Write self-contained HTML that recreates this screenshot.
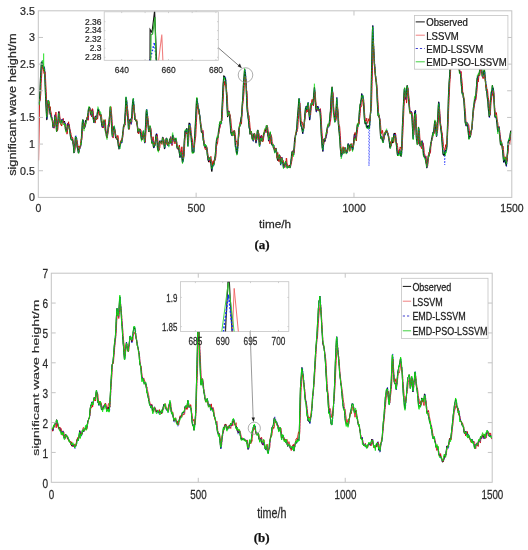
<!DOCTYPE html>
<html><head><meta charset="utf-8"><title>Significant wave height forecasts</title>
<style>html,body{margin:0;padding:0;background:#fff;}body{width:528px;height:550px;overflow:hidden;}svg{display:block;filter:blur(0.3px);}</style>
</head><body>
<svg width="528" height="550" viewBox="0 0 528 550">
<rect width="528" height="550" fill="#fff"/>
<clipPath id="ca"><rect x="38.3" y="10.8" width="473.5" height="186.6"/></clipPath>
<g clip-path="url(#ca)"><path d="M38.60,102.27 38.92,104.21 39.23,103.79 39.55,100.46 39.86,95.15 40.18,88.89 40.49,79.27 40.81,73.46 41.12,68.86 41.44,62.30 41.76,62.13 42.07,62.40 42.39,63.20 42.70,64.37 43.02,66.71 43.33,69.01 43.65,68.67 43.96,69.32 44.28,67.16 44.60,71.25 44.91,77.07 45.23,85.48 45.54,94.05 45.86,102.59 46.17,108.13 46.49,113.72 46.80,119.48 47.12,116.97 47.44,111.35 47.75,105.56 48.07,100.54 48.38,101.14 48.70,103.61 49.01,103.27 49.33,107.10 49.64,108.59 49.96,112.51 50.28,114.21 50.59,113.83 50.91,115.56 51.22,117.01 51.54,117.04 51.85,118.79 52.17,119.18 52.48,121.01 52.80,125.92 53.12,127.40 53.43,126.51 53.75,127.31 54.06,126.47 54.38,122.48 54.69,119.82 55.01,115.28 55.32,115.00 55.64,118.47 55.95,123.78 56.27,126.20 56.59,131.15 56.90,130.83 57.22,128.58 57.53,124.27 57.85,121.52 58.16,119.35 58.48,113.99 58.79,111.78 59.11,114.68 59.43,117.02 59.74,120.30 60.06,122.51 60.37,122.88 60.69,121.95 61.00,122.45 61.32,121.64 61.63,121.03 61.95,119.75 62.27,121.15 62.58,119.86 62.90,121.25 63.21,122.59 63.53,122.23 63.84,121.62 64.16,121.95 64.47,121.60 64.79,124.71 65.11,123.34 65.42,128.64 65.74,130.15 66.05,130.18 66.37,130.48 66.68,131.71 67.00,128.39 67.31,126.70 67.63,124.00 67.95,123.77 68.26,124.03 68.58,124.12 68.89,125.17 69.21,128.35 69.52,129.18 69.84,131.04 70.15,133.10 70.47,136.24 70.79,138.19 71.10,138.92 71.42,139.90 71.73,139.89 72.05,140.02 72.36,139.44 72.68,140.64 72.99,143.15 73.31,144.58 73.63,147.68 73.94,152.61 74.26,152.35 74.57,148.96 74.89,144.37 75.20,140.69 75.52,136.62 75.83,137.74 76.15,137.40 76.47,138.45 76.78,142.48 77.10,146.28 77.41,147.97 77.73,148.62 78.04,150.73 78.36,152.64 78.67,152.67 78.99,149.81 79.31,149.04 79.62,148.49 79.94,146.59 80.25,146.65 80.57,145.77 80.88,144.57 81.20,142.71 81.51,137.79 81.83,131.93 82.15,126.67 82.46,122.36 82.78,119.99 83.09,120.14 83.41,121.00 83.72,124.98 84.04,128.31 84.35,128.19 84.67,127.04 84.98,126.47 85.30,125.14 85.62,120.76 85.93,121.44 86.25,120.16 86.56,120.35 86.88,118.24 87.19,118.40 87.51,118.92 87.82,115.06 88.14,112.89 88.46,109.63 88.77,108.79 89.09,107.74 89.40,107.72 89.72,107.71 90.03,110.50 90.35,110.60 90.66,112.95 90.98,114.92 91.30,114.79 91.61,113.30 91.93,110.81 92.24,109.82 92.56,111.57 92.87,115.83 93.19,117.39 93.50,119.46 93.82,122.23 94.14,121.73 94.45,120.74 94.77,120.85 95.08,118.48 95.40,116.30 95.71,116.38 96.03,118.11 96.34,119.16 96.66,117.69 96.98,116.06 97.29,113.51 97.61,111.71 97.92,109.23 98.24,109.45 98.55,109.99 98.87,111.49 99.18,112.11 99.50,112.99 99.82,114.67 100.13,115.17 100.45,114.49 100.76,114.71 101.08,119.14 101.39,121.97 101.71,123.95 102.02,125.82 102.34,127.17 102.66,126.64 102.97,124.85 103.29,122.11 103.60,121.27 103.92,120.99 104.23,121.77 104.55,121.72 104.86,124.54 105.18,127.46 105.50,131.06 105.81,132.45 106.13,132.82 106.44,135.90 106.76,136.61 107.07,137.53 107.39,133.99 107.70,131.99 108.02,129.48 108.34,125.45 108.65,125.01 108.97,122.36 109.28,119.35 109.60,116.03 109.91,112.12 110.23,107.34 110.54,109.12 110.86,112.31 111.18,114.96 111.49,122.11 111.81,128.75 112.12,134.03 112.44,136.43 112.75,132.40 113.07,130.42 113.38,129.24 113.70,127.58 114.01,126.78 114.33,127.60 114.65,130.41 114.96,131.69 115.28,134.71 115.59,136.75 115.91,137.70 116.22,138.01 116.54,138.13 116.85,139.01 117.17,139.03 117.49,139.29 117.80,140.69 118.12,143.48 118.43,146.12 118.75,146.52 119.06,148.83 119.38,148.01 119.69,146.70 120.01,145.57 120.33,144.68 120.64,142.31 120.96,141.97 121.27,140.92 121.59,142.63 121.90,141.42 122.22,138.66 122.53,135.64 122.85,132.38 123.17,130.78 123.48,126.63 123.80,126.24 124.11,124.60 124.43,125.69 124.74,120.58 125.06,115.62 125.37,111.74 125.69,102.97 126.01,97.57 126.32,100.23 126.64,100.96 126.95,106.37 127.27,109.94 127.58,115.02 127.90,119.78 128.21,122.59 128.53,128.83 128.85,128.33 129.16,124.61 129.48,122.05 129.79,119.99 130.11,119.57 130.42,121.28 130.74,121.34 131.05,123.76 131.37,120.35 131.69,117.21 132.00,113.35 132.32,107.12 132.63,102.82 132.95,100.87 133.26,99.21 133.58,103.46 133.89,106.85 134.21,110.40 134.53,114.76 134.84,119.34 135.16,119.57 135.47,119.83 135.79,120.37 136.10,120.46 136.42,121.44 136.73,121.40 137.05,124.18 137.37,125.58 137.68,130.08 138.00,132.52 138.31,130.95 138.63,131.15 138.94,130.81 139.26,129.86 139.57,129.20 139.89,129.38 140.21,131.84 140.52,133.76 140.84,135.02 141.15,137.19 141.47,138.97 141.78,139.60 142.10,139.26 142.41,137.14 142.73,134.51 143.04,133.42 143.36,131.31 143.68,135.16 143.99,137.03 144.31,139.55 144.62,142.55 144.94,137.36 145.25,133.77 145.57,126.01 145.88,120.19 146.20,113.12 146.52,109.86 146.83,111.56 147.15,112.89 147.46,118.38 147.78,121.67 148.09,124.92 148.41,128.35 148.72,131.47 149.04,130.90 149.36,129.56 149.67,129.58 149.99,126.35 150.30,128.59 150.62,131.01 150.93,134.73 151.25,136.93 151.56,140.00 151.88,142.87 152.20,141.62 152.51,140.74 152.83,141.26 153.14,143.80 153.46,146.56 153.77,147.57 154.09,146.46 154.40,145.99 154.72,145.34 155.04,144.80 155.35,140.91 155.67,139.12 155.98,135.73 156.30,134.28 156.61,135.36 156.93,139.16 157.24,142.92 157.56,147.68 157.88,149.94 158.19,149.91 158.51,150.48 158.82,145.60 159.14,143.04 159.45,141.94 159.77,141.23 160.08,142.43 160.40,141.38 160.72,141.59 161.03,142.55 161.35,142.98 161.66,142.46 161.98,140.79 162.29,139.68 162.61,137.36 162.92,138.61 163.24,138.44 163.56,139.89 163.87,143.19 164.19,145.77 164.50,148.53 164.82,147.67 165.13,144.25 165.45,143.55 165.76,143.17 166.08,139.09 166.40,138.27 166.71,139.31 167.03,139.46 167.34,141.38 167.66,143.25 167.97,145.38 168.29,143.57 168.60,143.96 168.92,143.88 169.24,142.46 169.55,139.70 169.87,139.59 170.18,138.58 170.50,141.40 170.81,142.44 171.13,143.38 171.44,143.20 171.76,142.50 172.07,139.34 172.39,137.06 172.71,135.14 173.02,136.35 173.34,138.09 173.65,139.17 173.97,138.91 174.28,141.48 174.60,141.71 174.91,140.64 175.23,140.18 175.55,138.53 175.86,139.56 176.18,140.16 176.49,143.33 176.81,145.72 177.12,147.72 177.44,148.59 177.75,148.60 178.07,147.52 178.39,147.51 178.70,148.41 179.02,150.40 179.33,152.73 179.65,154.37 179.96,157.25 180.28,156.10 180.59,153.79 180.91,152.49 181.23,152.26 181.54,154.24 181.86,156.79 182.17,159.11 182.49,162.25 182.80,161.08 183.12,160.67 183.43,158.10 183.75,154.42 184.07,146.27 184.38,140.11 184.70,136.89 185.01,131.47 185.33,130.98 185.64,131.27 185.96,131.96 186.27,131.00 186.59,129.01 186.91,128.69 187.22,133.04 187.54,138.41 187.85,145.38 188.17,141.06 188.48,134.67 188.80,128.47 189.11,123.20 189.43,124.64 189.75,123.58 190.06,128.38 190.38,130.57 190.69,134.47 191.01,135.16 191.32,139.07 191.64,142.86 191.95,146.57 192.27,151.95 192.59,152.32 192.90,151.96 193.22,152.68 193.53,152.45 193.85,151.71 194.16,145.45 194.48,140.64 194.79,135.43 195.11,129.86 195.43,124.31 195.74,117.18 196.06,111.69 196.37,104.78 196.69,98.55 197.00,98.62 197.32,101.72 197.63,103.96 197.95,107.51 198.27,108.54 198.58,108.75 198.90,110.12 199.21,111.99 199.53,114.81 199.84,116.07 200.16,119.26 200.47,123.75 200.79,126.05 201.11,128.22 201.42,131.86 201.74,131.84 202.05,132.58 202.37,132.25 202.68,133.48 203.00,137.20 203.31,140.34 203.63,141.09 203.94,143.72 204.26,145.71 204.58,145.92 204.89,144.78 205.21,147.37 205.52,145.34 205.84,147.07 206.15,146.55 206.47,147.00 206.78,148.69 207.10,151.77 207.42,155.21 207.73,156.34 208.05,159.95 208.36,160.26 208.68,161.59 208.99,159.92 209.31,160.13 209.62,159.08 209.94,157.54 210.26,158.10 210.57,162.24 210.89,162.85 211.20,165.95 211.52,169.33 211.83,171.08 212.15,168.33 212.46,167.24 212.78,165.53 213.10,163.87 213.41,165.14 213.73,163.02 214.04,163.47 214.36,160.00 214.67,160.52 214.99,157.09 215.30,155.98 215.62,151.49 215.94,147.54 216.25,144.02 216.57,140.32 216.88,139.06 217.20,137.97 217.51,137.67 217.83,137.41 218.14,136.12 218.46,132.26 218.78,130.01 219.09,128.51 219.41,127.57 219.72,124.71 220.04,122.49 220.35,122.88 220.67,121.86 220.98,121.93 221.30,122.83 221.62,117.56 221.93,111.00 222.25,104.99 222.56,97.98 222.88,90.83 223.19,84.11 223.51,80.50 223.82,75.93 224.14,76.19 224.46,78.14 224.77,76.99 225.09,78.42 225.40,78.46 225.72,81.20 226.03,85.96 226.35,91.27 226.66,95.71 226.98,104.55 227.30,110.68 227.61,116.53 227.93,114.77 228.24,113.57 228.56,111.80 228.87,111.24 229.19,113.19 229.50,114.40 229.82,119.35 230.14,122.38 230.45,126.23 230.77,131.91 231.08,133.10 231.40,132.88 231.71,135.19 232.03,134.31 232.34,132.42 232.66,133.79 232.97,132.92 233.29,132.07 233.61,131.51 233.92,131.06 234.24,130.92 234.55,134.74 234.87,137.53 235.18,141.70 235.50,146.70 235.81,146.46 236.13,149.52 236.45,152.26 236.76,153.62 237.08,153.86 237.39,151.65 237.71,146.38 238.02,142.62 238.34,137.99 238.65,133.34 238.97,128.91 239.29,127.30 239.60,125.97 239.92,125.76 240.23,124.57 240.55,121.34 240.86,120.12 241.18,117.42 241.49,116.62 241.81,112.39 242.13,106.98 242.44,103.03 242.76,99.00 243.07,94.95 243.39,86.89 243.70,81.06 244.02,77.87 244.33,73.72 244.65,69.28 244.97,71.98 245.28,72.76 245.60,76.87 245.91,82.25 246.23,87.19 246.54,94.38 246.86,104.08 247.17,108.89 247.49,112.46 247.81,114.44 248.12,117.56 248.44,119.30 248.75,123.36 249.07,126.56 249.38,128.01 249.70,129.39 250.01,134.04 250.33,133.76 250.65,132.90 250.96,132.28 251.28,131.75 251.59,133.75 251.91,136.51 252.22,138.58 252.54,139.31 252.85,139.24 253.17,140.69 253.49,136.40 253.80,134.61 254.12,133.88 254.43,133.86 254.75,135.78 255.06,137.34 255.38,138.72 255.69,139.83 256.01,142.62 256.33,140.15 256.64,137.35 256.96,135.01 257.27,132.37 257.59,130.41 257.90,130.47 258.22,132.43 258.53,133.46 258.85,138.44 259.17,142.21 259.48,145.71 259.80,144.38 260.11,141.58 260.43,138.76 260.74,136.61 261.06,139.25 261.37,138.67 261.69,140.20 262.00,140.91 262.32,140.46 262.64,138.83 262.95,138.35 263.27,136.53 263.58,134.02 263.90,133.17 264.21,133.78 264.53,132.40 264.84,131.91 265.16,130.75 265.48,130.80 265.79,128.97 266.11,128.58 266.42,125.80 266.74,126.71 267.05,126.04 267.37,129.50 267.68,132.58 268.00,135.85 268.32,136.88 268.63,140.59 268.95,139.11 269.26,137.73 269.58,138.01 269.89,134.71 270.21,132.71 270.52,135.28 270.84,136.87 271.16,138.61 271.47,142.68 271.79,144.28 272.10,144.81 272.42,144.68 272.73,145.31 273.05,145.21 273.36,147.47 273.68,145.74 274.00,149.00 274.31,149.49 274.63,152.02 274.94,151.84 275.26,151.12 275.57,149.53 275.89,148.34 276.20,149.31 276.52,152.42 276.84,154.73 277.15,157.70 277.47,159.36 277.78,160.23 278.10,160.35 278.41,160.10 278.73,158.89 279.04,155.37 279.36,155.23 279.68,155.41 279.99,157.71 280.31,161.11 280.62,164.26 280.94,163.12 281.25,160.80 281.57,158.80 281.88,157.84 282.20,160.57 282.52,160.54 282.83,162.79 283.15,164.12 283.46,167.23 283.78,166.21 284.09,167.04 284.41,164.66 284.72,164.11 285.04,163.37 285.36,163.49 285.67,161.75 285.99,162.13 286.30,165.10 286.62,164.88 286.93,166.29 287.25,167.68 287.56,167.53 287.88,167.14 288.20,167.18 288.51,167.03 288.83,167.08 289.14,165.70 289.46,166.48 289.77,166.41 290.09,167.51 290.40,165.10 290.72,163.43 291.03,160.51 291.35,158.29 291.67,154.63 291.98,152.30 292.30,151.46 292.61,151.87 292.93,153.37 293.24,153.86 293.56,154.70 293.87,150.17 294.19,147.22 294.51,141.92 294.82,138.95 295.14,137.27 295.45,135.18 295.77,134.60 296.08,134.08 296.40,131.65 296.71,128.50 297.03,124.76 297.35,119.90 297.66,114.98 297.98,112.08 298.29,108.66 298.61,103.57 298.92,98.96 299.24,99.15 299.55,104.98 299.87,109.25 300.19,117.29 300.50,122.04 300.82,124.78 301.13,126.21 301.45,125.86 301.76,128.30 302.08,129.14 302.39,131.23 302.71,133.25 303.03,130.85 303.34,130.47 303.66,126.17 303.97,125.07 304.29,122.42 304.60,118.80 304.92,114.48 305.23,110.97 305.55,108.35 305.87,107.45 306.18,106.34 306.50,108.43 306.81,109.98 307.13,109.03 307.44,106.73 307.76,104.36 308.07,102.79 308.39,107.64 308.71,110.07 309.02,113.17 309.34,116.51 309.65,119.64 309.97,117.18 310.28,113.51 310.60,109.26 310.91,106.30 311.23,103.30 311.55,103.21 311.86,104.81 312.18,103.43 312.49,102.78 312.81,103.79 313.12,101.12 313.44,98.99 313.75,94.51 314.07,91.61 314.39,87.77 314.70,90.98 315.02,96.42 315.33,101.65 315.65,105.57 315.96,108.88 316.28,111.48 316.59,110.22 316.91,109.34 317.23,106.53 317.54,107.44 317.86,106.91 318.17,107.66 318.49,108.54 318.80,109.97 319.12,110.55 319.43,110.56 319.75,109.66 320.06,111.43 320.38,115.98 320.70,121.47 321.01,127.75 321.33,133.89 321.64,138.90 321.96,143.60 322.27,147.50 322.59,149.45 322.90,151.01 323.22,146.56 323.54,142.92 323.85,139.69 324.17,139.06 324.48,139.78 324.80,141.25 325.11,141.03 325.43,138.52 325.74,137.87 326.06,135.62 326.38,135.48 326.69,131.65 327.01,129.59 327.32,127.91 327.64,126.06 327.95,126.80 328.27,125.00 328.58,126.14 328.90,125.53 329.22,124.29 329.53,121.11 329.85,117.63 330.16,113.76 330.48,111.58 330.79,104.82 331.11,98.24 331.42,94.60 331.74,89.26 332.06,87.13 332.37,90.42 332.69,95.39 333.00,102.40 333.32,108.73 333.63,113.59 333.95,114.62 334.26,115.54 334.58,120.23 334.90,121.50 335.21,120.75 335.53,118.47 335.84,113.25 336.16,108.82 336.47,104.34 336.79,97.96 337.10,102.82 337.42,108.47 337.74,112.52 338.05,117.43 338.37,123.33 338.68,126.99 339.00,130.06 339.31,133.02 339.63,136.81 339.94,140.19 340.26,146.23 340.58,150.28 340.89,153.76 341.21,156.48 341.52,155.27 341.84,154.88 342.15,152.91 342.47,148.65 342.78,150.10 343.10,150.97 343.42,152.08 343.73,152.51 344.05,150.88 344.36,152.04 344.68,149.89 344.99,147.72 345.31,149.66 345.62,151.11 345.94,151.50 346.26,152.90 346.57,152.09 346.89,152.78 347.20,150.61 347.52,148.06 347.83,144.54 348.15,143.90 348.46,145.44 348.78,146.95 349.09,147.23 349.41,149.19 349.73,147.38 350.04,145.11 350.36,144.58 350.67,145.61 350.99,144.17 351.30,144.77 351.62,147.26 351.93,147.44 352.25,148.67 352.57,149.99 352.88,148.92 353.20,146.36 353.51,144.27 353.83,140.59 354.14,136.87 354.46,134.20 354.77,135.87 355.09,136.63 355.41,136.19 355.72,138.67 356.04,134.83 356.35,132.92 356.67,130.48 356.98,128.02 357.30,125.48 357.61,124.48 357.93,124.16 358.25,125.38 358.56,124.15 358.88,119.46 359.19,115.48 359.51,111.16 359.82,107.62 360.14,104.84 360.45,104.09 360.77,102.02 361.09,100.50 361.40,98.55 361.72,93.87 362.03,95.73 362.35,95.43 362.66,95.73 362.98,96.87 363.29,100.69 363.61,105.08 363.93,109.82 364.24,115.47 364.56,120.01 364.87,122.16 365.19,123.63 365.50,123.05 365.82,123.11 366.13,122.77 366.45,126.43 366.77,127.39 367.08,127.48 367.40,126.78 367.71,127.65 368.03,125.75 368.34,127.50 368.66,126.46 368.97,127.36 369.29,128.07 369.61,125.04 369.92,120.08 370.24,115.62 370.55,112.35 370.87,110.32 371.18,94.88 371.50,77.34 371.81,61.69 372.13,46.35 372.45,31.82 372.76,25.84 373.08,34.93 373.39,43.88 373.71,51.57 374.02,55.51 374.34,62.79 374.65,66.34 374.97,69.59 375.29,74.40 375.60,77.69 375.92,79.71 376.23,82.10 376.55,86.13 376.86,90.18 377.18,98.25 377.49,104.27 377.81,110.78 378.13,115.53 378.44,114.09 378.76,116.05 379.07,117.14 379.39,117.35 379.70,121.30 380.02,126.91 380.33,132.17 380.65,136.67 380.96,138.14 381.28,138.40 381.60,137.03 381.91,137.16 382.23,139.54 382.54,139.66 382.86,141.38 383.17,142.21 383.49,140.23 383.80,137.75 384.12,135.86 384.44,133.69 384.75,134.94 385.07,134.78 385.38,132.59 385.70,131.83 386.01,131.69 386.33,131.12 386.64,130.80 386.96,132.02 387.28,133.16 387.59,133.24 387.91,134.69 388.22,135.40 388.54,136.47 388.85,138.67 389.17,141.02 389.48,142.98 389.80,146.55 390.12,147.97 390.43,147.77 390.75,145.40 391.06,143.69 391.38,143.78 391.69,140.95 392.01,139.92 392.32,141.07 392.64,142.56 392.96,141.60 393.27,141.30 393.59,137.53 393.90,134.33 394.22,133.52 394.53,133.78 394.85,133.95 395.16,133.53 395.48,136.98 395.80,139.44 396.11,142.21 396.43,143.92 396.74,148.36 397.06,150.87 397.37,153.93 397.69,155.23 398.00,154.73 398.32,152.30 398.64,154.03 398.95,152.68 399.27,153.47 399.58,150.00 399.90,150.86 400.21,152.88 400.53,154.90 400.84,155.96 401.16,156.04 401.48,154.27 401.79,146.64 402.11,137.02 402.42,127.77 402.74,120.29 403.05,115.50 403.37,106.96 403.68,100.85 404.00,94.18 404.32,89.62 404.63,88.42 404.95,92.07 405.26,94.29 405.58,96.90 405.89,99.07 406.21,95.22 406.52,91.48 406.84,88.13 407.16,85.66 407.47,86.86 407.79,89.83 408.10,93.82 408.42,97.72 408.73,100.97 409.05,104.49 409.36,107.64 409.68,111.64 409.99,111.61 410.31,112.50 410.63,112.45 410.94,112.36 411.26,111.86 411.57,113.72 411.89,116.08 412.20,120.62 412.52,127.25 412.83,133.62 413.15,138.51 413.47,131.65 413.78,128.20 414.10,123.02 414.41,118.29 414.73,112.44 415.04,111.80 415.36,110.62 415.67,119.83 415.99,127.48 416.31,136.15 416.62,139.73 416.94,140.90 417.25,143.99 417.57,143.80 417.88,137.04 418.20,132.89 418.51,127.30 418.83,129.25 419.15,135.26 419.46,139.74 419.78,143.21 420.09,145.66 420.41,145.34 420.72,145.68 421.04,145.00 421.35,143.45 421.67,142.18 421.99,141.00 422.30,142.81 422.62,143.10 422.93,147.09 423.25,150.60 423.56,155.50 423.88,154.90 424.19,156.83 424.51,156.99 424.83,156.62 425.14,158.15 425.46,157.76 425.77,161.43 426.09,162.74 426.40,164.06 426.72,167.69 427.03,166.01 427.35,164.37 427.67,161.49 427.98,159.21 428.30,155.82 428.61,156.09 428.93,155.81 429.24,153.87 429.56,152.40 429.87,150.01 430.19,148.27 430.51,145.96 430.82,143.50 431.14,142.48 431.45,140.53 431.77,138.23 432.08,137.90 432.40,135.23 432.71,134.68 433.03,132.49 433.35,133.37 433.66,132.76 433.98,128.97 434.29,126.49 434.61,122.60 434.92,121.14 435.24,122.23 435.55,126.17 435.87,130.00 436.19,132.82 436.50,136.08 436.82,133.42 437.13,129.55 437.45,122.99 437.76,118.13 438.08,111.72 438.39,105.86 438.71,102.19 439.02,104.38 439.34,111.59 439.66,116.56 439.97,121.10 440.29,124.24 440.60,126.40 440.92,129.37 441.23,131.42 441.55,133.86 441.86,139.82 442.18,142.54 442.50,147.19 442.81,151.28 443.13,154.22 443.44,154.57 443.76,154.87 444.07,155.40 444.39,154.73 444.70,152.97 445.02,150.75 445.34,153.06 445.65,151.49 445.97,150.42 446.28,150.33 446.60,147.89 446.91,145.26 447.23,135.68 447.54,126.87 447.86,117.59 448.18,107.78 448.49,96.86 448.81,90.07 449.12,83.55 449.44,78.95 449.75,75.11 450.07,65.93 450.38,56.95 450.70,50.98 451.02,43.55 451.33,38.62 451.65,37.72 451.96,37.56 452.28,36.75 452.59,33.32 452.91,30.72 453.22,31.77 453.54,32.32 453.86,33.39 454.17,34.11 454.49,37.69 454.80,38.86 455.12,41.20 455.43,46.64 455.75,48.34 456.06,52.42 456.38,53.35 456.70,54.51 457.01,55.03 457.33,56.93 457.64,57.61 457.96,58.45 458.27,61.71 458.59,63.11 458.90,67.05 459.22,69.58 459.54,71.06 459.85,72.79 460.17,72.72 460.48,73.27 460.80,77.50 461.11,81.34 461.43,84.85 461.74,88.31 462.06,92.94 462.38,92.09 462.69,93.24 463.01,94.80 463.32,97.57 463.64,98.33 463.95,100.96 464.27,106.07 464.58,111.31 464.90,115.80 465.22,122.13 465.53,123.26 465.85,124.70 466.16,125.69 466.48,124.34 466.79,122.66 467.11,123.59 467.42,125.28 467.74,127.06 468.05,129.49 468.37,132.54 468.69,136.25 469.00,138.60 469.32,137.72 469.63,136.68 469.95,136.16 470.26,136.47 470.58,133.97 470.89,131.75 471.21,130.93 471.53,130.06 471.84,128.91 472.16,124.32 472.47,120.68 472.79,115.60 473.10,111.90 473.42,108.25 473.73,106.94 474.05,104.02 474.37,102.11 474.68,99.85 475.00,99.93 475.31,98.34 475.63,96.43 475.94,94.86 476.26,90.36 476.57,86.45 476.89,81.31 477.21,78.23 477.52,79.02 477.84,76.28 478.15,75.67 478.47,74.35 478.78,74.49 479.10,75.07 479.41,73.17 479.73,69.29 480.05,67.01 480.36,66.57 480.68,65.38 480.99,67.87 481.31,68.68 481.62,69.22 481.94,72.83 482.25,76.04 482.57,76.71 482.89,75.06 483.20,74.79 483.52,73.02 483.83,70.96 484.15,71.72 484.46,70.66 484.78,74.14 485.09,77.06 485.41,80.33 485.73,83.65 486.04,86.24 486.36,90.71 486.67,91.17 486.99,93.68 487.30,96.97 487.62,99.65 487.93,101.45 488.25,107.04 488.57,110.41 488.88,112.45 489.20,116.74 489.51,116.15 489.83,113.13 490.14,106.67 490.46,100.44 490.77,99.07 491.09,95.29 491.41,91.69 491.72,91.48 492.04,89.85 492.35,85.72 492.67,87.45 492.98,88.09 493.30,88.88 493.61,94.54 493.93,98.41 494.25,104.93 494.56,110.70 494.88,115.79 495.19,117.05 495.51,117.20 495.82,116.77 496.14,117.13 496.45,118.67 496.77,122.00 497.08,124.01 497.40,127.77 497.72,131.28 498.03,129.72 498.35,128.37 498.66,127.46 498.98,126.90 499.29,129.94 499.61,135.22 499.92,137.13 500.24,141.16 500.56,144.47 500.87,144.89 501.19,144.42 501.50,143.33 501.82,144.55 502.13,146.11 502.45,148.76 502.76,151.35 503.08,155.56 503.40,158.83 503.71,161.92 504.03,161.28 504.34,160.46 504.66,160.10 504.97,158.88 505.29,160.32 505.60,163.32 505.92,163.12 506.24,165.62 506.55,163.18 506.87,160.21 507.18,155.65 507.50,153.09 507.81,146.65 508.13,142.76 508.44,141.20 508.76,140.30 509.08,140.31 509.39,139.70 509.71,140.22 510.02,136.38 510.34,133.52 510.65,132.21 510.97,131.04 511.28,130.88 511.60,130.56" fill="none" stroke="#000" stroke-width="1.3" stroke-linejoin="round"/><path d="M38.60,160.40 38.92,140.00 39.23,120.00 39.55,99.03 39.86,100.41 40.18,100.42 40.49,96.97 40.81,93.33 41.12,83.50 41.44,78.71 41.76,74.19 42.07,67.07 42.39,66.45 42.70,67.40 43.02,67.50 43.33,69.19 43.65,71.62 43.96,73.11 44.28,74.10 44.60,74.39 44.91,71.83 45.23,74.88 45.54,78.31 45.86,85.79 46.17,91.33 46.49,99.36 46.80,104.18 47.12,110.47 47.44,116.14 47.75,113.86 48.07,108.45 48.38,104.94 48.70,100.74 49.01,101.41 49.33,105.29 49.64,106.57 49.96,107.88 50.28,106.76 50.59,110.34 50.91,111.96 51.22,113.10 51.54,114.43 51.85,118.48 52.17,119.45 52.48,121.59 52.80,120.42 53.12,123.11 53.43,126.33 53.75,127.55 54.06,128.29 54.38,127.21 54.69,126.92 55.01,121.27 55.32,117.19 55.64,113.68 55.95,112.15 56.27,116.93 56.59,122.77 56.90,125.15 57.22,130.52 57.53,130.71 57.85,129.17 58.16,124.21 58.48,122.35 58.79,121.03 59.11,115.44 59.43,111.74 59.74,115.83 60.06,120.27 60.37,121.82 60.69,123.60 61.00,125.17 61.32,124.61 61.63,126.06 61.95,124.89 62.27,123.43 62.58,120.68 62.90,120.16 63.21,118.37 63.53,120.73 63.84,123.11 64.16,123.50 64.47,122.57 64.79,123.71 65.11,123.93 65.42,127.02 65.74,124.11 66.05,129.30 66.37,132.03 66.68,132.49 67.00,134.17 67.31,133.52 67.63,128.75 67.95,125.65 68.26,123.37 68.58,121.78 68.89,124.45 69.21,124.61 69.52,126.49 69.84,129.22 70.15,130.11 70.47,133.89 70.79,132.73 71.10,134.69 71.42,135.98 71.73,137.02 72.05,138.12 72.36,137.55 72.68,137.71 72.99,139.81 73.31,142.59 73.63,144.97 73.94,145.24 74.26,147.78 74.57,152.16 74.89,149.55 75.20,146.66 75.52,144.25 75.83,141.85 76.15,138.71 76.47,139.32 76.78,141.46 77.10,140.65 77.41,142.95 77.73,144.36 78.04,147.12 78.36,146.11 78.67,146.72 78.99,149.35 79.31,151.66 79.62,148.51 79.94,145.93 80.25,147.33 80.57,143.18 80.88,141.45 81.20,139.07 81.51,138.74 81.83,139.51 82.15,134.77 82.46,130.33 82.78,128.76 83.09,125.09 83.41,123.21 83.72,122.92 84.04,123.04 84.35,125.90 84.67,127.74 84.98,126.33 85.30,124.75 85.62,124.00 85.93,123.04 86.25,121.50 86.56,120.40 86.88,118.51 87.19,116.81 87.51,116.33 87.82,117.95 88.14,120.32 88.46,117.11 88.77,113.75 89.09,110.48 89.40,109.90 89.72,108.17 90.03,109.13 90.35,110.14 90.66,111.79 90.98,111.52 91.30,113.92 91.61,116.94 91.93,113.17 92.24,108.79 92.56,108.68 92.87,109.66 93.19,112.16 93.50,115.49 93.82,116.98 94.14,117.08 94.45,120.41 94.77,121.94 95.08,123.12 95.40,122.13 95.71,119.10 96.03,119.20 96.34,115.74 96.66,116.67 96.98,119.29 97.29,118.14 97.61,118.99 97.92,115.57 98.24,113.94 98.55,111.10 98.87,112.27 99.18,111.20 99.50,113.94 99.82,114.55 100.13,114.44 100.45,116.93 100.76,114.82 101.08,114.55 101.39,115.08 101.71,118.01 102.02,120.41 102.34,123.13 102.66,124.79 102.97,127.12 103.29,128.06 103.60,124.63 103.92,121.47 104.23,120.82 104.55,120.08 104.86,120.77 105.18,119.58 105.50,122.66 105.81,128.55 106.13,131.96 106.44,134.18 106.76,133.60 107.07,137.59 107.39,137.19 107.70,134.95 108.02,132.61 108.34,129.97 108.65,128.24 108.97,125.79 109.28,126.37 109.60,124.45 109.91,117.82 110.23,111.96 110.54,110.12 110.86,106.73 111.18,110.13 111.49,112.67 111.81,116.07 112.12,121.90 112.44,129.63 112.75,134.29 113.07,138.05 113.38,133.38 113.70,133.52 114.01,132.63 114.33,129.86 114.65,129.00 114.96,129.60 115.28,131.16 115.59,133.95 115.91,134.95 116.22,137.27 116.54,137.35 116.85,139.31 117.17,138.13 117.49,137.49 117.80,135.40 118.12,136.31 118.43,139.39 118.75,142.80 119.06,145.33 119.38,144.76 119.69,145.22 120.01,144.63 120.33,142.75 120.64,141.74 120.96,141.55 121.27,139.79 121.59,139.81 121.90,138.73 122.22,139.52 122.53,138.69 122.85,136.08 123.17,132.53 123.48,130.35 123.80,127.92 124.11,124.82 124.43,125.60 124.74,123.93 125.06,125.14 125.37,119.96 125.69,115.98 126.01,115.67 126.32,110.09 126.64,104.96 126.95,105.45 127.27,106.01 127.58,108.97 127.90,110.93 128.21,115.47 128.53,120.60 128.85,124.23 129.16,129.30 129.48,129.11 129.79,123.98 130.11,122.05 130.42,119.89 130.74,120.41 131.05,119.61 131.37,118.81 131.69,122.38 132.00,119.42 132.32,118.19 132.63,114.09 132.95,111.64 133.26,107.25 133.58,106.13 133.89,104.93 134.21,109.67 134.53,111.83 134.84,113.47 135.16,117.39 135.47,119.40 135.79,119.68 136.10,119.87 136.42,120.80 136.73,119.69 137.05,123.66 137.37,126.70 137.68,128.76 138.00,128.07 138.31,133.14 138.63,133.99 138.94,131.94 139.26,132.07 139.57,130.22 139.89,129.68 140.21,129.16 140.52,129.44 140.84,129.97 141.15,131.23 141.47,132.57 141.78,135.75 142.10,137.16 142.41,138.92 142.73,138.84 143.04,137.43 143.36,135.16 143.68,134.35 143.99,133.60 144.31,137.76 144.62,137.29 144.94,139.07 145.25,142.30 145.57,137.63 145.88,133.67 146.20,128.46 146.52,124.32 146.83,119.85 147.15,115.63 147.46,115.93 147.78,116.39 148.09,119.49 148.41,122.59 148.72,125.84 149.04,127.76 149.36,132.07 149.67,130.20 149.99,129.17 150.30,129.57 150.62,127.62 150.93,128.42 151.25,131.65 151.56,136.30 151.88,140.56 152.20,140.21 152.51,141.98 152.83,138.04 153.14,136.75 153.46,140.58 153.77,142.70 154.09,145.37 154.40,142.86 154.72,142.87 155.04,143.42 155.35,141.71 155.67,141.66 155.98,138.94 156.30,138.93 156.61,135.87 156.93,136.10 157.24,134.47 157.56,137.36 157.88,140.93 158.19,145.14 158.51,147.77 158.82,148.51 159.14,150.32 159.45,148.31 159.77,147.95 160.08,144.37 160.40,141.03 160.72,142.35 161.03,141.74 161.35,142.73 161.66,143.62 161.98,144.41 162.29,142.10 162.61,140.30 162.92,138.39 163.24,137.67 163.56,139.02 163.87,139.31 164.19,141.73 164.50,144.22 164.82,143.80 165.13,145.12 165.45,143.79 165.76,142.88 166.08,144.60 166.40,142.79 166.71,139.49 167.03,139.94 167.34,142.23 167.66,144.10 167.97,142.98 168.29,143.15 168.60,145.03 168.92,142.46 169.24,142.47 169.55,143.50 169.87,141.31 170.18,139.99 170.50,136.63 170.81,136.82 171.13,139.87 171.44,142.31 171.76,145.19 172.07,145.68 172.39,144.85 172.71,143.49 173.02,139.27 173.34,137.41 173.65,136.97 173.97,138.04 174.28,141.07 174.60,140.51 174.91,143.83 175.23,142.63 175.55,141.69 175.86,140.93 176.18,139.70 176.49,140.69 176.81,142.28 177.12,145.04 177.44,146.68 177.75,148.63 178.07,149.30 178.39,148.20 178.70,147.09 179.02,146.59 179.33,144.97 179.65,147.18 179.96,148.94 180.28,150.40 180.59,155.27 180.91,154.38 181.23,154.27 181.54,149.39 181.86,146.78 182.17,149.95 182.49,152.85 182.80,155.40 183.12,158.88 183.43,157.51 183.75,157.34 184.07,155.40 184.38,151.33 184.70,143.98 185.01,138.06 185.33,136.28 185.64,132.51 185.96,133.65 186.27,132.57 186.59,133.83 186.91,133.18 187.22,132.84 187.54,131.77 187.85,134.65 188.17,138.86 188.48,143.63 188.80,136.75 189.11,130.99 189.43,128.68 189.75,125.80 190.06,130.05 190.38,126.99 190.69,127.51 191.01,130.74 191.32,135.57 191.64,135.56 191.95,137.97 192.27,138.83 192.59,142.66 192.90,146.37 193.22,146.22 193.53,146.02 193.85,147.70 194.16,148.01 194.48,146.37 194.79,143.10 195.11,140.02 195.43,138.22 195.74,136.11 196.06,129.64 196.37,122.65 196.69,117.06 197.00,110.73 197.32,105.14 197.63,104.32 197.95,105.75 198.27,109.17 198.58,110.84 198.90,113.86 199.21,114.14 199.53,115.64 199.84,118.13 200.16,119.37 200.47,120.55 200.79,122.55 201.11,126.50 201.42,126.94 201.74,128.48 202.05,131.38 202.37,132.81 202.68,131.02 203.00,130.40 203.31,133.70 203.63,137.93 203.94,141.11 204.26,143.57 204.58,145.44 204.89,148.14 205.21,149.21 205.52,149.82 205.84,149.38 206.15,147.44 206.47,145.94 206.78,147.02 207.10,148.99 207.42,150.48 207.73,153.04 208.05,155.52 208.36,156.29 208.68,159.21 208.99,158.93 209.31,161.30 209.62,162.21 209.94,160.64 210.26,159.68 210.57,158.39 210.89,156.32 211.20,159.63 211.52,159.54 211.83,162.86 212.15,163.51 212.46,165.20 212.78,161.63 213.10,162.25 213.41,161.29 213.73,160.84 214.04,163.53 214.36,160.58 214.67,160.94 214.99,158.81 215.30,159.84 215.62,158.17 215.94,155.81 216.25,149.27 216.57,144.87 216.88,145.26 217.20,142.96 217.51,143.43 217.83,140.78 218.14,136.87 218.46,134.95 218.78,133.97 219.09,132.64 219.41,129.50 219.72,128.42 220.04,127.37 220.35,125.42 220.67,122.23 220.98,122.87 221.30,121.56 221.62,120.38 221.93,120.79 222.25,115.95 222.56,110.69 222.88,104.24 223.19,99.41 223.51,92.51 223.82,87.43 224.14,83.76 224.46,81.28 224.77,84.99 225.09,84.71 225.40,83.92 225.72,84.33 226.03,85.09 226.35,87.01 226.66,90.88 226.98,94.12 227.30,97.05 227.61,103.67 227.93,109.40 228.24,115.99 228.56,113.75 228.87,113.59 229.19,111.55 229.50,112.46 229.82,115.52 230.14,114.82 230.45,117.84 230.77,118.88 231.08,122.95 231.40,127.05 231.71,128.74 232.03,130.42 232.34,132.89 232.66,135.93 232.97,136.02 233.29,134.98 233.61,132.75 233.92,130.93 234.24,131.09 234.55,130.72 234.87,131.70 235.18,134.43 235.50,136.99 235.81,139.57 236.13,141.67 236.45,141.08 236.76,142.26 237.08,144.85 237.39,145.88 237.71,146.26 238.02,145.90 238.34,140.96 238.65,138.00 238.97,135.07 239.29,130.63 239.60,126.24 239.92,124.45 240.23,122.51 240.55,124.47 240.86,124.64 241.18,122.29 241.49,123.61 241.81,118.02 242.13,112.86 242.44,108.40 242.76,104.30 243.07,101.50 243.39,99.20 243.70,95.81 244.02,91.96 244.33,85.31 244.65,82.60 244.97,78.03 245.28,76.24 245.60,78.26 245.91,80.83 246.23,84.77 246.54,90.00 246.86,91.39 247.17,95.90 247.49,105.82 247.81,109.27 248.12,112.89 248.44,115.82 248.75,116.15 249.07,115.67 249.38,120.38 249.70,122.65 250.01,127.06 250.33,129.51 250.65,133.79 250.96,131.47 251.28,132.23 251.59,132.60 251.91,134.23 252.22,134.90 252.54,137.59 252.85,138.20 253.17,137.85 253.49,137.91 253.80,139.98 254.12,137.71 254.43,134.89 254.75,133.69 255.06,134.84 255.38,137.86 255.69,140.57 256.01,139.67 256.33,139.08 256.64,140.33 256.96,139.87 257.27,138.29 257.59,135.99 257.90,132.49 258.22,131.19 258.53,132.34 258.85,134.03 259.17,135.43 259.48,139.16 259.80,141.75 260.11,144.26 260.43,141.67 260.74,140.40 261.06,136.89 261.37,135.00 261.69,137.58 262.00,136.23 262.32,139.46 262.64,141.85 262.95,141.54 263.27,141.17 263.58,138.34 263.90,136.04 264.21,131.80 264.53,129.63 264.84,131.72 265.16,130.72 265.48,131.10 265.79,131.92 266.11,132.68 266.42,130.68 266.74,127.28 267.05,125.43 267.37,126.74 267.68,127.09 268.00,130.32 268.32,131.80 268.63,134.68 268.95,136.45 269.26,141.71 269.58,141.50 269.89,143.81 270.21,142.49 270.52,136.74 270.84,134.41 271.16,135.26 271.47,136.03 271.79,137.60 272.10,141.78 272.42,142.83 272.73,143.56 273.05,143.95 273.36,146.01 273.68,145.80 274.00,148.29 274.31,147.08 274.63,150.25 274.94,150.36 275.26,150.35 275.57,148.23 275.89,150.28 276.20,151.00 276.52,150.96 276.84,153.17 277.15,158.08 277.47,155.34 277.78,152.48 278.10,158.19 278.41,160.68 278.73,160.32 279.04,161.76 279.36,160.16 279.68,157.67 279.99,156.25 280.31,157.05 280.62,157.80 280.94,160.98 281.25,161.30 281.57,157.10 281.88,159.80 282.20,161.92 282.52,159.88 282.83,160.07 283.15,160.34 283.46,161.89 283.78,163.97 284.09,165.19 284.41,165.69 284.72,166.82 285.04,167.32 285.36,165.70 285.67,164.47 285.99,161.84 286.30,158.37 286.62,158.05 286.93,162.38 287.25,164.70 287.56,164.50 287.88,166.11 288.20,167.31 288.51,166.38 288.83,167.66 289.14,167.69 289.46,166.59 289.77,165.50 290.09,165.90 290.40,165.41 290.72,166.19 291.03,163.86 291.35,163.64 291.67,161.56 291.98,160.36 292.30,156.10 292.61,152.57 292.93,150.74 293.24,151.65 293.56,153.99 293.87,152.43 294.19,152.79 294.51,149.50 294.82,145.87 295.14,140.26 295.45,137.70 295.77,132.82 296.08,132.44 296.40,131.61 296.71,132.09 297.03,131.90 297.35,129.47 297.66,129.23 297.98,125.48 298.29,119.67 298.61,115.23 298.92,111.28 299.24,107.12 299.55,104.30 299.87,102.93 300.19,107.61 300.50,110.35 300.82,115.08 301.13,120.30 301.45,122.42 301.76,123.42 302.08,121.89 302.39,124.56 302.71,124.14 303.03,126.21 303.34,128.68 303.66,127.33 303.97,128.38 304.29,123.84 304.60,121.88 304.92,119.01 305.23,116.65 305.55,113.21 305.87,112.90 306.18,112.82 306.50,111.35 306.81,109.86 307.13,111.89 307.44,110.95 307.76,111.55 308.07,108.89 308.39,105.59 308.71,105.40 309.02,108.44 309.34,111.25 309.65,112.71 309.97,115.39 310.28,115.34 310.60,114.93 310.91,110.66 311.23,106.83 311.55,102.72 311.86,100.18 312.18,99.35 312.49,102.32 312.81,103.82 313.12,104.24 313.44,105.98 313.75,102.74 314.07,100.65 314.39,96.66 314.70,93.65 315.02,91.72 315.33,94.09 315.65,99.03 315.96,102.99 316.28,105.54 316.59,108.09 316.91,110.35 317.23,110.71 317.54,109.96 317.86,109.16 318.17,109.92 318.49,110.19 318.80,110.39 319.12,110.23 319.43,111.27 319.75,110.88 320.06,109.16 320.38,108.66 320.70,111.50 321.01,114.60 321.33,120.86 321.64,126.63 321.96,132.17 322.27,135.92 322.59,138.48 322.90,142.02 323.22,142.97 323.54,145.05 323.85,143.14 324.17,139.89 324.48,139.60 324.80,138.49 325.11,139.77 325.43,140.02 325.74,138.02 326.06,135.26 326.38,134.04 326.69,132.28 327.01,133.45 327.32,130.40 327.64,127.96 327.95,126.92 328.27,124.37 328.58,125.05 328.90,124.28 329.22,125.95 329.53,126.05 329.85,124.88 330.16,122.48 330.48,121.51 330.79,118.48 331.11,116.29 331.42,110.02 331.74,102.89 332.06,98.00 332.37,93.11 332.69,92.39 333.00,92.43 333.32,98.56 333.63,106.29 333.95,109.43 334.26,114.71 334.58,113.98 334.90,116.07 335.21,121.17 335.53,120.19 335.84,120.68 336.16,119.50 336.47,115.46 336.79,113.30 337.10,109.67 337.42,105.39 337.74,108.33 338.05,112.54 338.37,115.36 338.68,120.92 339.00,126.33 339.31,126.10 339.63,126.29 339.94,130.46 340.26,135.35 340.58,140.40 340.89,146.56 341.21,149.15 341.52,151.11 341.84,153.15 342.15,151.91 342.47,152.28 342.78,150.20 343.10,146.70 343.42,147.18 343.73,150.25 344.05,153.30 344.36,152.56 344.68,148.06 344.99,151.50 345.31,150.41 345.62,149.15 345.94,151.57 346.26,151.79 346.57,150.15 346.89,150.21 347.20,150.58 347.52,151.23 347.83,150.22 348.15,148.08 348.46,146.14 348.78,145.79 349.09,147.93 349.41,150.79 349.73,150.87 350.04,150.99 350.36,148.57 350.67,144.66 350.99,143.94 351.30,145.58 351.62,143.96 351.93,143.65 352.25,146.77 352.57,146.46 352.88,146.83 353.20,147.13 353.51,146.16 353.83,143.55 354.14,142.40 354.46,137.63 354.77,135.22 355.09,132.46 355.41,134.05 355.72,136.67 356.04,136.73 356.35,141.03 356.67,137.17 356.98,134.54 357.30,132.04 357.61,129.55 357.93,125.88 358.25,124.10 358.56,121.21 358.88,123.93 359.19,123.11 359.51,119.20 359.82,116.90 360.14,113.41 360.45,108.42 360.77,106.10 361.09,106.38 361.40,106.61 361.72,106.04 362.03,102.44 362.35,100.01 362.66,100.52 362.98,99.61 363.29,99.25 363.61,99.22 363.93,103.97 364.24,108.22 364.56,112.60 364.87,116.62 365.19,119.51 365.50,121.55 365.82,120.64 366.13,121.10 366.45,119.37 366.77,118.23 367.08,122.68 367.40,122.81 367.71,123.40 368.03,120.85 368.34,121.00 368.66,118.87 368.97,118.97 369.29,118.78 369.61,119.30 369.92,121.05 370.24,117.07 370.55,113.31 370.87,108.16 371.18,107.42 371.50,106.13 371.81,94.49 372.13,81.42 372.45,70.86 372.76,58.61 373.08,46.67 373.39,40.00 373.71,48.71 374.02,54.74 374.34,60.97 374.65,65.17 374.97,71.39 375.29,73.94 375.60,76.23 375.92,79.22 376.23,81.33 376.55,82.12 376.86,85.39 377.18,91.83 377.49,93.47 377.81,99.84 378.13,104.22 378.44,111.49 378.76,115.90 379.07,115.01 379.39,118.14 379.70,118.48 380.02,119.22 380.33,122.43 380.65,125.69 380.96,129.96 381.28,133.65 381.60,132.76 381.91,132.15 382.23,130.26 382.54,130.46 382.86,133.71 383.17,136.34 383.49,140.29 383.80,138.95 384.12,138.26 384.44,134.70 384.75,132.97 385.07,132.15 385.38,132.56 385.70,131.42 386.01,130.97 386.33,130.46 386.64,131.47 386.96,131.06 387.28,131.35 387.59,133.55 387.91,132.99 388.22,134.36 388.54,135.32 388.85,138.26 389.17,139.54 389.48,140.50 389.80,141.08 390.12,142.27 390.43,141.79 390.75,144.28 391.06,145.97 391.38,143.86 391.69,141.42 392.01,141.40 392.32,137.58 392.64,139.02 392.96,138.98 393.27,140.70 393.59,142.63 393.90,141.58 394.22,138.60 394.53,136.63 394.85,136.53 395.16,134.56 395.48,133.22 395.80,135.76 396.11,140.87 396.43,142.29 396.74,143.12 397.06,143.04 397.37,145.40 397.69,147.36 398.00,150.23 398.32,152.98 398.64,153.37 398.95,150.48 399.27,151.21 399.58,149.62 399.90,148.47 400.21,146.91 400.53,148.02 400.84,148.47 401.16,150.97 401.48,150.57 401.79,150.25 402.11,148.20 402.42,141.49 402.74,135.57 403.05,127.78 403.37,120.19 403.68,114.73 404.00,106.42 404.32,101.27 404.63,96.22 404.95,92.95 405.26,92.30 405.58,93.65 405.89,97.81 406.21,99.14 406.52,103.09 406.84,100.58 407.16,96.32 407.47,92.83 407.79,87.97 408.10,90.37 408.42,91.86 408.73,95.49 409.05,98.53 409.36,102.23 409.68,107.76 409.99,112.53 410.31,114.05 410.63,112.00 410.94,113.23 411.26,112.40 411.57,113.19 411.89,112.43 412.20,115.29 412.52,115.41 412.83,118.12 413.15,123.84 413.47,129.60 413.78,135.02 414.10,130.51 414.41,128.72 414.73,124.33 415.04,120.17 415.36,115.57 415.67,114.63 415.99,114.38 416.31,122.84 416.62,129.66 416.94,136.62 417.25,138.81 417.57,140.47 417.88,144.02 418.20,144.13 418.51,140.74 418.83,135.65 419.15,130.80 419.46,131.25 419.78,136.92 420.09,140.67 420.41,142.51 420.72,146.47 421.04,146.35 421.35,148.08 421.67,148.67 421.99,146.33 422.30,144.06 422.62,142.59 422.93,142.80 423.25,143.94 423.56,145.85 423.88,147.96 424.19,152.33 424.51,153.51 424.83,154.74 425.14,157.17 425.46,156.31 425.77,156.23 426.09,155.95 426.40,161.22 426.72,164.47 427.03,166.11 427.35,167.25 427.67,165.77 427.98,162.48 428.30,159.12 428.61,156.88 428.93,152.25 429.24,152.77 429.56,152.63 429.87,153.66 430.19,152.32 430.51,152.50 430.82,146.74 431.14,142.99 431.45,141.78 431.77,140.68 432.08,139.53 432.40,137.48 432.71,137.74 433.03,134.75 433.35,134.54 433.66,133.43 433.98,133.85 434.29,133.03 434.61,128.52 434.92,126.65 435.24,124.61 435.55,122.57 435.87,122.11 436.19,124.91 436.50,127.55 436.82,130.92 437.13,132.76 437.45,131.33 437.76,129.27 438.08,123.35 438.39,120.10 438.71,114.99 439.02,110.85 439.34,107.06 439.66,109.72 439.97,115.66 440.29,120.00 440.60,123.84 440.92,125.55 441.23,127.02 441.55,129.66 441.86,132.22 442.18,132.48 442.50,136.64 442.81,138.54 443.13,141.90 443.44,146.48 443.76,148.02 444.07,148.47 444.39,149.84 444.70,150.19 445.02,149.66 445.34,147.31 445.65,144.69 445.97,147.47 446.28,146.70 446.60,143.08 446.91,141.55 447.23,136.29 447.54,135.64 447.86,127.28 448.18,119.76 448.49,113.79 448.81,105.63 449.12,97.63 449.44,91.92 449.75,83.75 450.07,79.47 450.38,76.33 450.70,69.06 451.02,61.62 451.33,56.56 451.65,49.04 451.96,44.75 452.28,44.77 452.59,43.12 452.91,41.48 453.22,36.60 453.54,33.65 453.86,37.11 454.17,38.35 454.49,38.65 454.80,37.56 455.12,40.15 455.43,40.32 455.75,44.84 456.06,48.71 456.38,51.04 456.70,55.31 457.01,55.82 457.33,57.09 457.64,58.08 457.96,58.31 458.27,58.98 458.59,61.48 458.90,63.12 459.22,65.82 459.54,69.04 459.85,70.67 460.17,71.48 460.48,72.31 460.80,73.13 461.11,71.48 461.43,76.65 461.74,78.68 462.06,82.08 462.38,85.35 462.69,92.32 463.01,92.40 463.32,93.34 463.64,96.39 463.95,98.31 464.27,99.32 464.58,102.30 464.90,107.17 465.22,111.19 465.53,113.72 465.85,120.20 466.16,121.49 466.48,122.73 466.79,124.36 467.11,125.02 467.42,124.16 467.74,123.25 468.05,124.50 468.37,124.66 468.69,124.73 469.00,127.97 469.32,130.48 469.63,133.97 469.95,135.28 470.26,134.82 470.58,135.65 470.89,135.59 471.21,131.45 471.53,129.23 471.84,127.67 472.16,126.08 472.47,123.50 472.79,117.35 473.10,115.16 473.42,112.22 473.73,110.22 474.05,107.13 474.37,105.46 474.68,103.86 475.00,101.87 475.31,98.83 475.63,100.27 475.94,99.61 476.26,96.57 476.57,94.08 476.89,91.60 477.21,87.19 477.52,83.03 477.84,79.81 478.15,82.03 478.47,80.17 478.78,77.10 479.10,73.43 479.41,75.12 479.73,75.51 480.05,73.98 480.36,68.97 480.68,68.59 480.99,69.76 481.31,69.22 481.62,71.49 481.94,71.82 482.25,72.15 482.57,74.51 482.89,78.39 483.20,78.47 483.52,77.50 483.83,78.22 484.15,75.39 484.46,74.65 484.78,76.49 485.09,77.22 485.41,82.13 485.73,87.29 486.04,85.76 486.36,84.96 486.67,87.12 486.99,89.95 487.30,89.54 487.62,90.78 487.93,95.23 488.25,97.86 488.57,99.05 488.88,103.32 489.20,106.54 489.51,108.86 489.83,113.33 490.14,115.11 490.46,111.93 490.77,106.42 491.09,101.97 491.41,100.62 491.72,96.74 492.04,95.44 492.35,95.69 492.67,92.85 492.98,90.41 493.30,90.54 493.61,90.82 493.93,93.31 494.25,101.34 494.56,105.08 494.88,110.16 495.19,114.18 495.51,115.24 495.82,114.58 496.14,112.48 496.45,112.84 496.77,115.98 497.08,119.28 497.40,121.27 497.72,122.25 498.03,125.18 498.35,129.22 498.66,128.74 498.98,128.27 499.29,129.99 499.61,130.09 499.92,133.87 500.24,137.02 500.56,138.34 500.87,139.81 501.19,140.59 501.50,142.75 501.82,142.91 502.13,144.96 502.45,149.85 502.76,147.00 503.08,146.23 503.40,149.42 503.71,152.97 504.03,155.50 504.34,158.05 504.66,158.29 504.97,159.82 505.29,159.09 505.60,156.90 505.92,157.09 506.24,158.52 506.55,159.33 506.87,161.43 507.18,160.17 507.50,156.03 507.81,153.73 508.13,151.45 508.44,147.47 508.76,144.18 509.08,143.15 509.39,143.80 509.71,144.15 510.02,140.75 510.34,138.04 510.65,135.46 510.97,133.04 511.28,133.10 511.60,132.75" fill="none" stroke="#cc1010" stroke-width="1.0" stroke-linejoin="round"/><path d="M38.60,102.33 38.92,102.03 39.23,103.67 39.55,102.95 39.86,100.47 40.18,96.02 40.49,89.33 40.81,79.28 41.12,73.03 41.44,67.94 41.76,60.89 42.07,61.05 42.39,61.64 42.70,62.77 43.02,64.26 43.33,66.37 43.65,68.44 43.96,67.87 44.28,68.28 44.60,66.84 44.91,71.64 45.23,77.80 45.54,86.55 45.86,94.79 46.17,102.99 46.49,108.22 46.80,113.51 47.12,118.98 47.44,116.18 47.75,110.63 48.07,104.92 48.38,99.98 48.70,100.64 49.01,103.68 49.33,103.91 49.64,108.31 49.96,110.36 50.28,113.98 50.59,115.37 50.91,114.68 51.22,115.96 51.54,116.97 51.85,116.54 52.17,117.85 52.48,118.27 52.80,120.13 53.12,125.62 53.43,127.66 53.75,126.66 54.06,127.34 54.38,126.50 54.69,122.53 55.01,119.98 55.32,115.55 55.64,115.38 55.95,118.96 56.27,123.78 56.59,125.71 56.90,130.17 57.22,129.93 57.53,127.76 57.85,123.53 58.16,121.17 58.48,119.40 58.79,114.43 59.11,112.61 59.43,115.36 59.74,117.56 60.06,120.69 60.37,122.75 60.69,123.00 61.00,121.94 61.32,122.33 61.63,121.39 61.95,120.82 62.27,119.57 62.58,121.00 62.90,119.75 63.21,121.35 63.53,122.91 63.84,122.75 64.16,122.08 64.47,122.33 64.79,121.91 65.11,124.94 65.42,123.36 65.74,128.46 66.05,129.75 66.37,129.58 66.68,129.77 67.00,130.89 67.31,127.47 67.63,125.67 67.95,123.40 68.26,123.58 68.58,124.27 68.89,124.78 69.21,124.96 69.52,127.28 69.84,129.51 70.15,132.79 70.47,133.92 70.79,136.15 71.10,137.17 71.42,138.14 71.73,139.35 72.05,139.70 72.36,140.20 72.68,139.99 72.99,141.56 73.31,144.22 73.63,145.81 73.94,148.31 74.26,152.65 74.57,151.80 74.89,147.82 75.20,142.64 75.52,138.36 75.83,135.02 76.15,136.88 76.47,137.28 76.78,137.90 77.10,141.50 77.41,144.88 77.73,146.14 78.04,147.24 78.36,149.82 78.67,152.18 78.99,152.51 79.31,149.94 79.62,149.47 79.94,149.20 80.25,147.28 80.57,147.31 80.88,146.15 81.20,144.66 81.51,142.82 81.83,137.94 82.15,132.10 82.46,126.86 82.78,122.72 83.09,120.51 83.41,120.37 83.72,120.93 84.04,124.62 84.35,127.97 84.67,127.85 84.98,127.04 85.30,126.81 85.62,125.82 85.93,121.79 86.25,122.31 86.56,120.88 86.88,120.91 87.19,118.65 87.51,119.01 87.82,119.75 88.14,116.09 88.46,113.69 88.77,110.20 89.09,109.13 89.40,108.07 89.72,108.04 90.03,108.13 90.35,111.01 90.66,111.21 90.98,113.66 91.30,115.59 91.61,115.45 91.93,113.92 92.24,111.42 92.56,110.71 92.87,112.75 93.19,117.29 93.50,118.61 93.82,120.45 94.14,122.98 94.45,122.23 94.77,120.93 95.08,120.73 95.40,118.06 95.71,115.90 96.03,116.00 96.34,117.74 96.66,118.81 96.98,117.18 97.29,115.39 97.61,112.68 97.92,111.14 98.24,108.90 98.55,109.39 98.87,110.18 99.18,111.27 99.50,111.49 99.82,112.20 100.13,113.70 100.45,114.02 100.76,114.19 101.08,115.25 101.39,119.87 101.71,122.87 102.02,125.04 102.34,127.09 102.66,127.77 102.97,126.58 103.29,124.12 103.60,120.72 103.92,120.98 104.23,121.81 104.55,122.38 104.86,122.11 105.18,124.71 105.50,127.36 105.81,130.70 106.13,131.81 106.44,131.93 106.76,135.09 107.07,135.90 107.39,136.92 107.70,133.49 108.02,131.60 108.34,129.19 108.65,125.27 108.97,125.91 109.28,124.33 109.60,120.73 109.91,116.81 110.23,112.32 110.54,108.11 110.86,110.47 111.18,112.73 111.49,114.43 111.81,122.06 112.12,129.18 112.44,134.94 112.75,137.26 113.07,133.16 113.38,131.11 113.70,129.29 114.01,126.99 114.33,126.21 114.65,127.06 114.96,129.90 115.28,131.64 115.59,135.12 115.91,136.57 116.22,136.92 116.54,136.63 116.85,137.42 117.17,138.98 117.49,138.72 117.80,138.71 118.12,139.84 118.43,142.35 118.75,145.55 119.06,146.51 119.38,149.00 119.69,148.36 120.01,147.11 120.33,146.04 120.64,145.20 120.96,142.90 121.27,142.49 121.59,141.38 121.90,143.03 122.22,141.76 122.53,138.74 122.85,135.46 123.17,132.13 123.48,130.46 123.80,126.23 124.11,125.76 124.43,124.05 124.74,125.08 125.06,119.90 125.37,114.87 125.69,111.10 126.01,102.43 126.32,97.12 126.64,99.85 126.95,100.56 127.27,105.96 127.58,109.50 127.90,114.56 128.21,119.62 128.53,122.73 128.85,128.73 129.16,127.98 129.48,124.01 129.79,121.25 130.11,119.00 130.42,118.39 130.74,119.90 131.05,120.93 131.37,124.33 131.69,120.50 132.00,116.96 132.32,112.68 132.63,106.06 132.95,101.37 133.26,99.73 133.58,98.40 133.89,102.90 134.21,106.54 134.53,110.11 134.84,114.50 135.16,119.11 135.47,119.36 135.79,119.72 136.10,120.35 136.42,120.54 136.73,121.60 137.05,122.31 137.37,125.82 137.68,126.29 138.00,129.86 138.31,131.36 138.63,130.43 138.94,131.26 139.26,131.55 139.57,131.23 139.89,130.16 140.21,129.92 140.52,131.96 140.84,133.79 141.15,134.94 141.47,137.00 141.78,138.68 142.10,138.89 142.41,138.14 142.73,135.60 143.04,132.55 143.36,131.89 143.68,130.20 143.99,134.47 144.31,136.76 144.62,139.69 144.94,143.10 145.25,137.54 145.57,133.58 145.88,125.45 146.20,119.26 146.52,111.98 146.83,108.52 147.15,110.32 147.46,111.74 147.78,117.55 148.09,121.16 148.41,124.73 148.72,128.48 149.04,131.53 149.36,130.91 149.67,130.24 149.99,130.94 150.30,127.11 150.62,128.75 150.93,130.58 151.25,134.84 151.56,137.61 151.88,140.09 152.20,142.38 152.51,140.54 152.83,139.87 153.14,140.61 153.46,143.37 153.77,146.34 154.09,147.93 154.40,147.38 154.72,146.31 155.04,145.07 155.35,144.76 155.67,141.10 155.98,139.55 156.30,135.38 156.61,133.15 156.93,134.33 157.24,138.23 157.56,142.08 157.88,146.95 158.19,149.33 158.51,149.42 158.82,149.86 159.14,144.84 159.45,142.16 159.77,140.93 160.08,140.51 160.40,142.00 160.72,141.79 161.03,142.83 161.35,143.06 161.66,142.75 161.98,142.34 162.29,140.78 162.61,139.77 162.92,137.56 163.24,139.37 163.56,139.78 163.87,140.89 164.19,143.86 164.50,146.11 164.82,148.52 165.13,147.62 165.45,144.15 165.76,143.40 166.08,142.92 166.40,138.75 166.71,137.83 167.03,139.56 167.34,140.41 167.66,142.27 167.97,144.08 168.29,146.15 168.60,144.84 168.92,145.72 169.24,145.65 169.55,144.24 169.87,140.45 170.18,139.31 170.50,137.28 170.81,141.08 171.13,143.10 171.44,144.62 171.76,145.02 172.07,143.81 172.39,140.13 172.71,137.33 173.02,135.35 173.34,136.50 173.65,137.86 173.97,138.56 174.28,137.92 174.60,141.16 174.91,142.04 175.23,141.64 175.55,140.71 175.86,138.60 176.18,139.16 176.49,139.30 176.81,142.81 177.12,145.54 177.44,147.88 177.75,148.64 178.07,148.54 178.39,147.35 178.70,147.23 179.02,148.36 179.33,150.58 179.65,153.14 179.96,154.40 180.28,156.89 180.59,155.74 180.91,153.43 181.23,152.14 181.54,151.90 181.86,154.52 182.17,157.70 182.49,159.71 182.80,162.53 183.12,161.06 183.43,160.93 183.75,158.63 184.07,155.22 184.38,146.74 184.70,140.22 185.01,136.67 185.33,130.90 185.64,130.88 185.96,131.64 186.27,132.79 186.59,132.30 186.91,129.89 187.22,129.16 187.54,133.66 187.85,139.18 188.17,146.30 188.48,142.13 188.80,135.65 189.11,129.35 189.43,123.99 189.75,125.33 190.06,123.25 190.38,127.03 190.69,128.79 191.01,132.26 191.32,134.51 191.64,140.00 191.95,143.12 192.27,146.16 192.59,151.57 192.90,151.96 193.22,151.62 193.53,152.22 193.85,151.86 194.16,151.00 194.48,144.85 194.79,140.17 195.11,135.14 195.43,129.75 195.74,124.39 196.06,117.44 196.37,112.13 196.69,105.39 197.00,99.33 197.32,98.89 197.63,101.47 197.95,102.90 198.27,105.62 198.58,107.45 198.90,108.47 199.21,110.64 199.53,112.44 199.84,115.20 200.16,116.39 200.47,119.52 200.79,123.81 201.11,125.91 201.42,127.89 201.74,131.32 202.05,131.16 202.37,131.75 202.68,131.28 203.00,132.36 203.31,136.06 203.63,139.18 203.94,140.68 204.26,144.05 204.58,146.80 204.89,146.46 205.21,144.79 205.52,146.84 205.84,145.59 206.15,148.11 206.47,147.17 206.78,147.20 207.10,148.48 207.42,152.04 207.73,155.97 208.05,156.70 208.36,159.93 208.68,159.84 208.99,160.79 209.31,158.97 209.62,159.04 209.94,158.29 210.26,157.06 210.57,157.92 210.89,161.62 211.20,161.79 211.52,164.45 211.83,168.00 212.15,169.91 212.46,167.56 212.78,166.86 213.10,165.54 213.41,164.27 213.73,165.78 214.04,163.90 214.36,164.58 214.67,161.35 214.99,161.47 215.30,157.65 215.62,156.14 215.94,151.24 216.25,146.90 216.57,142.99 216.88,138.88 217.20,137.80 217.51,136.90 217.83,136.78 218.14,136.78 218.46,135.75 218.78,132.15 219.09,130.16 219.41,128.57 219.72,127.54 220.04,124.59 220.35,122.91 220.67,123.86 220.98,123.38 221.30,124.01 221.62,124.76 221.93,119.35 222.25,112.64 222.56,106.00 222.88,98.36 223.19,90.58 223.51,84.55 223.82,81.63 224.14,77.75 224.46,77.13 224.77,78.20 225.09,76.17 225.40,77.60 225.72,77.64 226.03,80.89 226.35,86.17 226.66,92.00 226.98,96.95 227.30,104.72 227.61,109.77 227.93,115.73 228.24,114.08 228.56,112.98 228.87,111.32 229.19,111.23 229.50,113.64 229.82,115.33 230.14,120.75 230.45,122.90 230.77,125.87 231.08,132.33 231.40,134.29 231.71,133.88 232.03,136.00 232.34,134.93 232.66,132.55 232.97,133.43 233.29,132.79 233.61,132.17 233.92,131.84 234.24,131.63 234.55,131.60 234.87,135.51 235.18,138.42 235.50,142.69 235.81,147.56 236.13,147.19 236.45,149.77 236.76,152.02 237.08,152.90 237.39,153.65 237.71,151.96 238.02,147.21 238.34,142.50 238.65,136.92 238.97,131.31 239.29,127.77 239.60,127.04 239.92,125.86 240.23,125.80 240.55,125.00 240.86,122.16 241.18,121.13 241.49,118.62 241.81,117.03 242.13,112.00 242.44,105.81 242.76,102.20 243.07,98.51 243.39,94.58 243.70,86.65 244.02,80.95 244.33,77.60 244.65,73.30 244.97,69.10 245.28,72.04 245.60,73.08 245.91,77.30 246.23,82.80 246.54,87.76 246.86,94.96 247.17,104.67 247.49,109.03 247.81,112.15 248.12,114.90 248.44,118.79 248.75,121.31 249.07,126.13 249.38,128.38 249.70,128.89 250.01,129.32 250.33,133.02 250.65,133.02 250.96,132.44 251.28,132.10 251.59,132.08 251.91,134.59 252.22,137.86 252.54,139.77 252.85,140.34 253.17,140.11 253.49,141.40 253.80,137.11 254.12,135.32 254.43,134.58 254.75,134.56 255.06,136.61 255.38,138.31 255.69,139.83 256.01,140.31 256.33,142.47 256.64,140.06 256.96,137.33 257.27,135.05 257.59,132.48 257.90,130.82 258.22,131.18 258.53,133.43 258.85,134.57 259.17,139.66 259.48,143.54 259.80,147.14 260.11,144.56 260.43,140.49 260.74,137.84 261.06,135.86 261.37,138.66 261.69,138.25 262.00,139.93 262.32,140.80 262.64,140.51 262.95,139.07 263.27,138.79 263.58,137.16 263.90,134.84 264.21,133.38 264.53,133.37 264.84,131.37 265.16,131.51 265.48,130.98 265.79,131.66 266.11,129.49 266.42,128.73 266.74,125.61 267.05,126.16 267.37,125.81 267.68,129.57 268.00,132.96 268.32,136.55 268.63,137.44 268.95,141.00 269.26,139.38 269.58,138.27 269.89,138.81 270.21,135.78 270.52,134.05 270.84,135.89 271.16,136.75 271.47,137.76 271.79,142.53 272.10,144.83 272.42,145.17 272.73,144.85 273.05,145.30 273.36,145.01 273.68,147.15 274.00,145.30 274.31,148.44 274.63,149.65 274.94,152.89 275.26,151.88 275.57,150.33 275.89,149.47 276.20,149.03 276.52,149.61 276.84,152.34 277.15,154.26 277.47,156.84 277.78,158.46 278.10,159.29 278.41,159.37 278.73,159.66 279.04,158.99 279.36,156.01 279.68,156.19 279.99,156.68 280.31,159.30 280.62,163.02 280.94,165.44 281.25,163.57 281.57,160.93 281.88,158.63 282.20,157.36 282.52,159.78 282.83,160.03 283.15,162.55 283.46,164.16 283.78,167.55 284.09,166.25 284.41,166.81 284.72,164.26 285.04,163.56 285.36,163.20 285.67,163.70 285.99,162.10 286.30,162.62 286.62,165.65 286.93,165.49 287.25,166.96 287.56,168.41 287.88,167.85 288.20,167.07 288.51,166.71 288.83,166.16 289.14,167.37 289.46,167.14 289.77,167.36 290.09,166.72 290.40,167.27 290.72,164.29 291.03,162.05 291.35,159.46 291.67,157.57 291.98,154.33 292.30,152.42 292.61,151.30 292.93,151.42 293.24,152.63 293.56,153.35 293.87,154.42 294.19,150.12 294.51,147.41 294.82,141.62 295.14,138.16 295.45,137.05 295.77,135.52 296.08,135.49 296.40,134.60 296.71,131.80 297.03,128.52 297.35,124.66 297.66,119.67 297.98,115.11 298.29,112.57 298.61,109.51 298.92,103.86 299.24,98.69 299.55,98.33 299.87,104.33 300.19,108.76 300.50,116.97 300.82,121.89 301.13,124.79 301.45,126.38 301.76,126.20 302.08,128.79 302.39,129.59 302.71,131.64 303.03,133.61 303.34,131.16 303.66,130.72 303.97,126.35 304.29,125.17 304.60,122.45 304.92,119.07 305.23,114.99 305.55,111.72 305.87,108.69 306.18,107.38 306.50,105.87 306.81,108.07 307.13,109.73 307.44,108.89 307.76,106.70 308.07,104.08 308.39,102.26 308.71,106.86 309.02,109.52 309.34,112.86 309.65,116.44 309.97,119.33 310.28,116.63 310.60,112.72 310.91,108.23 311.23,105.26 311.55,102.27 311.86,102.18 312.18,103.78 312.49,102.73 312.81,102.41 313.12,103.76 313.44,100.79 313.75,98.37 314.07,93.59 314.39,91.47 314.70,88.41 315.02,91.71 315.33,97.24 315.65,102.29 315.96,106.04 316.28,109.43 316.59,112.11 316.91,110.79 317.23,109.86 317.54,107.01 317.86,107.86 318.17,106.45 318.49,106.32 318.80,107.38 319.12,108.99 319.43,110.18 319.75,110.82 320.06,109.51 320.38,110.88 320.70,115.02 321.01,120.59 321.33,126.96 321.64,133.19 321.96,138.28 322.27,143.26 322.59,147.44 322.90,149.47 323.22,151.10 323.54,146.72 323.85,143.17 324.17,139.39 324.48,138.22 324.80,138.39 325.11,140.20 325.43,140.33 325.74,138.16 326.06,137.87 326.38,135.85 326.69,135.95 327.01,132.36 327.32,130.17 327.64,128.35 327.95,126.36 328.27,127.35 328.58,125.79 328.90,127.17 329.22,126.80 329.53,124.72 329.85,120.68 330.16,117.71 330.48,114.33 330.79,112.66 331.11,106.09 331.42,99.71 331.74,96.25 332.06,91.11 332.37,88.57 332.69,91.43 333.00,95.99 333.32,103.06 333.63,109.45 333.95,114.38 334.26,115.46 334.58,116.39 334.90,121.09 335.21,122.35 335.53,120.92 335.84,117.95 336.16,112.04 336.47,106.92 336.79,103.08 337.10,97.34 337.42,102.97 337.74,109.40 338.05,112.76 338.37,116.99 338.68,122.21 339.00,126.33 339.31,129.84 339.63,133.26 339.94,137.12 340.26,140.57 340.58,146.69 340.89,151.05 341.21,154.84 341.52,157.25 341.84,155.74 342.15,155.04 342.47,152.77 342.78,148.74 343.10,150.40 343.42,151.48 343.73,152.81 344.05,153.05 344.36,151.23 344.68,152.20 344.99,149.86 345.31,148.03 345.62,150.31 345.94,152.11 346.26,152.85 346.57,153.76 346.89,152.47 347.20,152.68 347.52,150.04 347.83,147.53 348.15,144.05 348.46,143.62 348.78,145.36 349.09,147.07 349.41,147.55 349.73,149.88 350.04,148.43 350.36,146.53 350.67,145.39 350.99,145.81 351.30,144.31 351.62,144.84 351.93,147.27 352.25,147.39 352.57,148.49 352.88,149.68 353.20,148.49 353.51,145.80 353.83,144.19 354.14,140.99 354.46,137.76 354.77,134.58 355.09,135.75 355.41,136.01 355.72,135.67 356.04,138.24 356.35,134.50 356.67,132.68 356.98,130.23 357.30,127.75 357.61,125.52 357.93,124.82 358.25,124.79 358.56,126.32 358.88,124.66 359.19,119.55 359.51,115.15 359.82,110.40 360.14,106.86 360.45,104.08 360.77,103.34 361.09,101.72 361.40,100.64 361.72,98.65 362.03,93.93 362.35,95.74 362.66,95.11 362.98,95.08 363.29,95.89 363.61,99.39 363.93,104.03 364.24,109.03 364.56,114.78 364.87,119.42 365.19,121.78 365.50,123.44 365.82,123.06 366.13,122.86 366.45,122.27 366.77,125.67 367.08,127.85 367.40,129.16 367.71,127.97 368.03,128.34 368.34,125.96 368.66,127.91 368.97,166.00 369.29,158.00 369.61,129.09 369.92,125.68 370.24,120.34 370.55,115.85 370.87,112.56 371.18,110.51 371.50,95.20 371.81,77.81 372.13,62.29 372.45,46.72 372.76,31.96 373.08,25.75 373.39,34.61 373.71,42.92 374.02,49.98 374.34,54.56 374.65,62.49 374.97,66.70 375.29,69.61 375.60,74.07 375.92,77.02 376.23,79.49 376.55,82.32 376.86,86.80 377.18,91.29 377.49,98.72 377.81,104.10 378.13,109.98 378.44,114.95 378.76,113.73 379.07,115.92 379.39,117.25 379.70,117.43 380.02,121.35 380.33,126.93 380.65,132.17 380.96,136.41 381.28,137.63 381.60,137.92 381.91,136.60 382.23,136.77 382.54,139.18 382.86,139.40 383.17,141.21 383.49,142.18 383.80,140.36 384.12,137.91 384.44,136.04 384.75,133.89 385.07,135.05 385.38,134.80 385.70,132.60 386.01,131.82 386.33,131.67 386.64,131.09 386.96,130.13 387.28,130.71 387.59,131.22 387.91,132.08 388.22,134.30 388.54,135.79 388.85,137.64 389.17,139.69 389.48,141.89 389.80,143.70 390.12,147.12 390.43,147.70 390.75,146.66 391.06,144.47 391.38,142.94 391.69,142.76 392.01,139.64 392.32,138.34 392.64,139.20 392.96,140.34 393.27,139.03 393.59,139.44 393.90,136.39 394.22,133.90 394.53,134.02 394.85,135.20 395.16,134.71 395.48,133.65 395.80,137.11 396.11,139.58 396.43,142.37 396.74,144.09 397.06,148.50 397.37,150.99 397.69,154.01 398.00,155.28 398.32,155.00 398.64,152.79 398.95,154.39 399.27,152.90 399.58,153.56 399.90,149.95 400.21,150.64 400.53,152.49 400.84,154.34 401.16,155.23 401.48,155.42 401.79,153.75 402.11,146.67 402.42,137.60 402.74,127.89 403.05,119.93 403.37,114.82 403.68,105.95 404.00,99.52 404.32,92.52 404.63,89.03 404.95,88.89 405.26,92.47 405.58,94.62 405.89,97.16 406.21,99.26 406.52,95.65 406.84,92.15 407.16,89.04 407.47,86.82 407.79,87.74 408.10,90.45 408.42,94.17 408.73,97.81 409.05,101.03 409.36,104.54 409.68,107.66 409.99,111.65 410.31,111.57 410.63,112.40 410.94,112.20 411.26,111.97 411.57,111.32 411.89,113.03 412.20,115.62 412.52,120.39 412.83,127.25 413.15,133.85 413.47,138.57 413.78,131.54 414.10,127.92 414.41,122.56 414.73,117.62 415.04,111.54 415.36,111.31 415.67,110.53 415.99,119.80 416.31,127.50 416.62,136.23 416.94,139.86 417.25,141.10 417.57,144.24 417.88,144.10 418.20,137.48 418.51,133.47 418.83,128.31 419.15,130.70 419.46,137.15 419.78,141.10 420.09,144.03 420.41,145.95 420.72,145.10 421.04,146.14 421.35,146.16 421.67,144.22 421.99,142.56 422.30,141.00 422.62,142.83 422.93,143.15 423.25,147.16 423.56,150.70 423.88,155.80 424.19,155.40 424.51,157.52 424.83,157.21 425.14,156.35 425.46,157.41 425.77,157.24 426.09,161.13 426.40,162.67 426.72,164.16 427.03,167.95 427.35,166.44 427.67,164.96 427.98,161.47 428.30,158.57 428.61,154.56 428.93,154.95 429.24,154.77 429.56,152.94 429.87,151.58 430.19,149.33 430.51,147.73 430.82,145.57 431.14,143.19 431.45,142.27 431.77,140.41 432.08,138.20 432.40,138.21 432.71,135.89 433.03,134.75 433.35,131.96 433.66,132.26 433.98,132.22 434.29,129.01 434.61,127.11 434.92,123.79 435.24,122.04 435.55,122.83 435.87,126.75 436.19,130.56 436.50,133.35 436.82,136.59 437.13,133.20 437.45,128.58 437.76,121.28 438.08,116.92 438.39,111.00 438.71,105.64 439.02,102.46 439.34,104.34 439.66,111.22 439.97,115.88 440.29,120.75 440.60,124.21 440.92,126.70 441.23,129.99 441.55,131.80 441.86,134.01 442.18,139.73 442.50,142.38 442.81,146.95 443.13,150.97 443.44,153.83 443.76,153.97 444.07,154.06 444.39,154.74 444.70,165.00 445.02,157.00 445.34,150.53 445.65,153.05 445.97,151.67 446.28,150.79 446.60,150.90 446.91,147.96 447.23,144.83 447.54,134.75 447.86,125.44 448.18,116.35 448.49,106.74 448.81,96.01 449.12,89.41 449.44,82.99 449.75,78.50 450.07,74.77 450.38,65.69 450.70,56.74 451.02,50.77 451.33,43.35 451.65,38.44 451.96,37.48 452.28,37.26 452.59,36.39 452.91,32.90 453.22,30.50 453.54,31.73 453.86,32.47 454.17,33.51 454.49,34.21 454.80,37.77 455.12,38.91 455.43,40.32 455.75,44.81 456.06,47.86 456.38,53.29 456.70,53.69 457.01,54.33 457.33,54.32 457.64,55.69 457.96,57.49 458.27,59.44 458.59,62.53 458.90,63.76 459.22,66.98 459.54,68.77 459.85,69.52 460.17,72.07 460.48,72.80 460.80,73.62 461.11,78.12 461.43,82.23 461.74,86.01 462.06,89.48 462.38,94.12 462.69,93.28 463.01,94.43 463.32,95.73 463.64,98.23 463.95,98.74 464.27,101.11 464.58,105.94 464.90,110.91 465.22,115.12 465.53,122.02 465.85,123.72 466.16,125.74 466.48,126.14 466.79,124.20 467.11,121.94 467.42,122.28 467.74,123.97 468.05,125.76 468.37,128.19 468.69,131.24 469.00,135.44 469.32,138.28 469.63,137.89 469.95,137.34 470.26,135.96 470.58,135.41 470.89,133.42 471.21,131.71 471.53,131.40 471.84,130.17 472.16,128.67 472.47,123.74 472.79,119.74 473.10,114.79 473.42,111.22 473.73,107.69 474.05,106.77 474.37,104.25 474.68,102.72 475.00,100.85 475.31,100.57 475.63,98.62 475.94,96.36 476.26,94.95 476.57,90.60 476.89,86.85 477.21,81.86 477.52,78.54 477.84,79.09 478.15,76.12 478.47,75.45 478.78,74.07 479.10,74.15 479.41,74.67 479.73,72.71 480.05,68.76 480.36,66.41 480.68,65.92 480.99,64.67 481.31,67.12 481.62,67.88 481.94,68.99 482.25,73.17 482.57,76.40 482.89,77.07 483.20,75.43 483.52,75.18 483.83,73.76 484.15,72.05 484.46,73.16 484.78,71.50 485.09,74.39 485.41,77.07 485.73,80.10 486.04,83.64 486.36,86.45 486.67,91.14 486.99,92.00 487.30,94.93 487.62,97.59 487.93,99.65 488.25,100.83 488.57,105.79 488.88,109.83 489.20,112.55 489.51,117.51 489.83,117.59 490.14,113.50 490.46,105.97 490.77,99.74 491.09,98.37 491.41,94.59 491.72,91.96 492.04,92.73 492.35,92.08 492.67,87.30 492.98,88.39 493.30,88.56 493.61,88.88 493.93,94.07 494.25,98.25 494.56,105.07 494.88,111.13 495.19,116.54 495.51,117.89 495.82,118.15 496.14,117.84 496.45,118.30 496.77,119.65 497.08,122.79 497.40,124.60 497.72,128.54 498.03,132.22 498.35,130.36 498.66,128.68 498.98,127.84 499.29,127.35 499.61,130.03 499.92,134.95 500.24,136.50 500.56,140.17 500.87,143.51 501.19,143.95 501.50,143.51 501.82,142.44 502.13,144.19 502.45,146.27 502.76,148.49 503.08,150.63 503.40,154.40 503.71,158.54 504.03,162.50 504.34,161.70 504.66,160.71 504.97,160.19 505.29,158.81 505.60,160.79 505.92,164.34 506.24,164.06 506.55,166.47 506.87,163.95 507.18,160.42 507.50,155.29 507.81,152.25 508.13,145.31 508.44,140.92 508.76,138.87 509.08,138.51 509.39,139.06 509.71,138.76 510.02,139.59 510.34,136.06 510.65,133.52 510.97,132.80 511.28,132.22 511.60,132.65" fill="none" stroke="#2030ff" stroke-width="0.7" stroke-dasharray="1.5,1.5"/><path d="M38.60,100.41 38.92,103.10 39.23,105.11 39.55,102.32 39.86,96.78 40.18,91.04 40.49,80.85 40.81,74.88 41.12,69.19 41.44,62.67 41.76,62.56 42.07,62.65 42.39,61.89 42.70,60.08 43.02,65.60 43.33,67.81 43.65,53.50 43.96,70.28 44.28,68.50 44.60,72.32 44.91,79.22 45.23,85.38 45.54,93.40 45.86,101.41 46.17,106.51 46.49,114.07 46.80,117.32 47.12,115.00 47.44,110.60 47.75,105.68 48.07,101.49 48.38,100.19 48.70,103.72 49.01,101.70 49.33,104.66 49.64,105.96 49.96,110.39 50.28,114.23 50.59,116.00 50.91,117.33 51.22,119.33 51.54,118.06 51.85,118.80 52.17,119.20 52.48,122.19 52.80,126.01 53.12,126.69 53.43,126.01 53.75,126.27 54.06,125.95 54.38,123.35 54.69,120.98 55.01,116.72 55.32,116.86 55.64,119.80 55.95,124.55 56.27,126.40 56.59,131.53 56.90,129.83 57.22,127.33 57.53,123.98 57.85,120.43 58.16,119.29 58.48,115.67 58.79,112.93 59.11,115.27 59.43,117.40 59.74,121.28 60.06,121.99 60.37,120.69 60.69,121.25 61.00,124.30 61.32,123.72 61.63,122.43 61.95,120.09 62.27,121.38 62.58,120.87 62.90,121.96 63.21,124.08 63.53,124.93 63.84,123.90 64.16,124.89 64.47,123.38 64.79,126.31 65.11,124.35 65.42,129.29 65.74,132.22 66.05,131.98 66.37,131.14 66.68,131.71 67.00,128.61 67.31,127.72 67.63,125.73 67.95,125.51 68.26,125.51 68.58,125.57 68.89,126.81 69.21,129.62 69.52,129.69 69.84,133.21 70.15,133.36 70.47,136.17 70.79,139.29 71.10,139.21 71.42,140.17 71.73,139.48 72.05,139.87 72.36,139.73 72.68,142.09 72.99,143.21 73.31,144.37 73.63,147.98 73.94,152.75 74.26,152.20 74.57,148.41 74.89,144.90 75.20,139.76 75.52,136.99 75.83,136.78 76.15,137.03 76.47,138.17 76.78,142.82 77.10,146.46 77.41,148.32 77.73,148.09 78.04,150.01 78.36,152.25 78.67,153.49 78.99,151.12 79.31,150.97 79.62,148.83 79.94,146.38 80.25,145.52 80.57,145.26 80.88,142.89 81.20,144.37 81.51,137.77 81.83,131.10 82.15,125.74 82.46,120.57 82.78,119.74 83.09,121.94 83.41,124.52 83.72,129.44 84.04,131.15 84.35,126.39 84.67,126.97 84.98,126.47 85.30,125.18 85.62,122.74 85.93,124.50 86.25,120.47 86.56,120.93 86.88,117.38 87.19,117.54 87.51,116.74 87.82,114.06 88.14,112.20 88.46,108.39 88.77,106.95 89.09,106.08 89.40,107.55 89.72,108.33 90.03,111.52 90.35,110.85 90.66,112.13 90.98,114.12 91.30,114.20 91.61,113.49 91.93,111.18 92.24,111.30 92.56,114.84 92.87,118.11 93.19,119.18 93.50,120.47 93.82,122.45 94.14,122.25 94.45,121.66 94.77,121.54 95.08,120.91 95.40,117.62 95.71,117.16 96.03,118.32 96.34,118.95 96.66,117.88 96.98,115.50 97.29,112.77 97.61,111.09 97.92,106.61 98.24,107.31 98.55,109.15 98.87,109.18 99.18,109.29 99.50,111.62 99.82,114.42 100.13,113.74 100.45,111.53 100.76,112.03 101.08,116.96 101.39,119.48 101.71,122.06 102.02,124.13 102.34,125.12 102.66,125.97 102.97,124.37 103.29,119.95 103.60,119.76 103.92,119.41 104.23,121.11 104.55,123.63 104.86,129.88 105.18,129.75 105.50,133.02 105.81,133.00 106.13,133.19 106.44,137.18 106.76,139.30 107.07,139.69 107.39,134.89 107.70,132.21 108.02,129.33 108.34,124.32 108.65,123.09 108.97,120.28 109.28,118.26 109.60,114.97 109.91,111.11 110.23,105.95 110.54,107.74 110.86,111.21 111.18,116.07 111.49,123.10 111.81,130.76 112.12,134.00 112.44,136.27 112.75,133.17 113.07,130.71 113.38,129.17 113.70,127.19 114.01,126.37 114.33,125.58 114.65,131.18 114.96,130.64 115.28,133.58 115.59,136.16 115.91,136.29 116.22,137.19 116.54,137.83 116.85,138.57 117.17,138.26 117.49,138.68 117.80,139.90 118.12,142.15 118.43,145.08 118.75,144.88 119.06,148.02 119.38,147.66 119.69,148.00 120.01,148.96 120.33,147.58 120.64,143.32 120.96,142.12 121.27,141.00 121.59,141.94 121.90,141.47 122.22,138.49 122.53,135.62 122.85,132.70 123.17,130.40 123.48,127.23 123.80,126.53 124.11,125.44 124.43,126.08 124.74,119.94 125.06,115.02 125.37,111.31 125.69,101.98 126.01,96.66 126.32,100.73 126.64,100.36 126.95,107.12 127.27,109.71 127.58,114.30 127.90,119.92 128.21,123.79 128.53,128.59 128.85,129.17 129.16,125.80 129.48,123.21 129.79,121.43 130.11,119.87 130.42,120.46 130.74,121.65 131.05,121.96 131.37,120.72 131.69,117.69 132.00,111.99 132.32,106.92 132.63,102.56 132.95,99.58 133.26,98.12 133.58,101.66 133.89,104.79 134.21,108.88 134.53,113.29 134.84,118.96 135.16,118.54 135.47,119.88 135.79,120.84 136.10,121.41 136.42,121.09 136.73,120.73 137.05,122.57 137.37,123.68 137.68,129.59 138.00,131.56 138.31,128.87 138.63,129.28 138.94,130.60 139.26,129.26 139.57,129.59 139.89,130.42 140.21,132.56 140.52,135.79 140.84,136.47 141.15,139.21 141.47,141.40 141.78,140.13 142.10,136.73 142.41,135.58 142.73,132.79 143.04,133.42 143.36,130.44 143.68,135.33 143.99,137.79 144.31,139.45 144.62,142.26 144.94,136.84 145.25,133.62 145.57,125.81 145.88,119.95 146.20,113.03 146.52,109.48 146.83,110.07 147.15,111.46 147.46,116.72 147.78,121.16 148.09,124.72 148.41,128.86 148.72,130.80 149.04,131.72 149.36,128.91 149.67,128.34 149.99,125.33 150.30,127.33 150.62,130.56 150.93,136.35 151.25,137.62 151.56,141.00 151.88,143.63 152.20,143.74 152.51,141.64 152.83,141.93 153.14,143.41 153.46,146.11 153.77,146.67 154.09,145.46 154.40,144.67 154.72,145.25 155.04,144.70 155.35,141.59 155.67,140.78 155.98,137.07 156.30,135.94 156.61,137.56 156.93,141.18 157.24,144.72 157.56,150.98 157.88,150.91 158.19,151.70 158.51,152.33 158.82,146.68 159.14,143.63 159.45,141.85 159.77,141.59 160.08,141.43 160.40,141.13 160.72,141.54 161.03,143.02 161.35,143.62 161.66,143.75 161.98,142.15 162.29,139.65 162.61,137.54 162.92,140.12 163.24,139.29 163.56,139.44 163.87,143.61 164.19,145.27 164.50,147.47 164.82,146.27 165.13,143.65 165.45,143.15 165.76,143.71 166.08,139.77 166.40,138.88 166.71,139.33 167.03,138.24 167.34,139.94 167.66,143.98 167.97,144.62 168.29,143.65 168.60,146.26 168.92,147.20 169.24,144.23 169.55,141.58 169.87,139.61 170.18,138.76 170.50,141.06 170.81,143.41 171.13,142.46 171.44,142.31 171.76,139.89 172.07,137.65 172.39,133.66 172.71,132.56 173.02,134.73 173.34,137.07 173.65,138.71 173.97,137.92 174.28,140.19 174.60,141.46 174.91,139.94 175.23,140.22 175.55,138.48 175.86,139.04 176.18,137.75 176.49,141.33 176.81,144.97 177.12,146.86 177.44,147.97 177.75,148.26 178.07,147.07 178.39,146.51 178.70,147.49 179.02,148.24 179.33,151.35 179.65,153.79 179.96,156.03 180.28,154.90 180.59,154.53 180.91,152.10 181.23,153.48 181.54,154.80 181.86,158.12 182.17,161.10 182.49,163.75 182.80,162.16 183.12,161.93 183.43,158.92 183.75,155.39 184.07,147.43 184.38,142.07 184.70,138.26 185.01,131.12 185.33,129.40 185.64,129.28 185.96,130.95 186.27,130.82 186.59,131.52 186.91,129.41 187.22,131.40 187.54,138.27 187.85,146.89 188.17,142.58 188.48,136.57 188.80,131.67 189.11,125.07 189.43,125.89 189.75,125.07 190.06,128.86 190.38,132.50 190.69,133.55 191.01,135.32 191.32,141.15 191.64,145.07 191.95,150.16 192.27,153.73 192.59,153.31 192.90,151.60 193.22,153.00 193.53,152.99 193.85,152.90 194.16,146.81 194.48,141.65 194.79,135.48 195.11,131.02 195.43,124.65 195.74,117.18 196.06,112.33 196.37,104.83 196.69,97.42 197.00,97.10 197.32,101.36 197.63,105.05 197.95,106.54 198.27,107.63 198.58,108.87 198.90,110.41 199.21,113.03 199.53,114.10 199.84,116.20 200.16,119.70 200.47,124.80 200.79,124.85 201.11,125.58 201.42,130.46 201.74,131.17 202.05,132.84 202.37,133.42 202.68,134.76 203.00,137.28 203.31,139.84 203.63,141.32 203.94,143.69 204.26,146.24 204.58,144.97 204.89,144.32 205.21,146.43 205.52,144.21 205.84,146.22 206.15,145.29 206.47,146.71 206.78,149.11 207.10,153.33 207.42,155.18 207.73,154.49 208.05,158.87 208.36,159.19 208.68,160.17 208.99,158.77 209.31,159.80 209.62,158.13 209.94,157.73 210.26,157.09 210.57,160.43 210.89,161.10 211.20,163.07 211.52,167.96 211.83,169.13 212.15,168.25 212.46,168.08 212.78,165.43 213.10,165.14 213.41,165.41 213.73,163.66 214.04,165.26 214.36,161.58 214.67,161.00 214.99,157.89 215.30,155.64 215.62,150.26 215.94,145.78 216.25,142.82 216.57,137.75 216.88,137.63 217.20,135.86 217.51,136.68 217.83,138.12 218.14,137.17 218.46,133.63 218.78,130.14 219.09,124.15 219.41,125.08 219.72,123.67 220.04,121.01 220.35,123.38 220.67,122.13 220.98,123.53 221.30,124.18 221.62,118.93 221.93,111.41 222.25,106.38 222.56,100.77 222.88,93.21 223.19,85.70 223.51,82.48 223.82,76.87 224.14,78.14 224.46,79.32 224.77,77.79 225.09,80.14 225.40,81.87 225.72,81.79 226.03,84.34 226.35,91.14 226.66,92.59 226.98,102.02 227.30,108.32 227.61,116.14 227.93,114.69 228.24,113.78 228.56,112.09 228.87,112.03 229.19,113.94 229.50,112.77 229.82,116.40 230.14,120.14 230.45,124.69 230.77,131.91 231.08,132.75 231.40,134.77 231.71,135.16 232.03,132.36 232.34,132.57 232.66,135.65 232.97,135.20 233.29,133.78 233.61,132.21 233.92,131.20 234.24,131.91 234.55,135.73 234.87,139.29 235.18,144.56 235.50,148.89 235.81,148.23 236.13,151.17 236.45,152.63 236.76,155.22 237.08,155.03 237.39,152.16 237.71,147.17 238.02,143.45 238.34,139.41 238.65,133.50 238.97,129.43 239.29,126.57 239.60,124.31 239.92,126.55 240.23,125.77 240.55,123.96 240.86,121.37 241.18,119.26 241.49,116.99 241.81,112.36 242.13,106.01 242.44,101.94 242.76,97.48 243.07,94.41 243.39,86.36 243.70,81.60 244.02,77.59 244.33,71.25 244.65,68.42 244.97,72.64 245.28,75.66 245.60,80.61 245.91,84.77 246.23,91.72 246.54,96.18 246.86,105.08 247.17,109.25 247.49,111.96 247.81,113.08 248.12,116.49 248.44,119.30 248.75,124.19 249.07,127.97 249.38,128.52 249.70,129.20 250.01,133.42 250.33,133.05 250.65,132.52 250.96,131.15 251.28,131.22 251.59,134.06 251.91,138.00 252.22,139.32 252.54,138.73 252.85,138.90 253.17,140.20 253.49,135.71 253.80,135.07 254.12,133.72 254.43,134.25 254.75,136.19 255.06,136.68 255.38,137.52 255.69,138.21 256.01,140.05 256.33,138.75 256.64,136.01 256.96,134.56 257.27,131.24 257.59,130.83 257.90,130.21 258.22,133.74 258.53,134.64 258.85,140.85 259.17,144.36 259.48,147.00 259.80,144.88 260.11,142.59 260.43,139.81 260.74,137.96 261.06,139.51 261.37,139.75 261.69,138.46 262.00,141.33 262.32,140.41 262.64,138.71 262.95,138.59 263.27,136.64 263.58,134.34 263.90,132.58 264.21,133.36 264.53,131.00 264.84,128.43 265.16,128.16 265.48,129.60 265.79,128.43 266.11,128.42 266.42,125.16 266.74,126.51 267.05,125.63 267.37,129.13 267.68,132.28 268.00,135.20 268.32,136.05 268.63,139.85 268.95,137.97 269.26,135.97 269.58,136.80 269.89,135.10 270.21,131.45 270.52,134.47 270.84,137.04 271.16,138.29 271.47,142.36 271.79,143.77 272.10,144.33 272.42,144.54 272.73,145.21 273.05,144.15 273.36,147.27 273.68,145.33 274.00,149.47 274.31,149.57 274.63,153.12 274.94,153.35 275.26,151.22 275.57,149.82 275.89,148.88 276.20,149.05 276.52,151.76 276.84,155.28 277.15,157.78 277.47,157.78 277.78,159.34 278.10,159.36 278.41,159.18 278.73,158.51 279.04,154.26 279.36,154.59 279.68,156.77 279.99,159.15 280.31,161.50 280.62,164.13 280.94,163.71 281.25,161.83 281.57,160.92 281.88,157.96 282.20,161.11 282.52,160.43 282.83,164.09 283.15,166.46 283.46,168.88 283.78,166.66 284.09,166.22 284.41,164.67 284.72,162.28 285.04,162.56 285.36,163.45 285.67,161.24 285.99,162.71 286.30,166.73 286.62,165.51 286.93,167.55 287.25,168.49 287.56,166.74 287.88,166.42 288.20,166.61 288.51,167.84 288.83,166.87 289.14,166.16 289.46,167.19 289.77,166.81 290.09,167.80 290.40,165.25 290.72,163.08 291.03,160.76 291.35,159.71 291.67,155.80 291.98,151.91 292.30,152.19 292.61,151.95 292.93,153.14 293.24,152.97 293.56,156.72 293.87,151.59 294.19,147.32 294.51,143.25 294.82,141.92 295.14,141.46 295.45,138.13 295.77,134.86 296.08,131.14 296.40,129.58 296.71,127.75 297.03,125.41 297.35,119.99 297.66,116.06 297.98,112.32 298.29,108.26 298.61,104.40 298.92,98.49 299.24,99.11 299.55,103.82 299.87,107.57 300.19,114.72 300.50,119.07 300.82,122.46 301.13,126.54 301.45,126.47 301.76,127.82 302.08,128.80 302.39,131.82 302.71,131.74 303.03,131.11 303.34,130.98 303.66,127.07 303.97,126.20 304.29,122.65 304.60,116.60 304.92,115.07 305.23,114.50 305.55,110.06 305.87,108.43 306.18,106.85 306.50,107.25 306.81,108.36 307.13,109.32 307.44,106.20 307.76,104.35 308.07,102.64 308.39,108.21 308.71,110.38 309.02,112.26 309.34,114.64 309.65,116.87 309.97,114.20 310.28,110.14 310.60,107.26 310.91,104.42 311.23,104.01 311.55,102.92 311.86,105.06 312.18,105.01 312.49,102.33 312.81,103.11 313.12,101.43 313.44,99.52 313.75,95.25 314.07,90.32 314.39,83.69 314.70,87.43 315.02,93.32 315.33,99.54 315.65,103.28 315.96,107.21 316.28,109.14 316.59,107.75 316.91,107.97 317.23,109.20 317.54,108.69 317.86,108.59 318.17,108.00 318.49,108.70 318.80,110.85 319.12,111.44 319.43,112.11 319.75,111.66 320.06,112.99 320.38,115.66 320.70,120.05 321.01,128.84 321.33,134.62 321.64,139.85 321.96,142.71 322.27,147.87 322.59,148.79 322.90,149.94 323.22,145.04 323.54,140.72 323.85,139.36 324.17,139.36 324.48,139.99 324.80,139.71 325.11,139.90 325.43,136.33 325.74,133.71 326.06,132.42 326.38,133.76 326.69,132.29 327.01,128.75 327.32,128.14 327.64,125.61 327.95,124.23 328.27,123.39 328.58,126.78 328.90,124.27 329.22,123.57 329.53,120.38 329.85,116.73 330.16,112.78 330.48,111.12 330.79,104.37 331.11,98.06 331.42,94.74 331.74,88.40 332.06,87.27 332.37,92.47 332.69,97.10 333.00,102.88 333.32,109.80 333.63,117.00 333.95,116.72 334.26,118.02 334.58,122.15 334.90,122.55 335.21,119.73 335.53,116.93 335.84,113.49 336.16,107.98 336.47,104.05 336.79,98.43 337.10,102.28 337.42,107.88 337.74,111.37 338.05,116.31 338.37,123.30 338.68,126.58 339.00,129.86 339.31,132.78 339.63,138.28 339.94,142.15 340.26,147.28 340.58,150.78 340.89,154.16 341.21,158.96 341.52,157.50 341.84,154.72 342.15,152.83 342.47,147.34 342.78,149.61 343.10,152.23 343.42,152.75 343.73,154.07 344.05,152.60 344.36,152.62 344.68,150.19 344.99,148.17 345.31,150.15 345.62,152.25 345.94,153.13 346.26,154.17 346.57,153.32 346.89,152.82 347.20,150.00 347.52,148.63 347.83,144.26 348.15,145.57 348.46,146.88 348.78,147.98 349.09,149.27 349.41,151.46 349.73,149.95 350.04,146.52 350.36,144.75 350.67,145.83 350.99,144.12 351.30,145.24 351.62,147.80 351.93,148.28 352.25,150.94 352.57,151.65 352.88,149.17 353.20,147.77 353.51,146.47 353.83,144.43 354.14,140.45 354.46,138.99 354.77,139.41 355.09,139.33 355.41,138.02 355.72,140.34 356.04,136.26 356.35,132.33 356.67,130.88 356.98,127.23 357.30,123.51 357.61,123.45 357.93,123.51 358.25,126.96 358.56,124.62 358.88,118.51 359.19,114.80 359.51,109.48 359.82,105.77 360.14,103.80 360.45,103.34 360.77,101.23 361.09,101.28 361.40,98.12 361.72,95.47 362.03,97.08 362.35,95.68 362.66,95.95 362.98,95.44 363.29,98.97 363.61,102.14 363.93,108.67 364.24,114.17 364.56,120.25 364.87,122.83 365.19,122.33 365.50,121.61 365.82,121.57 366.13,122.56 366.45,128.18 366.77,127.99 367.08,127.74 367.40,127.76 367.71,128.95 368.03,128.22 368.34,128.40 368.66,126.94 368.97,128.18 369.29,128.47 369.61,124.94 369.92,120.81 370.24,115.81 370.55,113.89 370.87,110.97 371.18,95.69 371.50,78.02 371.81,61.76 372.13,46.71 372.45,32.39 372.76,26.78 373.08,37.71 373.39,43.36 373.71,47.87 374.02,54.99 374.34,64.12 374.65,66.77 374.97,67.48 375.29,73.01 375.60,75.63 375.92,78.44 376.23,81.72 376.55,85.93 376.86,90.66 377.18,99.65 377.49,103.88 377.81,110.35 378.13,115.83 378.44,112.94 378.76,113.56 379.07,116.41 379.39,118.05 379.70,119.24 380.02,124.10 380.33,130.24 380.65,137.20 380.96,136.32 381.28,138.83 381.60,137.31 381.91,139.23 382.23,141.57 382.54,141.64 382.86,143.03 383.17,142.54 383.49,139.56 383.80,136.66 384.12,134.54 384.44,133.04 384.75,133.26 385.07,134.11 385.38,131.54 385.70,130.54 386.01,130.04 386.33,129.54 386.64,128.71 386.96,131.96 387.28,132.88 387.59,134.15 387.91,134.56 388.22,136.35 388.54,138.96 388.85,139.45 389.17,139.83 389.48,139.75 389.80,144.76 390.12,147.04 390.43,148.36 390.75,146.75 391.06,143.21 391.38,143.60 391.69,138.91 392.01,137.32 392.32,139.05 392.64,140.70 392.96,141.16 393.27,141.77 393.59,137.19 393.90,135.57 394.22,135.26 394.53,135.87 394.85,135.45 395.16,136.18 395.48,139.13 395.80,141.38 396.11,144.93 396.43,144.84 396.74,148.56 397.06,150.42 397.37,154.26 397.69,155.59 398.00,156.04 398.32,154.69 398.64,155.65 398.95,154.47 399.27,155.68 399.58,150.90 399.90,151.33 400.21,151.08 400.53,154.61 400.84,154.29 401.16,155.90 401.48,154.70 401.79,147.31 402.11,136.64 402.42,126.34 402.74,120.77 403.05,116.15 403.37,107.65 403.68,100.77 404.00,93.80 404.32,89.48 404.63,87.57 404.95,91.04 405.26,93.82 405.58,96.42 405.89,97.42 406.21,93.74 406.52,91.10 406.84,89.40 407.16,85.84 407.47,87.15 407.79,89.59 408.10,93.42 408.42,96.85 408.73,100.81 409.05,105.29 409.36,108.15 409.68,111.82 409.99,113.03 410.31,114.15 410.63,112.84 410.94,113.76 411.26,113.37 411.57,115.27 411.89,117.28 412.20,121.57 412.52,128.01 412.83,135.69 413.15,139.91 413.47,133.31 413.78,128.34 414.10,124.75 414.41,120.34 414.73,114.40 415.04,115.15 415.36,113.18 415.67,120.14 415.99,124.90 416.31,134.56 416.62,139.61 416.94,141.50 417.25,145.09 417.57,143.84 417.88,137.74 418.20,132.74 418.51,127.25 418.83,128.60 419.15,133.74 419.46,140.11 419.78,142.64 420.09,145.20 420.41,145.80 420.72,145.64 421.04,144.53 421.35,141.45 421.67,143.57 421.99,144.64 422.30,145.78 422.62,146.98 422.93,151.17 423.25,153.24 423.56,156.59 423.88,155.65 424.19,156.62 424.51,157.22 424.83,158.22 425.14,160.13 425.46,158.66 425.77,162.79 426.09,164.21 426.40,164.27 426.72,167.30 427.03,166.31 427.35,164.70 427.67,160.69 427.98,159.69 428.30,155.78 428.61,156.26 428.93,157.12 429.24,154.59 429.56,151.79 429.87,149.38 430.19,148.30 430.51,145.06 430.82,142.25 431.14,142.01 431.45,141.84 431.77,140.81 432.08,137.83 432.40,136.87 432.71,134.51 433.03,132.86 433.35,135.72 433.66,133.50 433.98,128.75 434.29,126.17 434.61,121.86 434.92,119.84 435.24,120.46 435.55,122.57 435.87,125.16 436.19,130.74 436.50,135.75 436.82,132.72 437.13,129.07 437.45,120.22 437.76,116.94 438.08,110.93 438.39,105.93 438.71,103.39 439.02,105.38 439.34,112.34 439.66,116.98 439.97,122.45 440.29,124.19 440.60,126.55 440.92,128.86 441.23,132.23 441.55,135.30 441.86,141.05 442.18,143.62 442.50,146.96 442.81,150.57 443.13,153.29 443.44,153.33 443.76,153.70 444.07,153.82 444.39,153.45 444.70,153.45 445.02,151.99 445.34,155.85 445.65,153.77 445.97,151.70 446.28,152.61 446.60,150.03 446.91,146.12 447.23,137.00 447.54,127.26 447.86,119.00 448.18,109.48 448.49,97.34 448.81,89.62 449.12,83.75 449.44,79.52 449.75,76.20 450.07,68.09 450.38,58.28 450.70,52.88 451.02,43.32 451.33,41.54 451.65,41.40 451.96,39.90 452.28,36.33 452.59,30.32 452.91,26.95 453.22,27.63 453.54,28.27 453.86,31.41 454.17,34.68 454.49,40.15 454.80,41.13 455.12,41.37 455.43,47.87 455.75,48.97 456.06,53.60 456.38,53.10 456.70,55.62 457.01,55.72 457.33,57.87 457.64,58.12 457.96,58.03 458.27,60.02 458.59,62.48 458.90,67.48 459.22,72.23 459.54,74.00 459.85,73.47 460.17,73.76 460.48,73.26 460.80,78.26 461.11,82.28 461.43,85.75 461.74,89.93 462.06,94.49 462.38,94.45 462.69,93.79 463.01,93.42 463.32,95.94 463.64,96.15 463.95,99.08 464.27,104.43 464.58,109.28 464.90,114.30 465.22,121.89 465.53,124.50 465.85,124.20 466.16,123.93 466.48,123.74 466.79,122.43 467.11,123.40 467.42,126.88 467.74,128.64 468.05,131.37 468.37,133.14 468.69,138.06 469.00,139.54 469.32,139.07 469.63,137.14 469.95,137.60 470.26,136.80 470.58,133.13 470.89,131.57 471.21,130.78 471.53,129.91 471.84,128.55 472.16,122.72 472.47,119.94 472.79,115.86 473.10,112.71 473.42,107.22 473.73,106.33 474.05,102.06 474.37,97.81 474.68,96.32 475.00,98.27 475.31,95.07 475.63,95.72 475.94,94.09 476.26,88.04 476.57,84.98 476.89,80.08 477.21,75.38 477.52,75.70 477.84,75.58 478.15,74.45 478.47,72.79 478.78,75.16 479.10,75.28 479.41,72.53 479.73,67.88 480.05,64.60 480.36,64.44 480.68,65.43 480.99,68.47 481.31,68.80 481.62,69.36 481.94,72.72 482.25,75.85 482.57,76.44 482.89,75.12 483.20,73.41 483.52,71.66 483.83,68.38 484.15,69.05 484.46,66.66 484.78,74.18 485.09,79.47 485.41,81.33 485.73,85.52 486.04,85.88 486.36,90.52 486.67,92.68 486.99,93.72 487.30,96.89 487.62,99.33 487.93,100.92 488.25,106.61 488.57,109.02 488.88,110.46 489.20,115.73 489.51,115.68 489.83,113.63 490.14,109.08 490.46,100.92 490.77,97.27 491.09,92.39 491.41,91.62 491.72,90.42 492.04,88.26 492.35,85.48 492.67,87.84 492.98,88.56 493.30,89.04 493.61,94.30 493.93,96.33 494.25,101.81 494.56,110.17 494.88,114.82 495.19,116.24 495.51,115.31 495.82,116.86 496.14,115.81 496.45,118.25 496.77,120.24 497.08,121.82 497.40,128.63 497.72,133.92 498.03,130.77 498.35,131.02 498.66,127.71 498.98,127.74 499.29,131.11 499.61,135.32 499.92,138.89 500.24,141.38 500.56,144.61 500.87,144.10 501.19,143.57 501.50,141.60 501.82,143.78 502.13,145.63 502.45,148.47 502.76,149.84 503.08,154.93 503.40,157.73 503.71,160.52 504.03,157.30 504.34,157.98 504.66,158.83 504.97,157.36 505.29,157.21 505.60,160.82 505.92,160.83 506.24,164.22 506.55,161.79 506.87,158.89 507.18,155.45 507.50,152.08 507.81,146.49 508.13,142.99 508.44,140.39 508.76,140.14 509.08,137.79 509.39,138.73 509.71,139.97 510.02,137.03 510.34,134.28 510.65,132.12 510.97,131.80 511.28,132.95 511.60,132.81" fill="none" stroke="#10dd10" stroke-width="0.6" stroke-linejoin="round"/></g>
<rect x="38.3" y="10.8" width="473.50" height="186.60" fill="none" stroke="#c4c4c4" stroke-width="1"/>
<path d="M196.13,197.4v-4.7M196.13,10.8v4.7M353.97,197.4v-4.7M353.97,10.8v4.7M38.3,170.74h4.7M511.8,170.74h-4.7M38.3,144.09h4.7M511.8,144.09h-4.7M38.3,117.43h4.7M511.8,117.43h-4.7M38.3,90.77h4.7M511.8,90.77h-4.7M38.3,64.11h4.7M511.8,64.11h-4.7M38.3,37.46h4.7M511.8,37.46h-4.7" stroke="#c4c4c4" stroke-width="1" fill="none"/>
<text transform="translate(34.90,201.40) scale(0.97,1)" font-size="11" text-anchor="end" font-family='"Liberation Sans", Arial, sans-serif' font-weight="normal" fill="#2b2b2b" stroke="#2b2b2b" stroke-width="0.25" >0</text>
<text transform="translate(34.90,174.74) scale(0.97,1)" font-size="11" text-anchor="end" font-family='"Liberation Sans", Arial, sans-serif' font-weight="normal" fill="#2b2b2b" stroke="#2b2b2b" stroke-width="0.25" >0.5</text>
<text transform="translate(34.90,148.09) scale(0.97,1)" font-size="11" text-anchor="end" font-family='"Liberation Sans", Arial, sans-serif' font-weight="normal" fill="#2b2b2b" stroke="#2b2b2b" stroke-width="0.25" >1</text>
<text transform="translate(34.90,121.43) scale(0.97,1)" font-size="11" text-anchor="end" font-family='"Liberation Sans", Arial, sans-serif' font-weight="normal" fill="#2b2b2b" stroke="#2b2b2b" stroke-width="0.25" >1.5</text>
<text transform="translate(34.90,94.77) scale(0.97,1)" font-size="11" text-anchor="end" font-family='"Liberation Sans", Arial, sans-serif' font-weight="normal" fill="#2b2b2b" stroke="#2b2b2b" stroke-width="0.25" >2</text>
<text transform="translate(34.90,68.11) scale(0.97,1)" font-size="11" text-anchor="end" font-family='"Liberation Sans", Arial, sans-serif' font-weight="normal" fill="#2b2b2b" stroke="#2b2b2b" stroke-width="0.25" >2.5</text>
<text transform="translate(34.90,41.46) scale(0.97,1)" font-size="11" text-anchor="end" font-family='"Liberation Sans", Arial, sans-serif' font-weight="normal" fill="#2b2b2b" stroke="#2b2b2b" stroke-width="0.25" >3</text>
<text transform="translate(34.90,14.80) scale(0.97,1)" font-size="11" text-anchor="end" font-family='"Liberation Sans", Arial, sans-serif' font-weight="normal" fill="#2b2b2b" stroke="#2b2b2b" stroke-width="0.25" >3.5</text>
<text transform="translate(38.50,212.40) scale(0.92,1)" font-size="11.4" text-anchor="middle" font-family='"Liberation Sans", Arial, sans-serif' font-weight="normal" fill="#2b2b2b" stroke="#2b2b2b" stroke-width="0.25" >0</text>
<text transform="translate(196.33,212.40) scale(0.92,1)" font-size="11.4" text-anchor="middle" font-family='"Liberation Sans", Arial, sans-serif' font-weight="normal" fill="#2b2b2b" stroke="#2b2b2b" stroke-width="0.25" >500</text>
<text transform="translate(354.17,212.40) scale(0.92,1)" font-size="11.4" text-anchor="middle" font-family='"Liberation Sans", Arial, sans-serif' font-weight="normal" fill="#2b2b2b" stroke="#2b2b2b" stroke-width="0.25" >1000</text>
<text transform="translate(512.00,212.40) scale(0.92,1)" font-size="11.4" text-anchor="middle" font-family='"Liberation Sans", Arial, sans-serif' font-weight="normal" fill="#2b2b2b" stroke="#2b2b2b" stroke-width="0.25" >1500</text>
<text transform="translate(275.00,228.40) scale(1.05,1)" font-size="11.2" text-anchor="middle" font-family='"Liberation Sans", Arial, sans-serif' font-weight="normal" fill="#2b2b2b" stroke="#2b2b2b" stroke-width="0.25" >time/h</text>
<text transform="translate(15.9,104.6) rotate(-90) scale(1.16,0.95)" font-size="11" text-anchor="middle" font-family='"Liberation Sans", Arial, sans-serif' fill="#2b2b2b" stroke="#2b2b2b" stroke-width="0.25">significant wave height/m</text>
<text transform="translate(262.00,249.30) scale(1,1)" font-size="13" text-anchor="middle" font-family='"Liberation Serif", "Times New Roman", serif' font-weight="bold" fill="#111" stroke="#111" stroke-width="0.25" >(a)</text>
<rect x="104.2" y="11.8" width="114.10" height="48.50" fill="#fff" stroke="#c4c4c4" stroke-width="0.8"/>
<clipPath id="cia"><rect x="104.2" y="11.8" width="114.10" height="48.50"/></clipPath>
<g clip-path="url(#cia)"><polyline points="158.5,61 161.8,34.5 162.9,61" fill="none" stroke="#f08080" stroke-width="1.1"/><polyline points="149.6,61 154.5,42.5 156.4,61" fill="none" stroke="#1030ff" stroke-width="1.5" stroke-dasharray="1.6,1.8"/><polyline points="150.0,61 150.1,29.5 152.0,32.5 154.6,11.0 156.6,61" fill="none" stroke="#1a1a1a" stroke-width="1.2"/><polyline points="150.7,61 151.0,35 152.6,34.0 155.0,17 156.0,61" fill="none" stroke="#30b030" stroke-width="1.2"/></g>
<text transform="translate(101.40,24.50) scale(0.9,1)" font-size="9.4" text-anchor="end" font-family='"Liberation Sans", Arial, sans-serif' font-weight="normal" fill="#2b2b2b" stroke="#2b2b2b" stroke-width="0.25" >2.36</text>
<text transform="translate(101.40,33.40) scale(0.9,1)" font-size="9.4" text-anchor="end" font-family='"Liberation Sans", Arial, sans-serif' font-weight="normal" fill="#2b2b2b" stroke="#2b2b2b" stroke-width="0.25" >2.34</text>
<text transform="translate(101.40,42.30) scale(0.9,1)" font-size="9.4" text-anchor="end" font-family='"Liberation Sans", Arial, sans-serif' font-weight="normal" fill="#2b2b2b" stroke="#2b2b2b" stroke-width="0.25" >2.32</text>
<text transform="translate(101.40,51.20) scale(0.9,1)" font-size="9.4" text-anchor="end" font-family='"Liberation Sans", Arial, sans-serif' font-weight="normal" fill="#2b2b2b" stroke="#2b2b2b" stroke-width="0.25" >2.3</text>
<text transform="translate(101.40,60.10) scale(0.9,1)" font-size="9.4" text-anchor="end" font-family='"Liberation Sans", Arial, sans-serif' font-weight="normal" fill="#2b2b2b" stroke="#2b2b2b" stroke-width="0.25" >2.28</text>
<text transform="translate(121.80,72.50) scale(0.86,1)" font-size="9.8" text-anchor="middle" font-family='"Liberation Sans", Arial, sans-serif' font-weight="normal" fill="#2b2b2b" stroke="#2b2b2b" stroke-width="0.25" >640</text>
<text transform="translate(168.60,72.50) scale(0.86,1)" font-size="9.8" text-anchor="middle" font-family='"Liberation Sans", Arial, sans-serif' font-weight="normal" fill="#2b2b2b" stroke="#2b2b2b" stroke-width="0.25" >660</text>
<text transform="translate(216.00,72.50) scale(0.86,1)" font-size="9.8" text-anchor="middle" font-family='"Liberation Sans", Arial, sans-serif' font-weight="normal" fill="#2b2b2b" stroke="#2b2b2b" stroke-width="0.25" >680</text>
<path d="M121.7,60.3v-1.3M121.7,11.8v1.3M145.1,60.3v-1.3M145.1,11.8v1.3M168.5,60.3v-1.3M168.5,11.8v1.3M192.2,60.3v-1.3M192.2,11.8v1.3M215.9,60.3v-1.3M215.9,11.8v1.3M104.2,21.7h1.3M218.3,21.7h-1.3M104.2,30.6h1.3M218.3,30.6h-1.3M104.2,39.5h1.3M218.3,39.5h-1.3M104.2,48.4h1.3M218.3,48.4h-1.3M104.2,57.3h1.3M218.3,57.3h-1.3" stroke="#c4c4c4" stroke-width="0.8" fill="none"/>
<line x1="218.5" y1="48" x2="239.5" y2="66.2" stroke="#444" stroke-width="0.7"/>
<polygon points="241.8,68.2 237.6,66.3 239.9,63.6" fill="#222"/>
<circle cx="245.5" cy="75" r="7.3" fill="none" stroke="#999" stroke-width="0.8"/>
<rect x="414.5" y="15.5" width="93.40" height="53.70" fill="#fff" stroke="#c4c4c4" stroke-width="0.8"/>
<line x1="415.7" y1="21.90" x2="424.8" y2="21.90" stroke="#111" stroke-width="1.0"/>
<text transform="translate(426.30,26.40) scale(0.93,1)" font-size="10.3" text-anchor="start" font-family='"Liberation Sans", Arial, sans-serif' font-weight="normal" fill="#1a1a1a" stroke="#1a1a1a" stroke-width="0.25" >Observed</text>
<line x1="415.7" y1="35.20" x2="424.8" y2="35.20" stroke="#f08080" stroke-width="1.0"/>
<text transform="translate(426.30,39.70) scale(0.93,1)" font-size="10.3" text-anchor="start" font-family='"Liberation Sans", Arial, sans-serif' font-weight="normal" fill="#1a1a1a" stroke="#1a1a1a" stroke-width="0.25" >LSSVM</text>
<line x1="415.7" y1="48.50" x2="424.8" y2="48.50" stroke="#4040d0" stroke-width="1.2" stroke-dasharray="2.2,2"/>
<text transform="translate(426.30,53.00) scale(0.93,1)" font-size="10.3" text-anchor="start" font-family='"Liberation Sans", Arial, sans-serif' font-weight="normal" fill="#1a1a1a" stroke="#1a1a1a" stroke-width="0.25" >EMD-LSSVM</text>
<line x1="415.7" y1="61.80" x2="424.8" y2="61.80" stroke="#40d040" stroke-width="1.0"/>
<text transform="translate(426.30,66.30) scale(0.93,1)" font-size="10.3" text-anchor="start" font-family='"Liberation Sans", Arial, sans-serif' font-weight="normal" fill="#1a1a1a" stroke="#1a1a1a" stroke-width="0.25" >EMD-PSO-LSSVM</text>
<clipPath id="cb"><rect x="51.3" y="273.2" width="440.90" height="209.10"/></clipPath>
<g clip-path="url(#cb)"><path d="M51.50,428.40 51.79,428.37 52.09,429.30 52.38,429.39 52.68,430.50 52.97,430.67 53.26,428.72 53.56,427.92 53.85,425.67 54.14,425.16 54.44,425.43 54.73,424.17 55.03,423.58 55.32,423.55 55.61,423.96 55.91,422.41 56.20,421.38 56.50,419.71 56.79,419.87 57.08,421.40 57.38,422.11 57.67,423.60 57.96,425.28 58.26,426.35 58.55,428.18 58.85,427.92 59.14,427.13 59.43,427.63 59.73,428.33 60.02,430.38 60.32,429.91 60.61,429.95 60.90,431.12 61.20,433.51 61.49,433.67 61.79,433.32 62.08,434.18 62.37,431.85 62.67,431.58 62.96,432.53 63.25,431.79 63.55,434.47 63.84,437.38 64.14,438.23 64.43,438.05 64.72,437.66 65.02,437.49 65.31,435.67 65.61,434.02 65.90,434.68 66.19,434.92 66.49,436.21 66.78,436.19 67.07,436.26 67.37,437.38 67.66,437.32 67.96,439.19 68.25,439.12 68.54,438.99 68.84,439.71 69.13,440.95 69.43,441.22 69.72,441.14 70.01,442.34 70.31,442.80 70.60,442.03 70.89,442.99 71.19,443.42 71.48,445.20 71.78,446.13 72.07,444.52 72.36,445.90 72.66,445.36 72.95,444.57 73.25,446.23 73.54,445.88 73.83,445.21 74.13,445.57 74.42,446.95 74.72,447.53 75.01,446.73 75.30,446.62 75.60,445.88 75.89,445.47 76.18,444.48 76.48,443.37 76.77,441.28 77.07,440.10 77.36,438.61 77.65,438.69 77.95,439.47 78.24,440.55 78.54,438.49 78.83,437.34 79.12,434.86 79.42,432.99 79.71,430.61 80.00,432.32 80.30,433.17 80.59,434.00 80.89,435.19 81.18,436.03 81.47,433.78 81.77,434.11 82.06,432.04 82.36,430.37 82.65,431.08 82.94,430.79 83.24,430.21 83.53,431.91 83.82,429.57 84.12,429.82 84.41,429.52 84.71,429.66 85.00,429.11 85.29,428.13 85.59,427.73 85.88,427.96 86.18,428.78 86.47,429.08 86.76,426.85 87.06,424.78 87.35,424.13 87.65,421.95 87.94,420.45 88.23,420.19 88.53,419.70 88.82,418.61 89.11,418.05 89.41,417.27 89.70,413.99 90.00,409.68 90.29,407.69 90.58,406.84 90.88,404.94 91.17,405.25 91.47,403.17 91.76,402.14 92.05,403.57 92.35,404.63 92.64,403.41 92.93,403.19 93.23,401.82 93.52,400.54 93.82,400.26 94.11,397.57 94.40,399.26 94.70,399.05 94.99,399.01 95.29,399.00 95.58,396.78 95.87,393.38 96.17,391.90 96.46,390.05 96.75,392.26 97.05,393.11 97.34,396.25 97.64,399.36 97.93,402.85 98.22,402.68 98.52,403.49 98.81,405.25 99.11,403.45 99.40,404.22 99.69,403.36 99.99,402.34 100.28,402.44 100.58,403.13 100.87,405.56 101.16,407.50 101.46,409.90 101.75,409.47 102.04,409.84 102.34,408.83 102.63,408.44 102.93,407.91 103.22,406.45 103.51,407.77 103.81,406.79 104.10,406.71 104.40,405.19 104.69,404.98 104.98,404.49 105.28,403.99 105.57,405.51 105.86,406.51 106.16,407.73 106.45,409.27 106.75,410.93 107.04,410.57 107.33,410.59 107.63,408.64 107.92,407.69 108.22,406.89 108.51,409.53 108.80,410.05 109.10,411.25 109.39,410.76 109.68,404.57 109.98,399.90 110.27,394.70 110.57,389.48 110.86,383.92 111.15,378.64 111.45,373.73 111.74,367.88 112.04,364.87 112.33,363.82 112.62,363.47 112.92,362.18 113.21,358.89 113.51,356.16 113.80,352.77 114.09,347.90 114.39,345.14 114.68,342.57 114.97,339.24 115.27,337.84 115.56,333.68 115.86,328.30 116.15,321.58 116.44,316.13 116.74,311.34 117.03,308.41 117.33,310.95 117.62,311.78 117.91,314.27 118.21,315.78 118.50,316.16 118.79,310.90 119.09,306.91 119.38,302.67 119.68,297.96 119.97,296.94 120.26,301.32 120.56,305.18 120.85,308.56 121.15,312.75 121.44,317.95 121.73,322.55 122.03,326.35 122.32,330.74 122.61,336.66 122.91,340.31 123.20,344.62 123.50,347.03 123.79,352.55 124.08,355.77 124.38,358.66 124.67,359.22 124.97,355.52 125.26,353.04 125.55,349.27 125.85,346.76 126.14,344.11 126.43,342.27 126.73,345.41 127.02,347.31 127.32,348.18 127.61,348.78 127.90,349.72 128.20,351.48 128.49,348.48 128.79,345.71 129.08,344.24 129.37,341.67 129.67,339.20 129.96,336.23 130.26,336.62 130.55,337.98 130.84,338.76 131.14,339.77 131.43,340.16 131.72,342.23 132.02,340.06 132.31,338.51 132.61,335.88 132.90,333.87 133.19,331.60 133.49,330.06 133.78,327.60 134.08,327.16 134.37,328.81 134.66,328.05 134.96,328.73 135.25,330.86 135.54,332.91 135.84,336.49 136.13,338.58 136.43,339.39 136.72,341.68 137.01,343.38 137.31,345.84 137.60,346.04 137.90,347.34 138.19,348.90 138.48,350.51 138.78,352.37 139.07,354.25 139.36,358.76 139.66,362.32 139.95,364.72 140.25,365.43 140.54,364.97 140.83,367.66 141.13,371.19 141.42,374.63 141.72,377.15 142.01,378.63 142.30,377.30 142.60,378.79 142.89,378.64 143.19,378.95 143.48,380.95 143.77,381.25 144.07,383.22 144.36,382.72 144.65,383.14 144.95,382.99 145.24,383.62 145.54,382.83 145.83,384.21 146.12,387.27 146.42,388.47 146.71,391.57 147.01,392.42 147.30,393.46 147.59,395.64 147.89,396.05 148.18,397.50 148.47,398.23 148.77,401.15 149.06,401.42 149.36,403.51 149.65,403.98 149.94,405.09 150.24,406.09 150.53,406.66 150.83,407.72 151.12,407.40 151.41,406.28 151.71,404.94 152.00,408.44 152.29,408.75 152.59,410.55 152.88,410.63 153.18,411.60 153.47,409.79 153.76,409.19 154.06,407.77 154.35,407.52 154.65,407.87 154.94,408.40 155.23,409.62 155.53,410.02 155.82,410.79 156.12,411.81 156.41,411.34 156.70,411.89 157.00,411.11 157.29,411.24 157.58,410.73 157.88,410.70 158.17,411.29 158.47,412.94 158.76,412.10 159.05,413.29 159.35,412.91 159.64,411.45 159.94,412.01 160.23,412.14 160.52,411.14 160.82,411.48 161.11,412.54 161.40,412.55 161.70,413.41 161.99,412.12 162.29,411.01 162.58,409.81 162.87,408.30 163.17,407.00 163.46,405.81 163.76,404.42 164.05,404.02 164.34,404.60 164.64,404.63 164.93,405.53 165.22,406.51 165.52,407.77 165.81,408.61 166.11,408.34 166.40,409.68 166.69,410.24 166.99,410.14 167.28,410.37 167.58,410.71 167.87,411.31 168.16,410.50 168.46,408.15 168.75,405.45 169.05,404.67 169.34,403.89 169.63,402.61 169.93,401.87 170.22,403.01 170.51,406.92 170.81,407.94 171.10,411.29 171.40,412.31 171.69,412.98 171.98,413.79 172.28,412.91 172.57,414.56 172.87,415.86 173.16,417.25 173.45,418.44 173.75,420.79 174.04,421.31 174.33,420.38 174.63,419.78 174.92,419.31 175.22,419.91 175.51,419.63 175.80,420.26 176.10,421.70 176.39,421.84 176.69,421.72 176.98,423.00 177.27,424.25 177.57,425.07 177.86,424.31 178.15,423.83 178.45,422.68 178.74,421.21 179.04,420.98 179.33,419.03 179.62,418.23 179.92,418.07 180.21,416.78 180.51,417.21 180.80,416.87 181.09,417.11 181.39,416.21 181.68,414.80 181.97,414.15 182.27,412.37 182.56,412.59 182.86,413.00 183.15,412.49 183.44,412.92 183.74,412.41 184.03,411.80 184.33,410.74 184.62,408.80 184.91,406.86 185.21,406.26 185.50,405.85 185.80,407.68 186.09,406.26 186.38,406.96 186.68,407.47 186.97,405.55 187.26,404.42 187.56,402.36 187.85,400.44 188.15,401.30 188.44,402.49 188.73,405.41 189.03,407.37 189.32,406.86 189.62,406.79 189.91,405.76 190.20,405.91 190.50,407.45 190.79,408.20 191.08,410.02 191.38,412.89 191.67,416.96 191.97,420.91 192.26,423.26 192.55,425.24 192.85,425.69 193.14,426.12 193.44,424.78 193.73,426.97 194.02,430.27 194.32,428.15 194.61,425.78 194.90,423.02 195.20,418.60 195.49,415.14 195.79,409.37 196.08,398.04 196.37,386.05 196.67,376.92 196.96,364.46 197.26,351.93 197.55,338.52 197.84,324.81 198.14,310.43 198.43,314.13 198.73,323.37 199.02,332.16 199.31,342.83 199.61,353.45 199.90,360.98 200.19,368.73 200.49,376.24 200.78,382.56 201.08,384.67 201.37,381.82 201.66,381.12 201.96,379.13 202.25,379.33 202.55,380.91 202.84,382.79 203.13,386.10 203.43,388.61 203.72,391.14 204.01,393.30 204.31,394.63 204.60,396.62 204.90,398.75 205.19,399.50 205.48,400.79 205.78,401.78 206.07,401.24 206.37,400.45 206.66,399.39 206.95,399.22 207.25,398.63 207.54,400.70 207.83,402.42 208.13,404.71 208.42,406.27 208.72,406.78 209.01,405.83 209.30,405.44 209.60,404.67 209.89,405.42 210.19,405.80 210.48,409.18 210.77,410.05 211.07,409.87 211.36,409.05 211.66,407.73 211.95,407.68 212.24,408.17 212.54,409.16 212.83,409.63 213.12,411.25 213.42,412.50 213.71,414.60 214.01,416.25 214.30,416.28 214.59,417.59 214.89,418.67 215.18,418.85 215.48,421.34 215.77,421.74 216.06,423.64 216.36,423.84 216.65,426.64 216.94,428.71 217.24,430.84 217.53,432.66 217.83,432.57 218.12,433.91 218.41,434.91 218.71,433.69 219.00,434.77 219.30,436.62 219.59,438.22 219.88,440.71 220.18,443.80 220.47,446.96 220.76,448.54 221.06,446.96 221.35,443.19 221.65,441.36 221.94,438.59 222.23,435.79 222.53,434.69 222.82,432.72 223.12,430.60 223.41,428.76 223.70,427.42 224.00,428.61 224.29,426.48 224.59,426.16 224.88,425.16 225.17,424.58 225.47,424.27 225.76,424.32 226.05,426.59 226.35,427.31 226.64,428.88 226.94,429.51 227.23,428.84 227.52,429.29 227.82,427.89 228.11,426.63 228.41,427.54 228.70,427.68 228.99,427.71 229.29,427.71 229.58,426.81 229.87,425.04 230.17,425.37 230.46,423.81 230.76,423.29 231.05,423.76 231.34,425.59 231.64,425.51 231.93,424.68 232.23,423.68 232.52,422.30 232.81,421.00 233.11,420.42 233.40,419.03 233.69,419.69 233.99,422.19 234.28,421.70 234.58,423.79 234.87,424.63 235.16,424.82 235.46,426.31 235.75,426.68 236.05,427.98 236.34,426.18 236.63,428.99 236.93,429.88 237.22,429.84 237.52,431.78 237.81,432.41 238.10,432.77 238.40,433.10 238.69,432.12 238.98,431.45 239.28,431.83 239.57,431.62 239.87,433.33 240.16,434.81 240.45,436.31 240.75,438.48 241.04,438.94 241.34,438.69 241.63,439.38 241.92,438.35 242.22,439.24 242.51,439.88 242.80,439.88 243.10,438.99 243.39,438.99 243.69,439.61 243.98,439.51 244.27,440.03 244.57,439.89 244.86,440.37 245.16,440.63 245.45,440.87 245.74,440.38 246.04,440.62 246.33,440.63 246.62,440.63 246.92,443.06 247.21,444.57 247.51,447.75 247.80,447.86 248.09,449.47 248.39,448.47 248.68,448.61 248.98,445.54 249.27,444.26 249.56,441.86 249.86,441.63 250.15,441.95 250.44,442.10 250.74,442.17 251.03,440.20 251.33,439.98 251.62,436.38 251.91,434.14 252.21,431.19 252.50,431.23 252.80,430.22 253.09,428.58 253.38,427.09 253.68,425.42 253.97,425.87 254.27,425.51 254.56,425.01 254.85,426.58 255.15,426.22 255.44,430.24 255.73,432.35 256.03,433.61 256.32,433.53 256.62,434.08 256.91,433.47 257.20,434.24 257.50,433.40 257.79,433.38 258.09,434.52 258.38,435.89 258.67,437.68 258.97,439.26 259.26,439.67 259.55,440.79 259.85,441.40 260.14,439.96 260.44,438.65 260.73,438.24 261.02,438.37 261.32,440.43 261.61,441.85 261.91,443.12 262.20,444.39 262.49,444.48 262.79,443.60 263.08,444.97 263.37,443.29 263.67,442.23 263.96,444.18 264.26,444.36 264.55,446.20 264.84,447.21 265.14,448.84 265.43,449.44 265.73,449.37 266.02,449.34 266.31,447.50 266.61,446.27 266.90,449.27 267.20,449.87 267.49,451.43 267.78,452.04 268.08,453.09 268.37,452.90 268.66,449.66 268.96,448.85 269.25,446.47 269.55,442.69 269.84,441.25 270.13,439.58 270.43,438.02 270.72,437.29 271.02,436.27 271.31,433.38 271.60,431.27 271.90,427.78 272.19,427.09 272.48,426.54 272.78,425.76 273.07,425.34 273.37,424.30 273.66,421.81 273.95,419.18 274.25,417.74 274.54,417.69 274.84,418.99 275.13,419.33 275.42,420.81 275.72,422.33 276.01,421.91 276.30,421.78 276.60,422.35 276.89,423.34 277.19,423.45 277.48,424.56 277.77,426.22 278.07,426.68 278.36,429.14 278.66,430.29 278.95,431.21 279.24,429.59 279.54,430.80 279.83,427.66 280.13,427.99 280.42,429.02 280.71,432.31 281.01,433.67 281.30,437.02 281.59,439.31 281.89,437.11 282.18,435.56 282.48,436.06 282.77,435.75 283.06,435.63 283.36,436.11 283.65,439.51 283.95,439.73 284.24,439.92 284.53,440.27 284.83,440.26 285.12,439.58 285.41,439.17 285.71,442.38 286.00,441.28 286.30,440.88 286.59,442.56 286.88,442.33 287.18,444.89 287.47,445.33 287.77,446.46 288.06,444.93 288.35,444.83 288.65,444.31 288.94,444.50 289.23,445.44 289.53,446.30 289.82,446.54 290.12,448.13 290.41,447.84 290.70,448.10 291.00,448.65 291.29,448.47 291.59,448.07 291.88,447.73 292.17,447.98 292.47,447.30 292.76,447.99 293.06,446.54 293.35,445.41 293.64,448.60 293.94,451.17 294.23,448.68 294.52,447.04 294.82,445.19 295.11,444.21 295.41,441.81 295.70,441.96 295.99,442.00 296.29,441.80 296.58,443.32 296.88,441.74 297.17,439.95 297.46,440.02 297.76,439.10 298.05,439.04 298.34,439.37 298.64,440.23 298.93,439.55 299.23,433.96 299.52,422.23 299.81,410.31 300.11,397.99 300.40,387.85 300.70,383.96 300.99,379.18 301.28,375.62 301.58,370.02 301.87,367.48 302.16,367.83 302.46,370.27 302.75,372.77 303.05,374.31 303.34,377.39 303.63,380.44 303.93,384.42 304.22,387.38 304.52,391.64 304.81,396.05 305.10,398.49 305.40,400.25 305.69,400.85 305.98,402.28 306.28,405.55 306.57,409.37 306.87,411.88 307.16,415.91 307.45,417.11 307.75,418.69 308.04,420.88 308.34,420.13 308.63,421.45 308.92,421.10 309.22,421.73 309.51,421.70 309.81,423.23 310.10,420.80 310.39,419.36 310.69,417.95 310.98,416.69 311.27,415.28 311.57,411.71 311.86,408.34 312.16,403.68 312.45,397.84 312.74,395.56 313.04,392.75 313.33,388.64 313.63,385.66 313.92,380.88 314.21,375.12 314.51,370.08 314.80,365.93 315.09,360.70 315.39,355.41 315.68,350.56 315.98,346.12 316.27,343.21 316.56,339.18 316.86,335.78 317.15,331.02 317.45,325.06 317.74,320.47 318.03,315.08 318.33,308.66 318.62,306.36 318.91,300.83 319.21,300.17 319.50,299.36 319.80,296.05 320.09,298.34 320.38,303.16 320.68,307.29 320.97,312.97 321.27,317.70 321.56,323.01 321.85,329.19 322.15,333.99 322.44,339.27 322.74,342.65 323.03,344.46 323.32,345.86 323.62,345.83 323.91,346.83 324.20,349.71 324.50,351.89 324.79,354.68 325.09,358.69 325.38,362.16 325.67,367.68 325.97,373.74 326.26,377.80 326.56,383.76 326.85,390.15 327.14,391.63 327.44,392.40 327.73,395.95 328.02,400.79 328.32,405.59 328.61,408.88 328.91,413.02 329.20,411.46 329.49,411.49 329.79,414.40 330.08,415.49 330.38,418.56 330.67,419.78 330.96,423.61 331.26,424.26 331.55,425.10 331.84,424.54 332.14,422.59 332.43,419.31 332.73,414.07 333.02,409.82 333.31,407.06 333.61,403.79 333.90,398.20 334.20,391.81 334.49,385.45 334.78,377.14 335.08,369.03 335.37,360.60 335.67,354.01 335.96,347.60 336.25,342.05 336.55,336.89 336.84,336.79 337.13,342.25 337.43,345.68 337.72,349.02 338.02,352.53 338.31,355.57 338.60,359.57 338.90,363.41 339.19,366.40 339.49,371.36 339.78,373.75 340.07,377.42 340.37,379.36 340.66,382.59 340.95,385.16 341.25,386.05 341.54,390.48 341.84,393.49 342.13,396.29 342.42,399.94 342.72,402.71 343.01,405.90 343.31,406.41 343.60,408.39 343.89,409.34 344.19,410.48 344.48,410.82 344.77,415.35 345.07,418.69 345.36,420.92 345.66,423.07 345.95,423.05 346.24,423.59 346.54,423.74 346.83,423.49 347.13,423.48 347.42,424.34 347.71,424.78 348.01,425.53 348.30,424.50 348.60,422.25 348.89,420.09 349.18,418.80 349.48,418.03 349.77,415.89 350.06,414.09 350.36,412.31 350.65,411.88 350.95,410.11 351.24,408.51 351.53,406.56 351.83,404.54 352.12,403.66 352.42,404.01 352.71,403.77 353.00,404.55 353.30,405.69 353.59,407.47 353.88,409.75 354.18,411.14 354.47,413.14 354.77,412.09 355.06,410.80 355.35,410.77 355.65,411.77 355.94,412.06 356.24,412.91 356.53,415.60 356.82,417.08 357.12,417.50 357.41,420.37 357.70,421.49 358.00,423.55 358.29,424.50 358.59,425.37 358.88,426.02 359.17,425.93 359.47,427.99 359.76,429.77 360.06,431.72 360.35,433.69 360.64,437.82 360.94,438.39 361.23,438.52 361.53,438.92 361.82,438.67 362.11,437.42 362.41,440.26 362.70,442.18 362.99,443.04 363.29,444.66 363.58,445.61 363.88,445.01 364.17,444.98 364.46,445.45 364.76,444.88 365.05,445.53 365.35,446.52 365.64,447.01 365.93,446.62 366.23,447.11 366.52,446.89 366.81,447.35 367.11,447.26 367.40,445.96 367.70,445.82 367.99,444.90 368.28,444.51 368.58,443.72 368.87,442.92 369.17,444.47 369.46,445.01 369.75,444.77 370.05,445.00 370.34,444.91 370.63,443.68 370.93,442.41 371.22,441.99 371.52,439.87 371.81,439.22 372.10,439.99 372.40,439.48 372.69,439.80 372.99,443.14 373.28,443.95 373.57,445.92 373.87,446.42 374.16,445.88 374.45,446.66 374.75,446.97 375.04,447.09 375.34,447.21 375.63,446.92 375.92,446.83 376.22,445.84 376.51,443.94 376.81,443.63 377.10,443.65 377.39,442.57 377.69,442.24 377.98,444.99 378.28,447.21 378.57,447.94 378.86,450.26 379.16,449.47 379.45,450.63 379.74,450.20 380.04,451.50 380.33,446.52 380.63,445.59 380.92,442.98 381.21,442.56 381.51,441.59 381.80,441.53 382.10,438.06 382.39,434.37 382.68,430.69 382.98,426.46 383.27,422.62 383.56,420.65 383.86,417.81 384.15,413.73 384.45,409.58 384.74,405.88 385.03,401.97 385.33,397.09 385.62,395.76 385.92,394.14 386.21,391.70 386.50,389.62 386.80,389.00 387.09,388.87 387.38,387.76 387.68,390.67 387.97,394.86 388.27,397.01 388.56,400.75 388.85,402.47 389.15,404.20 389.44,403.25 389.74,397.94 390.03,394.90 390.32,391.66 390.62,389.05 390.91,386.25 391.21,381.79 391.50,374.24 391.79,367.95 392.09,360.40 392.38,354.96 392.67,356.34 392.97,362.36 393.26,369.50 393.56,373.67 393.85,377.90 394.14,382.22 394.44,382.62 394.73,383.48 395.03,382.96 395.32,384.37 395.61,384.83 395.91,387.98 396.20,389.60 396.49,386.76 396.79,384.17 397.08,381.34 397.38,376.48 397.67,373.28 397.96,370.77 398.26,369.59 398.55,368.35 398.85,366.29 399.14,366.80 399.43,364.58 399.73,362.74 400.02,361.05 400.31,359.42 400.61,358.35 400.90,361.33 401.20,363.54 401.49,366.38 401.78,368.85 402.08,372.34 402.37,378.71 402.67,382.68 402.96,388.58 403.25,393.59 403.55,397.54 403.84,399.07 404.14,402.32 404.43,405.20 404.72,407.85 405.02,408.40 405.31,406.31 405.60,402.86 405.90,400.15 406.19,396.29 406.49,395.03 406.78,389.83 407.07,386.85 407.37,382.45 407.66,378.38 407.96,377.44 408.25,376.99 408.54,376.44 408.84,376.28 409.13,374.67 409.42,375.44 409.72,379.34 410.01,384.63 410.31,388.33 410.60,385.77 410.89,384.44 411.19,380.89 411.48,377.89 411.78,377.31 412.07,381.89 412.36,386.12 412.66,388.26 412.95,391.93 413.24,388.49 413.54,385.32 413.83,382.49 414.13,380.24 414.42,377.95 414.71,374.82 415.01,371.97 415.30,374.19 415.60,378.37 415.89,381.67 416.18,384.99 416.48,386.77 416.77,389.36 417.07,390.66 417.36,392.90 417.65,396.05 417.95,398.76 418.24,402.13 418.53,404.93 418.83,406.78 419.12,406.02 419.42,405.24 419.71,405.59 420.00,407.09 420.30,406.85 420.59,405.96 420.89,403.61 421.18,400.96 421.47,399.50 421.77,397.91 422.06,398.73 422.35,399.27 422.65,399.86 422.94,401.32 423.24,402.07 423.53,401.95 423.82,399.10 424.12,397.32 424.41,394.06 424.71,393.84 425.00,395.02 425.29,397.74 425.59,399.78 425.88,403.10 426.17,405.26 426.47,409.09 426.76,412.44 427.06,411.55 427.35,411.56 427.64,412.74 427.94,413.09 428.23,415.05 428.53,416.68 428.82,417.94 429.11,419.09 429.41,420.81 429.70,422.52 429.99,423.29 430.29,424.10 430.58,425.24 430.88,425.46 431.17,426.74 431.46,429.65 431.76,430.92 432.05,433.27 432.35,435.55 432.64,436.65 432.93,437.88 433.23,438.97 433.52,438.59 433.82,437.24 434.11,437.05 434.40,439.17 434.70,441.58 434.99,442.06 435.28,441.71 435.58,444.93 435.87,447.10 436.17,447.04 436.46,446.75 436.75,446.99 437.05,446.21 437.34,447.18 437.64,448.53 437.93,449.72 438.22,450.59 438.52,453.24 438.81,454.62 439.10,454.33 439.40,455.71 439.69,455.85 439.99,454.97 440.28,456.66 440.57,456.90 440.87,457.11 441.16,457.92 441.46,458.51 441.75,459.46 442.04,460.84 442.34,462.03 442.63,462.10 442.92,461.83 443.22,461.74 443.51,459.35 443.81,459.61 444.10,458.27 444.39,455.79 444.69,457.06 444.98,456.08 445.28,456.74 445.57,456.74 445.86,453.20 446.16,450.92 446.45,449.20 446.75,446.05 447.04,446.57 447.33,446.59 447.63,447.27 447.92,446.18 448.21,447.45 448.51,445.68 448.80,442.68 449.10,442.08 449.39,439.08 449.68,439.32 449.98,438.32 450.27,439.08 450.57,439.25 450.86,436.88 451.15,434.51 451.45,432.54 451.74,429.09 452.03,426.74 452.33,424.44 452.62,420.98 452.92,418.27 453.21,414.81 453.50,412.72 453.80,410.25 454.09,408.26 454.39,405.17 454.68,403.87 454.97,402.15 455.27,401.33 455.56,399.11 455.85,399.96 456.15,401.64 456.44,402.10 456.74,405.62 457.03,407.49 457.32,408.15 457.62,408.32 457.91,409.72 458.21,412.74 458.50,412.06 458.79,411.03 459.09,414.56 459.38,414.79 459.68,417.54 459.97,419.51 460.26,419.18 460.56,420.38 460.85,420.72 461.14,421.69 461.44,422.40 461.73,423.88 462.03,425.07 462.32,425.66 462.61,426.03 462.91,425.94 463.20,426.85 463.50,428.33 463.79,430.76 464.08,432.73 464.38,433.59 464.67,433.31 464.96,433.54 465.26,431.58 465.55,431.08 465.85,431.76 466.14,431.50 466.43,431.86 466.73,432.90 467.02,435.06 467.32,432.62 467.61,435.43 467.90,435.29 468.20,434.50 468.49,434.77 468.78,435.26 469.08,437.41 469.37,436.76 469.67,437.57 469.96,438.75 470.25,439.18 470.55,439.54 470.84,440.14 471.14,440.35 471.43,441.41 471.72,439.34 472.02,439.09 472.31,441.24 472.61,441.52 472.90,441.60 473.19,441.39 473.49,443.66 473.78,443.96 474.07,444.83 474.37,446.97 474.66,448.23 474.96,447.82 475.25,448.22 475.54,446.54 475.84,444.96 476.13,443.92 476.43,443.99 476.72,444.02 477.01,444.48 477.31,444.17 477.60,445.38 477.89,443.36 478.19,442.58 478.48,441.28 478.78,440.34 479.07,441.05 479.36,440.26 479.66,441.25 479.95,439.27 480.25,438.09 480.54,436.60 480.83,438.30 481.13,437.99 481.42,437.02 481.71,436.84 482.01,436.34 482.30,435.53 482.60,435.21 482.89,436.20 483.18,437.56 483.48,436.34 483.77,437.30 484.07,436.43 484.36,434.21 484.65,435.73 484.95,437.45 485.24,438.31 485.54,437.71 485.83,436.01 486.12,434.94 486.42,434.16 486.71,432.63 487.00,431.40 487.30,431.13 487.59,431.01 487.89,431.12 488.18,432.79 488.47,434.82 488.77,435.62 489.06,435.60 489.36,436.59 489.65,435.48 489.94,436.19 490.24,435.44 490.53,436.09 490.82,435.82 491.12,437.10 491.41,436.30 491.71,437.62 492.00,438.94" fill="none" stroke="#000" stroke-width="1.0" stroke-linejoin="round"/><path d="M51.50,428.91 51.79,429.39 52.09,428.97 52.38,429.28 52.68,431.24 52.97,428.10 53.26,429.34 53.56,428.31 53.85,427.24 54.14,426.69 54.44,425.31 54.73,426.57 55.03,425.60 55.32,422.98 55.61,422.36 55.91,423.55 56.20,427.86 56.50,424.95 56.79,422.61 57.08,423.51 57.38,424.34 57.67,426.27 57.96,426.50 58.26,427.05 58.55,428.31 58.85,427.99 59.14,429.46 59.43,427.95 59.73,426.94 60.02,427.78 60.32,427.73 60.61,430.23 60.90,428.90 61.20,428.52 61.49,430.94 61.79,433.85 62.08,433.82 62.37,435.40 62.67,434.74 62.96,430.80 63.25,431.65 63.55,433.39 63.84,432.35 64.14,434.29 64.43,434.61 64.72,436.13 65.02,435.58 65.31,436.86 65.61,438.45 65.90,436.80 66.19,435.10 66.49,435.89 66.78,435.06 67.07,436.36 67.37,437.64 67.66,436.77 67.96,438.11 68.25,439.84 68.54,440.11 68.84,441.17 69.13,441.07 69.43,440.72 69.72,440.86 70.01,441.67 70.31,441.11 70.60,443.98 70.89,444.78 71.19,441.88 71.48,442.80 71.78,441.84 72.07,444.43 72.36,445.47 72.66,444.42 72.95,446.88 73.25,444.98 73.54,444.94 73.83,445.65 74.13,444.66 74.42,444.51 74.72,443.90 75.01,444.91 75.30,445.58 75.60,445.02 75.89,445.61 76.18,443.75 76.48,441.45 76.77,439.89 77.07,440.27 77.36,438.74 77.65,438.53 77.95,437.02 78.24,437.37 78.54,439.07 78.83,438.61 79.12,438.06 79.42,436.80 79.71,435.69 80.00,434.14 80.30,431.65 80.59,433.36 80.89,433.31 81.18,432.98 81.47,434.44 81.77,434.80 82.06,432.95 82.36,433.66 82.65,430.54 82.94,428.46 83.24,427.59 83.53,427.47 83.82,428.38 84.12,431.41 84.41,429.88 84.71,430.46 85.00,429.50 85.29,429.45 85.59,428.71 85.88,428.49 86.18,428.57 86.47,428.62 86.76,429.22 87.06,428.83 87.35,427.35 87.65,424.09 87.94,423.22 88.23,421.24 88.53,419.31 88.82,419.36 89.11,417.65 89.41,417.89 89.70,416.30 90.00,415.52 90.29,413.20 90.58,409.60 90.88,407.48 91.17,408.08 91.47,406.95 91.76,407.25 92.05,405.87 92.35,404.77 92.64,406.94 92.93,404.97 93.23,402.21 93.52,401.01 93.82,400.33 94.11,399.13 94.40,400.61 94.70,397.23 94.99,398.61 95.29,399.63 95.58,400.99 95.87,399.51 96.17,396.52 96.46,394.78 96.75,394.90 97.05,392.60 97.34,393.57 97.64,393.45 97.93,394.54 98.22,398.85 98.52,401.49 98.81,402.30 99.11,402.02 99.40,402.71 99.69,401.13 99.99,403.34 100.28,403.45 100.58,402.94 100.87,402.56 101.16,402.72 101.46,403.59 101.75,406.61 102.04,409.37 102.34,409.91 102.63,408.95 102.93,407.71 103.22,407.71 103.51,407.28 103.81,405.41 104.10,405.90 104.40,405.51 104.69,405.88 104.98,403.60 105.28,404.87 105.57,403.19 105.86,404.05 106.16,404.72 106.45,405.63 106.75,406.81 107.04,408.11 107.33,409.46 107.63,408.38 107.92,407.60 108.22,404.72 108.51,404.10 108.80,403.38 109.10,404.76 109.39,405.71 109.68,406.18 109.98,407.07 110.27,401.37 110.57,396.12 110.86,391.33 111.15,386.03 111.45,381.28 111.74,377.72 112.04,373.92 112.33,367.43 112.62,362.34 112.92,362.54 113.21,363.65 113.51,362.07 113.80,358.26 114.09,355.56 114.39,352.39 114.68,347.23 114.97,345.05 115.27,341.28 115.56,338.89 115.86,336.48 116.15,332.80 116.44,327.13 116.74,320.71 117.03,317.71 117.33,314.71 117.62,311.99 117.91,314.77 118.21,314.54 118.50,317.28 118.79,318.53 119.09,316.77 119.38,312.57 119.68,309.35 119.97,305.52 120.26,303.11 120.56,303.57 120.85,306.25 121.15,310.42 121.44,313.00 121.73,315.64 122.03,320.64 122.32,324.08 122.61,327.68 122.91,331.13 123.20,335.34 123.50,339.21 123.79,342.61 124.08,343.77 124.38,348.27 124.67,351.67 124.97,353.50 125.26,356.23 125.55,351.81 125.85,350.10 126.14,347.55 126.43,344.97 126.73,343.55 127.02,343.62 127.32,345.59 127.61,348.83 127.90,350.41 128.20,351.23 128.49,351.24 128.79,350.78 129.08,347.50 129.37,344.64 129.67,340.61 129.96,339.46 130.26,338.78 130.55,337.01 130.84,337.73 131.14,338.43 131.43,338.57 131.72,339.30 132.02,338.99 132.31,341.82 132.61,340.81 132.90,339.84 133.19,336.69 133.49,334.60 133.78,334.36 134.08,334.45 134.37,332.90 134.66,332.54 134.96,333.35 135.25,331.94 135.54,332.93 135.84,334.94 136.13,336.25 136.43,339.58 136.72,340.05 137.01,341.15 137.31,344.66 137.60,346.65 137.90,348.10 138.19,348.44 138.48,350.57 138.78,351.38 139.07,352.51 139.36,355.28 139.66,357.18 139.95,360.61 140.25,363.04 140.54,365.81 140.83,367.02 141.13,366.57 141.42,368.25 141.72,372.60 142.01,374.16 142.30,376.83 142.60,378.67 142.89,378.05 143.19,378.80 143.48,378.32 143.77,377.95 144.07,379.00 144.36,379.65 144.65,381.05 144.95,381.40 145.24,384.48 145.54,385.02 145.83,383.99 146.12,385.00 146.42,386.39 146.71,387.23 147.01,386.91 147.30,390.04 147.59,390.56 147.89,392.05 148.18,393.15 148.47,394.97 148.77,395.79 149.06,398.08 149.36,400.61 149.65,401.32 149.94,402.61 150.24,403.43 150.53,404.75 150.83,405.56 151.12,404.45 151.41,404.59 151.71,403.96 152.00,405.02 152.29,405.40 152.59,408.56 152.88,408.53 153.18,410.67 153.47,410.85 153.76,412.31 154.06,409.93 154.35,409.42 154.65,406.89 154.94,407.78 155.23,408.70 155.53,408.59 155.82,409.93 156.12,410.47 156.41,411.01 156.70,411.49 157.00,409.84 157.29,410.74 157.58,411.05 157.88,412.18 158.17,411.11 158.47,411.39 158.76,412.45 159.05,412.40 159.35,409.54 159.64,412.27 159.94,411.63 160.23,410.91 160.52,413.05 160.82,412.89 161.11,413.21 161.40,412.36 161.70,413.53 161.99,413.08 162.29,412.77 162.58,410.64 162.87,409.18 163.17,409.19 163.46,408.96 163.76,408.88 164.05,406.55 164.34,406.04 164.64,404.36 164.93,404.43 165.22,403.62 165.52,404.07 165.81,405.60 166.11,406.92 166.40,407.29 166.69,407.13 166.99,408.00 167.28,409.15 167.58,409.91 167.87,410.49 168.16,410.93 168.46,411.46 168.75,409.77 169.05,408.97 169.34,406.05 169.63,405.12 169.93,404.74 170.22,402.84 170.51,402.23 170.81,403.78 171.10,407.85 171.40,408.49 171.69,410.63 171.98,411.16 172.28,412.49 172.57,412.40 172.87,412.15 173.16,413.43 173.45,416.42 173.75,418.39 174.04,418.09 174.33,420.49 174.63,419.54 174.92,418.26 175.22,418.18 175.51,417.78 175.80,418.85 176.10,419.52 176.39,420.59 176.69,421.57 176.98,422.32 177.27,420.91 177.57,423.07 177.86,424.20 178.15,424.56 178.45,425.22 178.74,424.80 179.04,422.67 179.33,421.94 179.62,420.32 179.92,416.77 180.21,415.78 180.51,416.79 180.80,415.81 181.09,415.51 181.39,415.97 181.68,416.79 181.97,417.17 182.27,416.29 182.56,415.87 182.86,414.07 183.15,413.52 183.44,414.74 183.74,414.20 184.03,413.95 184.33,414.15 184.62,414.33 184.91,410.66 185.21,409.14 185.50,407.04 185.80,406.46 186.09,406.13 186.38,409.31 186.68,407.16 186.97,408.57 187.26,409.39 187.56,408.22 187.85,405.07 188.15,404.36 188.44,403.36 188.73,404.72 189.03,405.97 189.32,407.20 189.62,406.76 189.91,405.95 190.20,406.10 190.50,404.68 190.79,404.72 191.08,407.43 191.38,409.81 191.67,412.85 191.97,413.28 192.26,415.84 192.55,418.36 192.85,419.39 193.14,420.38 193.44,420.76 193.73,420.91 194.02,419.32 194.32,422.88 194.61,424.69 194.90,424.93 195.20,422.59 195.49,420.65 195.79,416.44 196.08,411.68 196.37,403.96 196.67,391.70 196.96,383.75 197.26,377.50 197.55,368.69 197.84,358.42 198.14,348.02 198.43,338.25 198.73,326.44 199.02,329.66 199.31,335.10 199.61,341.29 199.90,348.76 200.19,354.95 200.49,361.16 200.78,367.75 201.08,374.27 201.37,378.40 201.66,381.19 201.96,378.77 202.25,378.69 202.55,378.71 202.84,379.00 203.13,381.80 203.43,384.09 203.72,388.42 204.01,389.59 204.31,391.66 204.60,393.48 204.90,395.18 205.19,398.82 205.48,401.55 205.78,400.65 206.07,400.31 206.37,402.28 206.66,401.68 206.95,402.07 207.25,401.82 207.54,401.67 207.83,401.39 208.13,403.38 208.42,404.88 208.72,406.24 209.01,406.25 209.30,406.59 209.60,406.92 209.89,405.68 210.19,404.52 210.48,406.84 210.77,407.38 211.07,406.82 211.36,403.87 211.66,407.01 211.95,407.66 212.24,408.41 212.54,409.38 212.83,408.57 213.12,407.50 213.42,408.49 213.71,409.93 214.01,411.72 214.30,414.14 214.59,417.11 214.89,419.00 215.18,419.91 215.48,419.67 215.77,421.25 216.06,422.02 216.36,422.22 216.65,422.28 216.94,421.44 217.24,424.83 217.53,427.61 217.83,432.03 218.12,431.74 218.41,432.69 218.71,434.64 219.00,434.57 219.30,433.39 219.59,434.07 219.88,435.66 220.18,438.04 220.47,439.90 220.76,442.62 221.06,445.36 221.35,445.39 221.65,444.45 221.94,439.87 222.23,437.09 222.53,435.70 222.82,433.19 223.12,433.29 223.41,432.33 223.70,430.56 224.00,429.84 224.29,427.54 224.59,428.18 224.88,424.47 225.17,425.70 225.47,425.40 225.76,425.60 226.05,425.10 226.35,424.73 226.64,425.81 226.94,426.32 227.23,428.59 227.52,427.34 227.82,427.09 228.11,428.64 228.41,426.64 228.70,426.35 228.99,425.37 229.29,426.71 229.58,427.17 229.87,428.06 230.17,427.66 230.46,427.51 230.76,428.51 231.05,426.33 231.34,423.66 231.64,424.76 231.93,425.40 232.23,425.09 232.52,424.51 232.81,425.60 233.11,422.81 233.40,422.56 233.69,422.51 233.99,420.38 234.28,421.85 234.58,423.51 234.87,424.25 235.16,425.53 235.46,425.31 235.75,423.72 236.05,422.67 236.34,426.20 236.63,428.18 236.93,427.75 237.22,430.27 237.52,430.12 237.81,429.41 238.10,431.88 238.40,431.14 238.69,431.36 238.98,431.98 239.28,429.77 239.57,430.58 239.87,431.27 240.16,431.22 240.45,432.54 240.75,434.20 241.04,435.33 241.34,437.27 241.63,437.49 241.92,438.76 242.22,438.51 242.51,437.79 242.80,439.27 243.10,438.81 243.39,439.00 243.69,438.21 243.98,438.70 244.27,439.81 244.57,439.33 244.86,440.44 245.16,439.51 245.45,440.85 245.74,440.83 246.04,441.16 246.33,440.31 246.62,440.52 246.92,440.83 247.21,439.93 247.51,443.40 247.80,444.55 248.09,448.09 248.39,446.59 248.68,446.85 248.98,446.73 249.27,446.42 249.56,443.16 249.86,442.06 250.15,441.08 250.44,442.50 250.74,443.77 251.03,442.47 251.33,442.70 251.62,439.23 251.91,441.39 252.21,438.04 252.50,436.59 252.80,432.51 253.09,430.60 253.38,430.44 253.68,429.95 253.97,428.79 254.27,427.33 254.56,428.72 254.85,429.50 255.15,429.88 255.44,430.02 255.73,430.43 256.03,433.79 256.32,433.31 256.62,434.96 256.91,433.15 257.20,433.42 257.50,432.78 257.79,434.57 258.09,433.50 258.38,433.16 258.67,434.05 258.97,434.73 259.26,437.11 259.55,438.48 259.85,438.55 260.14,438.05 260.44,440.43 260.73,439.39 261.02,438.61 261.32,437.09 261.61,437.57 261.91,438.70 262.20,440.98 262.49,442.17 262.79,444.86 263.08,445.16 263.37,443.48 263.67,443.46 263.96,440.09 264.26,441.87 264.55,443.77 264.84,445.07 265.14,446.88 265.43,446.99 265.73,448.73 266.02,448.11 266.31,446.94 266.61,446.89 266.90,445.22 267.20,444.18 267.49,447.56 267.78,449.54 268.08,449.11 268.37,450.56 268.66,449.86 268.96,449.85 269.25,448.65 269.55,448.16 269.84,447.04 270.13,441.11 270.43,436.93 270.72,436.58 271.02,435.71 271.31,436.51 271.60,436.12 271.90,435.16 272.19,433.55 272.48,430.35 272.78,429.08 273.07,428.06 273.37,426.92 273.66,428.52 273.95,428.34 274.25,427.09 274.54,424.72 274.84,421.42 275.13,420.44 275.42,420.96 275.72,420.79 276.01,422.16 276.30,423.40 276.60,424.65 276.89,425.15 277.19,425.26 277.48,425.43 277.77,425.00 278.07,425.18 278.36,426.09 278.66,426.66 278.95,428.63 279.24,429.87 279.54,430.31 279.83,429.04 280.13,430.69 280.42,428.16 280.71,427.99 281.01,428.00 281.30,430.82 281.59,433.64 281.89,435.19 282.18,437.88 282.48,437.44 282.77,435.94 283.06,437.35 283.36,438.17 283.65,438.18 283.95,437.45 284.24,440.18 284.53,438.71 284.83,438.77 285.12,440.73 285.41,440.37 285.71,440.50 286.00,439.82 286.30,443.26 286.59,441.04 286.88,439.25 287.18,440.00 287.47,441.40 287.77,445.44 288.06,445.27 288.35,445.12 288.65,443.12 288.94,441.59 289.23,442.87 289.53,443.69 289.82,444.68 290.12,445.43 290.41,447.81 290.70,449.19 291.00,450.28 291.29,450.62 291.59,448.99 291.88,446.73 292.17,445.83 292.47,445.87 292.76,445.68 293.06,444.75 293.35,446.44 293.64,444.37 293.94,444.36 294.23,445.70 294.52,447.93 294.82,445.52 295.11,444.48 295.41,442.94 295.70,440.52 295.99,438.98 296.29,438.85 296.58,438.55 296.88,438.13 297.17,439.43 297.46,436.58 297.76,435.43 298.05,434.40 298.34,432.90 298.64,431.86 298.93,431.90 299.23,433.50 299.52,434.83 299.81,432.00 300.11,423.25 300.40,412.74 300.70,401.05 300.99,392.65 301.28,387.75 301.58,383.66 301.87,381.18 302.16,376.03 302.46,374.42 302.75,375.01 303.05,377.30 303.34,379.71 303.63,381.89 303.93,383.81 304.22,385.58 304.52,388.69 304.81,389.62 305.10,393.08 305.40,397.10 305.69,399.73 305.98,401.71 306.28,402.48 306.57,404.45 306.87,405.68 307.16,408.77 307.45,411.07 307.75,414.21 308.04,415.42 308.34,417.52 308.63,419.00 308.92,416.83 309.22,417.58 309.51,417.13 309.81,417.73 310.10,417.81 310.39,419.62 310.69,416.05 310.98,413.18 311.27,411.17 311.57,409.30 311.86,407.91 312.16,405.08 312.45,401.26 312.74,398.69 313.04,393.52 313.33,391.74 313.63,389.47 313.92,385.43 314.21,382.40 314.51,379.04 314.80,373.59 315.09,370.24 315.39,364.74 315.68,358.96 315.98,354.46 316.27,349.28 316.56,344.72 316.86,341.49 317.15,338.94 317.45,338.13 317.74,332.76 318.03,328.37 318.33,323.69 318.62,318.85 318.91,315.14 319.21,312.16 319.50,308.31 319.80,307.17 320.09,305.97 320.38,303.75 320.68,304.73 320.97,308.00 321.27,311.95 321.56,317.05 321.85,321.83 322.15,326.82 322.44,332.69 322.74,337.20 323.03,341.58 323.32,345.02 323.62,345.15 323.91,348.08 324.20,348.34 324.50,349.92 324.79,352.75 325.09,353.99 325.38,356.60 325.67,358.68 325.97,361.32 326.26,367.00 326.56,374.35 326.85,377.96 327.14,383.36 327.44,388.38 327.73,390.85 328.02,392.34 328.32,394.81 328.61,399.76 328.91,404.13 329.20,407.39 329.49,410.69 329.79,409.70 330.08,408.50 330.38,410.53 330.67,410.60 330.96,413.34 331.26,413.79 331.55,417.06 331.84,417.65 332.14,417.87 332.43,417.32 332.73,415.84 333.02,413.11 333.31,407.71 333.61,403.04 333.90,401.34 334.20,399.78 334.49,394.87 334.78,390.55 335.08,385.61 335.37,379.67 335.67,372.61 335.96,366.19 336.25,360.64 336.55,356.00 336.84,351.35 337.13,345.70 337.43,344.06 337.72,348.03 338.02,351.22 338.31,354.21 338.60,356.05 338.90,357.34 339.19,362.07 339.49,365.70 339.78,369.93 340.07,374.34 340.37,376.64 340.66,379.05 340.95,381.48 341.25,384.23 341.54,386.16 341.84,388.01 342.13,389.97 342.42,392.51 342.72,394.21 343.01,397.70 343.31,399.30 343.60,402.40 343.89,402.68 344.19,406.50 344.48,408.38 344.77,408.60 345.07,408.87 345.36,412.01 345.66,414.70 345.95,416.30 346.24,418.89 346.54,420.94 346.83,424.22 347.13,422.13 347.42,421.94 347.71,420.61 348.01,419.38 348.30,421.04 348.60,423.43 348.89,423.98 349.18,420.76 349.48,418.81 349.77,415.23 350.06,414.78 350.36,414.51 350.65,413.53 350.95,412.12 351.24,413.69 351.53,411.50 351.83,410.47 352.12,410.48 352.42,407.47 352.71,406.46 353.00,407.39 353.30,408.10 353.59,407.33 353.88,409.04 354.18,410.96 354.47,413.76 354.77,414.90 355.06,417.24 355.35,413.97 355.65,412.46 355.94,412.09 356.24,410.15 356.53,413.24 356.82,414.40 357.12,417.37 357.41,418.16 357.70,419.60 358.00,422.27 358.29,422.87 358.59,425.57 358.88,425.18 359.17,427.01 359.47,427.13 359.76,428.74 360.06,430.97 360.35,432.26 360.64,434.62 360.94,435.06 361.23,437.36 361.53,437.99 361.82,439.22 362.11,439.63 362.41,440.37 362.70,440.12 362.99,442.21 363.29,443.70 363.58,443.57 363.88,444.32 364.17,445.98 364.46,444.90 364.76,444.65 365.05,445.07 365.35,443.30 365.64,444.35 365.93,445.27 366.23,446.50 366.52,446.24 366.81,446.80 367.11,447.30 367.40,446.52 367.70,447.46 367.99,446.36 368.28,445.64 368.58,443.79 368.87,443.79 369.17,443.79 369.46,443.38 369.75,443.30 370.05,444.49 370.34,444.81 370.63,444.69 370.93,446.01 371.22,445.12 371.52,443.30 371.81,444.18 372.10,440.80 372.40,439.53 372.69,441.09 372.99,443.28 373.28,444.01 373.57,447.42 373.87,446.65 374.16,448.10 374.45,447.93 374.75,447.41 375.04,446.42 375.34,447.22 375.63,446.90 375.92,445.53 376.22,446.01 376.51,447.07 376.81,446.39 377.10,444.91 377.39,444.17 377.69,444.52 377.98,442.32 378.28,442.22 378.57,444.47 378.86,443.96 379.16,445.10 379.45,446.65 379.74,446.96 380.04,448.01 380.33,448.38 380.63,446.92 380.92,443.71 381.21,441.59 381.51,439.78 381.80,438.62 382.10,437.85 382.39,438.25 382.68,434.57 382.98,431.51 383.27,428.64 383.56,424.77 383.86,422.50 384.15,419.45 384.45,415.77 384.74,413.40 385.03,409.57 385.33,407.20 385.62,404.52 385.92,400.95 386.21,398.76 386.50,397.40 386.80,393.42 387.09,390.76 387.38,392.58 387.68,394.00 387.97,390.97 388.27,391.66 388.56,393.53 388.85,394.32 389.15,398.22 389.44,401.28 389.74,403.04 390.03,401.88 390.32,397.57 390.62,395.15 390.91,393.22 391.21,389.54 391.50,386.66 391.79,383.25 392.09,374.89 392.38,368.49 392.67,362.77 392.97,359.06 393.26,361.71 393.56,367.89 393.85,372.80 394.14,376.77 394.44,379.07 394.73,382.82 395.03,382.55 395.32,381.58 395.61,380.00 395.91,378.66 396.20,382.42 396.49,386.64 396.79,385.44 397.08,381.62 397.38,381.31 397.67,378.82 397.96,375.87 398.26,373.95 398.55,373.64 398.85,372.21 399.14,372.84 399.43,371.22 399.73,370.64 400.02,369.25 400.31,366.88 400.61,365.64 400.90,363.48 401.20,361.93 401.49,365.86 401.78,367.31 402.08,372.26 402.37,373.36 402.67,375.62 402.96,381.52 403.25,383.73 403.55,388.77 403.84,391.30 404.14,395.45 404.43,396.15 404.72,397.04 405.02,400.30 405.31,401.77 405.60,402.98 405.90,401.53 406.19,399.82 406.49,396.56 406.78,392.09 407.07,392.67 407.37,389.77 407.66,388.88 407.96,385.75 408.25,382.32 408.54,380.54 408.84,380.04 409.13,378.84 409.42,377.88 409.72,376.65 410.01,378.81 410.31,380.84 410.60,384.91 410.89,386.46 411.19,384.46 411.48,382.39 411.78,379.95 412.07,378.51 412.36,378.14 412.66,381.55 412.95,385.68 413.24,386.89 413.54,388.93 413.83,386.51 414.13,383.06 414.42,380.40 414.71,380.17 415.01,379.28 415.30,377.10 415.60,375.24 415.89,377.21 416.18,381.44 416.48,383.48 416.77,385.34 417.07,387.58 417.36,387.74 417.65,389.73 417.95,391.83 418.24,395.36 418.53,397.02 418.83,399.34 419.12,399.14 419.42,403.56 419.71,403.63 420.00,403.82 420.30,402.05 420.59,401.49 420.89,403.08 421.18,404.75 421.47,404.33 421.77,402.04 422.06,401.38 422.35,399.42 422.65,400.11 422.94,401.93 423.24,402.54 423.53,403.75 423.82,405.39 424.12,405.60 424.41,401.66 424.71,400.72 425.00,398.25 425.29,396.88 425.59,398.37 425.88,400.59 426.17,401.55 426.47,405.28 426.76,407.18 427.06,409.89 427.35,413.43 427.64,411.28 427.94,411.69 428.23,411.74 428.53,410.46 428.82,412.50 429.11,415.04 429.41,416.50 429.70,418.13 429.99,419.22 430.29,421.01 430.58,422.28 430.88,424.13 431.17,424.89 431.46,425.42 431.76,427.43 432.05,429.20 432.35,429.79 432.64,433.16 432.93,433.79 433.23,435.57 433.52,437.73 433.82,438.64 434.11,438.80 434.40,438.67 434.70,438.23 434.99,439.32 435.28,441.50 435.58,442.93 435.87,443.54 436.17,446.10 436.46,449.44 436.75,450.46 437.05,448.80 437.34,447.93 437.64,446.52 437.93,446.24 438.22,448.22 438.52,450.62 438.81,451.39 439.10,454.24 439.40,455.99 439.69,455.35 439.99,455.60 440.28,454.97 440.57,453.55 440.87,455.21 441.16,456.00 441.46,457.74 441.75,457.84 442.04,458.96 442.34,459.65 442.63,461.15 442.92,459.85 443.22,461.81 443.51,460.94 443.81,459.71 444.10,459.28 444.39,458.64 444.69,456.46 444.98,454.46 445.28,455.14 445.57,454.37 445.86,455.10 446.16,454.97 446.45,453.50 446.75,450.43 447.04,449.88 447.33,446.49 447.63,445.64 447.92,446.38 448.21,445.63 448.51,444.15 448.80,444.91 449.10,443.70 449.39,442.11 449.68,440.86 449.98,438.23 450.27,439.30 450.57,438.45 450.86,440.05 451.15,439.83 451.45,437.77 451.74,434.96 452.03,432.58 452.33,428.45 452.62,426.64 452.92,424.99 453.21,420.73 453.50,419.51 453.80,415.78 454.09,413.36 454.39,410.67 454.68,410.68 454.97,408.83 455.27,408.83 455.56,406.42 455.85,406.62 456.15,403.16 456.44,404.55 456.74,406.01 457.03,406.29 457.32,408.30 457.62,410.63 457.91,408.92 458.21,408.37 458.50,410.62 458.79,414.89 459.09,414.05 459.38,413.08 459.68,416.12 459.97,416.70 460.26,418.82 460.56,421.24 460.85,421.06 461.14,422.26 461.44,421.38 461.73,422.17 462.03,422.27 462.32,424.07 462.61,423.28 462.91,424.13 463.20,425.24 463.50,426.17 463.79,427.07 464.08,428.93 464.38,431.82 464.67,432.40 464.96,431.86 465.26,433.28 465.55,435.90 465.85,433.32 466.14,432.36 466.43,433.33 466.73,433.29 467.02,432.43 467.32,431.41 467.61,433.95 467.90,433.78 468.20,436.81 468.49,437.56 468.78,436.62 469.08,436.66 469.37,438.31 469.67,439.13 469.96,438.95 470.25,439.93 470.55,441.20 470.84,442.09 471.14,441.87 471.43,442.56 471.72,442.15 472.02,442.72 472.31,440.36 472.61,440.86 472.90,442.92 473.19,442.43 473.49,442.35 473.78,441.08 474.07,442.34 474.37,442.19 474.66,442.34 474.96,445.95 475.25,448.13 475.54,447.79 475.84,448.58 476.13,446.24 476.43,445.72 476.72,444.31 477.01,442.76 477.31,444.17 477.60,444.08 477.89,444.54 478.19,446.55 478.48,442.54 478.78,442.10 479.07,439.87 479.36,440.68 479.66,441.22 479.95,441.22 480.25,443.05 480.54,441.66 480.83,439.15 481.13,437.36 481.42,438.38 481.71,438.98 482.01,436.86 482.30,436.45 482.60,435.73 482.89,434.38 483.18,435.08 483.48,436.22 483.77,437.28 484.07,439.04 484.36,438.55 484.65,436.63 484.95,434.07 485.24,434.62 485.54,435.91 485.83,437.44 486.12,438.09 486.42,436.53 486.71,436.00 487.00,434.43 487.30,432.67 487.59,432.93 487.89,433.04 488.18,432.51 488.47,433.37 488.77,434.50 489.06,434.32 489.36,434.39 489.65,432.84 489.94,434.80 490.24,434.57 490.53,433.25 490.82,433.31 491.12,435.94 491.41,436.78 491.71,438.88 492.00,438.88" fill="none" stroke="#d00000" stroke-width="0.8" stroke-linejoin="round"/><path d="M51.50,429.94 51.79,429.48 52.09,428.99 52.38,429.45 52.68,429.41 52.97,430.37 53.26,430.39 53.56,428.83 53.85,428.42 54.14,425.97 54.44,425.26 54.73,425.22 55.03,423.64 55.32,423.25 55.61,423.41 55.91,424.02 56.20,422.59 56.50,421.69 56.79,420.17 57.08,420.47 57.38,422.15 57.67,423.00 57.96,424.34 58.26,425.88 58.55,426.80 58.85,428.61 59.14,428.35 59.43,427.56 59.73,427.80 60.02,428.24 60.32,430.03 60.61,429.94 60.90,430.34 61.20,431.88 61.49,433.67 61.79,433.22 62.08,432.86 62.37,433.71 62.67,431.37 62.96,431.10 63.25,432.11 63.55,431.43 63.84,434.16 64.14,436.96 64.43,437.69 64.72,437.72 65.02,437.55 65.31,437.59 65.61,435.98 65.90,434.53 66.19,435.08 66.49,435.21 66.78,436.39 67.07,436.27 67.37,436.23 67.66,437.24 67.96,437.07 68.25,439.09 68.54,439.17 68.84,439.19 69.13,439.73 69.43,440.79 69.72,440.88 70.01,441.15 70.31,442.71 70.60,443.52 70.89,442.92 71.19,444.06 71.48,443.88 71.78,445.05 72.07,445.97 72.36,444.35 72.66,445.72 72.95,445.17 73.25,444.61 73.54,446.51 73.83,446.38 74.13,445.95 74.42,446.54 74.72,448.14 75.01,448.94 75.30,448.37 75.60,447.83 75.89,446.65 76.18,445.79 76.48,444.37 76.77,443.81 77.07,442.28 77.36,440.91 77.65,439.23 77.95,439.11 78.24,439.64 78.54,440.48 78.83,438.17 79.12,436.77 79.42,434.60 79.71,433.04 80.00,430.79 80.30,432.63 80.59,433.30 80.89,433.94 81.18,434.96 81.47,436.21 81.77,434.36 82.06,435.11 82.36,433.45 82.65,430.27 82.94,429.46 83.24,429.60 83.53,429.44 83.82,431.58 84.12,429.22 84.41,429.47 84.71,429.16 85.00,429.25 85.29,428.65 85.59,427.61 85.88,427.22 86.18,427.47 86.47,428.29 86.76,428.61 87.06,426.55 87.35,424.65 87.65,424.18 87.94,422.15 88.23,420.82 88.53,420.40 88.82,419.76 89.11,418.78 89.41,418.32 89.70,417.64 90.00,414.46 90.29,410.01 90.58,407.87 90.88,406.88 91.17,404.84 91.47,404.94 91.76,402.66 92.05,401.42 92.35,402.97 92.64,404.15 92.93,403.61 93.23,404.07 93.52,402.27 93.82,400.57 94.11,399.86 94.40,397.19 94.70,398.91 94.99,398.73 95.29,398.72 95.58,398.85 95.87,396.77 96.17,393.51 96.46,392.17 96.75,390.36 97.05,392.60 97.34,393.48 97.64,396.66 97.93,399.62 98.22,402.96 98.52,402.64 98.81,403.76 99.11,405.83 99.40,404.18 99.69,405.09 99.99,404.38 100.28,403.40 100.58,403.55 100.87,404.29 101.16,406.46 101.46,408.15 101.75,410.30 102.04,409.62 102.34,409.44 102.63,407.89 102.93,407.55 103.22,407.08 103.51,405.66 103.81,407.03 104.10,406.05 104.40,405.98 104.69,404.70 104.98,404.72 105.28,404.47 105.57,404.22 105.86,405.94 106.16,407.17 106.45,408.60 106.75,409.87 107.04,411.27 107.33,411.07 107.63,411.23 107.92,410.04 108.22,409.84 108.51,408.29 108.80,410.18 109.10,409.96 109.39,410.41 109.68,410.52 109.98,404.92 110.27,400.85 110.57,395.41 110.86,389.95 111.15,384.16 111.45,378.64 111.74,373.62 112.04,367.67 112.33,364.55 112.62,363.40 112.92,363.10 113.21,361.86 113.51,358.63 113.80,355.93 114.09,352.56 114.39,348.23 114.68,346.00 114.97,343.96 115.27,340.10 115.56,338.15 115.86,334.34 116.15,329.31 116.44,321.95 116.74,315.86 117.03,310.44 117.33,308.50 117.62,312.05 117.91,312.51 118.21,314.62 118.50,316.25 118.79,316.74 119.09,311.61 119.38,307.17 119.68,302.49 119.97,297.34 120.26,296.67 120.56,301.40 120.85,305.63 121.15,308.92 121.44,313.04 121.73,318.16 122.03,322.68 122.32,326.36 122.61,330.62 122.91,336.61 123.20,340.31 123.50,344.68 123.79,347.12 124.08,352.66 124.38,355.91 124.67,358.83 124.97,359.45 125.26,355.81 125.55,353.12 125.85,349.14 126.14,346.43 126.43,343.57 126.73,342.01 127.02,345.44 127.32,347.61 127.61,348.77 127.90,348.89 128.20,349.34 128.49,350.63 128.79,347.67 129.08,344.95 129.37,343.52 129.67,341.00 129.96,338.27 130.26,335.05 130.55,335.20 130.84,336.30 131.14,336.83 131.43,339.43 131.72,341.41 132.02,343.49 132.31,341.32 132.61,339.77 132.90,336.34 133.19,333.53 133.49,331.27 133.78,329.74 134.08,327.28 134.37,326.86 134.66,328.42 134.96,327.57 135.25,328.17 135.54,330.21 135.84,332.59 136.13,336.52 136.43,338.59 136.72,339.38 137.01,341.65 137.31,343.16 137.60,345.43 137.90,345.43 138.19,346.55 138.48,348.48 138.78,350.45 139.07,352.00 139.36,353.56 139.66,357.76 139.95,361.73 140.25,364.54 140.54,365.58 140.83,365.45 141.13,368.47 141.42,371.90 141.72,375.23 142.01,377.64 142.30,379.04 142.60,377.62 142.89,379.03 143.19,378.80 143.48,378.99 143.77,380.87 144.07,381.05 144.36,383.82 144.65,384.11 144.95,384.14 145.24,383.60 145.54,383.85 145.83,382.67 146.12,383.70 146.42,386.41 146.71,387.26 147.01,390.02 147.30,391.20 147.59,392.56 147.89,395.07 148.18,395.81 148.47,396.56 148.77,396.58 149.06,400.31 149.36,401.38 149.65,403.43 149.94,403.86 150.24,404.93 150.53,406.53 150.83,407.70 151.12,408.73 151.41,408.39 151.71,406.66 152.00,404.72 152.29,408.24 152.59,408.58 152.88,410.41 153.18,410.70 153.47,411.90 153.76,410.31 154.06,409.08 154.35,407.02 154.65,406.84 154.94,407.24 155.23,407.84 155.53,409.46 155.82,410.26 156.12,411.43 156.41,412.85 156.70,411.79 157.00,411.76 157.29,410.39 157.58,410.81 157.88,410.59 158.17,410.86 158.47,411.98 158.76,414.17 159.05,413.86 159.35,414.38 159.64,413.32 159.94,411.19 160.23,412.30 160.52,412.98 160.82,412.53 161.11,412.10 161.40,412.39 161.70,411.63 161.99,412.64 162.29,411.52 162.58,410.82 162.87,410.02 163.17,408.91 163.46,408.01 163.76,406.59 164.05,404.97 164.34,404.45 164.64,404.90 164.93,404.81 165.22,405.59 165.52,406.55 165.81,407.79 166.11,408.61 166.40,408.31 166.69,409.93 166.99,410.77 167.28,410.94 167.58,411.32 167.87,411.80 168.16,412.55 168.46,411.88 168.75,408.98 169.05,405.74 169.34,404.42 169.63,403.10 169.93,402.00 170.22,401.45 170.51,402.78 170.81,407.17 171.10,408.67 171.40,411.57 171.69,412.14 171.98,413.11 172.28,414.22 172.57,413.64 172.87,414.61 173.16,415.24 173.45,417.19 173.75,418.94 174.04,421.84 174.33,422.25 174.63,421.21 174.92,420.49 175.22,419.90 175.51,420.33 175.80,419.88 176.10,420.53 176.39,421.99 176.69,422.15 176.98,422.04 177.27,423.63 177.57,425.17 177.86,426.30 178.15,425.04 178.45,424.07 178.74,422.41 179.04,420.45 179.33,420.57 179.62,418.98 179.92,418.53 180.21,417.95 180.51,416.25 180.80,416.68 181.09,416.32 181.39,416.57 181.68,416.21 181.97,415.35 182.27,415.24 182.56,413.12 182.86,412.98 183.15,413.34 183.44,412.78 183.74,413.16 184.03,412.76 184.33,412.27 184.62,411.33 184.91,409.16 185.21,407.00 185.50,406.19 185.80,405.56 186.09,408.01 186.38,407.22 186.68,407.33 186.97,407.24 187.26,405.58 187.56,404.70 187.85,402.89 188.15,400.78 188.44,401.44 188.73,402.93 189.03,406.15 189.32,407.45 189.62,406.29 189.91,406.63 190.20,406.00 190.50,406.54 190.79,408.09 191.08,408.85 191.38,410.68 191.67,413.42 191.97,417.37 192.26,421.20 192.55,423.42 192.85,425.25 193.14,425.56 193.44,425.84 193.73,424.30 194.02,426.28 194.32,429.73 194.61,427.75 194.90,425.53 195.20,423.05 195.49,418.91 195.79,415.30 196.08,409.38 196.37,397.90 196.67,385.76 196.96,376.21 197.26,363.33 197.55,351.62 197.84,339.02 198.14,325.27 198.43,310.84 198.73,314.33 199.02,323.35 199.31,331.93 199.61,342.43 199.90,352.89 200.19,360.26 200.49,367.84 200.78,375.60 201.08,382.16 201.37,384.30 201.66,381.49 201.96,380.76 202.25,378.75 202.55,378.92 202.84,380.47 203.13,382.54 203.43,386.05 203.72,388.75 204.01,390.51 204.31,391.90 204.60,393.71 204.90,396.18 205.19,398.78 205.48,399.46 205.78,400.69 206.07,401.60 206.37,401.00 206.66,400.49 206.95,399.72 207.25,399.83 207.54,398.62 207.83,400.06 208.13,402.05 208.42,404.61 208.72,406.10 209.01,406.53 209.30,404.97 209.60,403.98 209.89,403.98 210.19,405.50 210.48,406.65 210.77,410.80 211.07,411.21 211.36,410.57 211.66,409.29 211.95,407.51 212.24,407.60 212.54,408.22 212.83,409.35 213.12,409.96 213.42,411.44 213.71,412.56 214.01,414.61 214.30,416.21 214.59,416.20 214.89,417.46 215.18,418.56 215.48,418.75 215.77,421.27 216.06,421.68 216.36,422.91 216.65,422.44 216.94,425.79 217.24,428.42 217.53,431.11 217.83,432.70 218.12,432.40 218.41,433.52 218.71,434.63 219.00,433.51 219.30,434.92 219.59,437.10 219.88,439.02 220.18,441.26 220.47,444.08 220.76,446.99 221.06,449.26 221.35,448.38 221.65,444.44 221.94,442.44 222.23,439.50 222.53,436.59 222.82,435.38 223.12,433.30 223.41,431.07 223.70,429.20 224.00,427.81 224.29,428.96 224.59,426.80 224.88,425.98 225.17,424.49 225.47,425.06 225.76,425.90 226.05,425.78 226.35,427.88 226.64,428.15 226.94,429.28 227.23,429.46 227.52,428.85 227.82,429.35 228.11,428.01 228.41,426.37 228.70,426.90 228.99,426.66 229.29,427.35 229.58,428.00 229.87,427.74 230.17,425.75 230.46,425.86 230.76,424.08 231.05,423.56 231.34,424.03 231.64,425.66 231.93,425.37 232.23,424.56 232.52,423.59 232.81,422.24 233.11,420.97 233.40,420.33 233.69,418.88 233.99,419.49 234.28,421.94 234.58,421.44 234.87,423.53 235.16,424.37 235.46,424.55 235.75,426.02 236.05,426.37 236.34,427.64 236.63,426.27 236.93,429.50 237.22,430.82 237.52,431.20 237.81,433.33 238.10,434.15 238.40,433.48 238.69,432.76 238.98,430.75 239.28,430.75 239.57,431.82 239.87,431.50 240.16,433.10 240.45,434.48 240.75,435.87 241.04,438.04 241.34,438.50 241.63,438.25 241.92,439.43 242.22,438.88 242.51,438.32 242.80,437.51 243.10,438.49 243.39,438.58 243.69,439.57 243.98,439.53 244.27,438.77 244.57,438.63 244.86,438.87 245.16,439.73 245.45,440.36 245.74,440.99 246.04,440.34 246.33,440.43 246.62,440.29 246.92,440.20 247.21,442.55 247.51,444.17 247.80,447.46 248.09,447.69 248.39,449.41 248.68,448.22 248.98,448.17 249.27,444.92 249.56,443.46 249.86,441.75 250.15,442.22 250.44,443.23 250.74,442.11 251.03,440.91 251.33,438.97 251.62,438.78 251.91,435.53 252.21,433.64 252.50,431.04 252.80,431.11 253.09,430.13 253.38,428.52 253.68,427.07 253.97,425.63 254.27,426.32 254.56,426.19 254.85,425.93 255.15,426.97 255.44,426.08 255.73,429.91 256.03,431.84 256.32,432.91 256.62,432.65 256.91,433.31 257.20,432.81 257.50,433.68 257.79,432.95 258.09,432.90 258.38,433.99 258.67,435.33 258.97,437.08 259.26,438.73 259.55,439.22 259.85,440.41 260.14,441.10 260.44,439.97 260.73,438.98 261.02,438.38 261.32,438.31 261.61,440.16 261.91,441.46 262.20,442.61 262.49,444.12 262.79,444.44 263.08,443.79 263.37,445.40 263.67,443.34 263.96,441.89 264.26,443.46 264.55,443.96 264.84,446.12 265.14,447.23 265.43,448.95 265.73,449.64 266.02,449.39 266.31,449.19 266.61,447.17 266.90,445.76 267.20,449.18 267.49,450.20 267.78,452.17 268.08,452.55 268.37,453.36 268.66,452.95 268.96,449.47 269.25,449.02 269.55,447.00 269.84,443.59 270.13,442.51 270.43,440.11 270.72,437.82 271.02,436.99 271.31,435.88 271.60,432.74 271.90,430.40 272.19,427.13 272.48,426.67 272.78,426.35 273.07,425.80 273.37,425.48 273.66,424.54 273.95,422.15 274.25,419.62 274.54,417.39 274.84,416.56 275.13,417.77 275.42,418.03 275.72,419.43 276.01,421.15 276.30,420.95 276.60,421.04 276.89,421.84 277.19,423.06 277.48,423.40 277.77,424.51 278.07,426.16 278.36,426.62 278.66,429.08 278.95,430.01 279.24,430.71 279.54,428.87 279.83,430.20 280.13,427.17 280.42,427.62 280.71,428.72 281.01,432.08 281.30,433.51 281.59,436.93 281.89,439.31 282.18,437.19 282.48,435.73 282.77,436.31 283.06,435.62 283.36,435.10 283.65,435.20 283.95,438.37 284.24,438.37 284.53,438.88 284.83,439.56 285.12,439.88 285.41,439.59 285.71,439.58 286.00,443.19 286.30,442.49 286.59,441.68 286.88,442.95 287.18,442.32 287.47,444.47 287.77,444.94 288.06,446.09 288.35,444.58 288.65,444.62 288.94,444.23 289.23,444.55 289.53,444.84 289.82,445.03 290.12,446.13 290.41,448.58 290.70,448.01 291.00,448.00 291.29,448.28 291.59,447.82 291.88,447.18 292.17,446.61 292.47,446.61 292.76,446.32 293.06,447.40 293.35,446.34 293.64,445.21 293.94,448.41 294.23,450.98 294.52,448.93 294.82,447.73 295.11,445.77 295.41,444.67 295.70,442.15 295.99,442.07 296.29,441.87 296.58,441.45 296.88,443.20 297.17,441.86 297.46,440.32 297.76,440.63 298.05,439.70 298.34,439.62 298.64,439.94 298.93,441.15 299.23,440.84 299.52,434.79 299.81,422.60 300.11,410.22 300.40,397.44 300.70,387.51 300.99,383.83 301.28,379.26 301.58,375.55 301.87,369.78 302.16,367.09 302.46,367.29 302.75,369.95 303.05,372.69 303.34,374.46 303.63,377.82 303.93,381.14 304.22,385.40 304.52,388.30 304.81,392.49 305.10,396.82 305.40,399.19 305.69,400.49 305.98,400.64 306.28,401.57 306.57,404.34 306.87,407.67 307.16,410.78 307.45,415.43 307.75,416.76 308.04,418.49 308.34,420.84 308.63,420.26 308.92,421.75 309.22,421.60 309.51,422.42 309.81,422.59 310.10,424.09 310.39,421.63 310.69,420.17 310.98,418.62 311.27,417.22 311.57,415.67 311.86,411.96 312.16,408.70 312.45,404.15 312.74,398.42 313.04,396.24 313.33,392.79 313.63,388.01 313.92,385.06 314.21,380.30 314.51,374.56 314.80,370.03 315.09,366.38 315.39,361.65 315.68,356.01 315.98,350.79 316.27,346.47 316.56,343.66 316.86,339.75 317.15,336.46 317.45,331.67 317.74,325.69 318.03,321.09 318.33,315.63 318.62,309.14 318.91,306.64 319.21,300.90 319.50,300.04 319.80,299.46 320.09,296.39 320.38,298.93 320.68,303.45 320.97,307.29 321.27,313.28 321.56,318.32 321.85,323.67 322.15,329.88 322.44,334.71 322.74,339.59 323.03,342.55 323.32,345.10 323.62,347.24 323.91,346.88 324.20,347.55 324.50,350.11 324.79,351.97 325.09,355.24 325.38,359.73 325.67,362.29 325.97,366.90 326.26,373.32 326.56,377.73 326.85,384.04 327.14,390.78 327.44,391.89 327.73,392.29 328.02,395.47 328.32,399.93 328.61,404.83 328.91,408.22 329.20,412.22 329.49,410.53 329.79,410.42 330.08,413.77 330.38,415.29 330.67,418.44 330.96,419.74 331.26,423.66 331.55,424.21 331.84,424.95 332.14,424.29 332.43,422.24 332.73,419.62 333.02,415.04 333.31,411.46 333.61,408.38 333.90,404.80 334.20,398.88 334.49,392.03 334.78,385.20 335.08,376.42 335.37,368.69 335.67,360.64 335.96,353.99 336.25,347.52 336.55,341.92 336.84,336.88 337.13,336.90 337.43,342.48 337.72,345.85 338.02,349.14 338.31,352.60 338.60,355.58 338.90,359.08 339.19,362.41 339.49,366.58 339.78,372.73 340.07,374.87 340.37,378.29 340.66,380.10 340.95,383.19 341.25,385.63 341.54,386.66 341.84,391.22 342.13,394.35 342.42,396.97 342.72,400.43 343.01,403.02 343.31,406.01 343.60,406.33 343.89,408.11 344.19,408.87 344.48,409.90 344.77,410.14 345.07,414.56 345.36,418.54 345.66,421.41 345.95,423.20 346.24,422.82 346.54,423.00 346.83,423.32 347.13,423.25 347.42,422.96 347.71,423.54 348.01,424.30 348.30,425.38 348.60,424.67 348.89,422.74 349.18,420.40 349.48,418.92 349.77,417.97 350.06,415.64 350.36,413.95 350.65,412.27 350.95,411.95 351.24,410.29 351.53,408.58 351.83,406.53 352.12,404.39 352.42,403.40 352.71,403.48 353.00,402.97 353.30,404.35 353.59,406.09 353.88,407.76 354.18,409.92 354.47,411.20 354.77,413.09 355.06,411.92 355.35,410.50 355.65,410.33 355.94,411.20 356.24,411.88 356.53,413.11 356.82,416.19 357.12,417.77 357.41,418.29 357.70,421.27 358.00,422.49 358.29,424.66 358.59,425.71 358.88,426.68 359.17,427.09 359.47,426.76 359.76,428.59 360.06,430.19 360.35,431.95 360.64,434.08 360.94,438.38 361.23,439.11 361.53,438.82 361.82,438.80 362.11,438.15 362.41,437.15 362.70,440.25 362.99,442.20 363.29,443.09 363.58,444.73 363.88,445.70 364.17,444.79 364.46,444.44 364.76,444.59 365.05,443.70 365.35,444.88 365.64,446.41 365.93,447.43 366.23,447.14 366.52,447.72 366.81,447.60 367.11,447.78 367.40,447.42 367.70,445.84 367.99,445.95 368.28,445.28 368.58,445.14 368.87,444.59 369.17,443.03 369.46,443.82 369.75,444.70 370.05,444.81 370.34,445.39 370.63,445.65 370.93,444.43 371.22,443.17 371.52,442.77 371.81,440.66 372.10,439.45 372.40,439.65 372.69,439.28 372.99,439.73 373.28,443.20 373.57,443.82 373.87,445.61 374.16,445.94 374.45,445.25 374.75,445.87 375.04,446.08 375.34,446.11 375.63,446.30 375.92,446.07 376.22,446.04 376.51,445.32 376.81,443.67 377.10,443.62 377.39,443.89 377.69,442.35 377.98,441.55 378.28,443.84 378.57,446.41 378.86,447.48 379.16,450.14 379.45,450.29 379.74,452.39 380.04,451.32 380.33,451.98 380.63,446.92 380.92,445.91 381.21,443.21 381.51,442.70 381.80,441.61 382.10,441.43 382.39,437.84 382.68,434.03 382.98,429.69 383.27,424.80 383.56,421.51 383.86,420.10 384.15,417.82 384.45,414.29 384.74,410.17 385.03,406.50 385.33,402.62 385.62,397.77 385.92,396.24 386.21,394.42 386.50,391.77 386.80,389.50 387.09,388.71 387.38,388.42 387.68,387.15 387.97,390.35 388.27,394.83 388.56,396.69 388.85,400.16 389.15,402.51 389.44,404.85 389.74,403.53 390.03,397.84 390.32,395.00 390.62,391.97 390.91,389.55 391.21,386.16 391.50,381.12 391.79,373.37 392.09,366.89 392.38,359.00 392.67,353.21 392.97,355.08 393.26,361.57 393.56,369.20 393.85,373.85 394.14,377.78 394.44,381.81 394.73,381.90 395.03,382.46 395.32,382.56 395.61,384.60 395.91,385.67 396.20,388.53 396.49,389.87 396.79,386.75 397.08,384.15 397.38,381.32 397.67,376.47 397.96,372.94 398.26,370.09 398.55,368.58 398.85,367.00 399.14,365.87 399.43,367.30 399.73,365.05 400.02,363.18 400.31,361.46 400.61,360.12 400.90,359.34 401.20,362.00 401.49,363.90 401.78,366.42 402.08,368.57 402.37,372.21 402.67,378.73 402.96,382.85 403.25,388.77 403.55,393.80 403.84,397.78 404.14,399.34 404.43,402.70 404.72,405.69 405.02,408.38 405.31,408.96 405.60,406.91 405.90,403.49 406.19,400.63 406.49,396.63 406.78,395.22 407.07,390.07 407.37,387.14 407.66,382.79 407.96,378.79 408.25,377.91 408.54,377.53 408.84,377.15 409.13,377.15 409.42,375.71 409.72,376.36 410.01,380.16 410.31,385.34 410.60,388.82 410.89,386.03 411.19,384.58 411.48,380.91 411.78,377.80 412.07,377.17 412.36,381.71 412.66,385.89 412.95,387.98 413.24,391.87 413.54,388.64 413.83,385.68 414.13,383.07 414.42,380.23 414.71,377.34 415.01,374.19 415.30,371.32 415.60,373.52 415.89,377.68 416.18,381.21 416.48,384.77 416.77,386.79 417.07,389.20 417.36,390.32 417.65,392.63 417.95,395.84 418.24,398.61 418.53,402.20 418.83,405.22 419.12,406.98 419.42,406.13 419.71,405.27 420.00,405.54 420.30,407.13 420.59,406.99 420.89,406.20 421.18,403.86 421.47,401.21 421.77,399.77 422.06,398.18 422.35,398.87 422.65,399.28 422.94,399.69 423.24,400.97 423.53,401.54 423.82,401.75 424.12,399.23 424.41,397.79 424.71,394.33 425.00,393.92 425.29,394.96 425.59,397.53 425.88,399.44 426.17,402.62 426.47,404.65 426.76,408.71 427.06,412.28 427.35,411.62 427.64,412.07 427.94,413.70 428.23,414.49 428.53,415.78 428.82,416.75 429.11,418.28 429.41,419.71 429.70,421.13 429.99,422.55 430.29,423.03 430.58,423.79 430.88,424.87 431.17,425.02 431.46,426.25 431.76,429.82 432.05,431.76 432.35,433.97 432.64,436.11 432.93,437.07 433.23,438.17 433.52,439.01 433.82,438.37 434.11,436.77 434.40,436.32 434.70,438.98 434.99,441.92 435.28,442.94 435.58,442.28 435.87,445.20 436.17,447.07 436.46,447.29 436.75,447.29 437.05,447.81 437.34,447.07 437.64,448.08 437.93,449.19 438.22,450.16 438.52,450.80 438.81,453.22 439.10,454.34 439.40,453.80 439.69,455.94 439.99,456.83 440.28,456.14 440.57,458.03 440.87,458.46 441.16,458.35 441.46,458.82 441.75,459.08 442.04,459.70 442.34,460.44 442.63,461.00 442.92,461.33 443.22,461.33 443.51,461.50 443.81,459.46 444.10,460.07 444.39,457.88 444.69,454.55 444.98,456.21 445.28,455.61 445.57,456.24 445.86,456.21 446.16,452.63 446.45,450.44 446.75,448.81 447.04,445.76 447.33,446.73 447.63,447.20 447.92,448.33 448.21,447.69 448.51,448.63 448.80,446.53 449.10,443.19 449.39,442.27 449.68,439.79 449.98,440.57 450.27,439.06 450.57,439.31 450.86,439.44 451.15,437.03 451.45,434.61 451.74,432.59 452.03,429.11 452.33,426.71 452.62,424.45 452.92,421.03 453.21,418.36 453.50,415.24 453.80,413.46 454.09,411.32 454.39,409.19 454.68,405.96 454.97,404.61 455.27,402.84 455.56,401.98 455.85,399.70 456.15,400.60 456.44,402.32 456.74,402.83 457.03,406.39 457.32,407.75 457.62,407.91 457.91,407.58 458.21,409.10 458.50,412.22 458.79,411.65 459.09,410.44 459.38,413.79 459.68,413.84 459.97,416.85 460.26,419.09 460.56,419.37 460.85,421.19 461.14,421.18 461.44,421.79 461.73,422.14 462.03,423.26 462.32,424.45 462.61,425.05 462.91,425.42 463.20,425.34 463.50,426.36 463.79,427.96 464.08,430.13 464.38,431.84 464.67,433.02 464.96,433.07 465.26,433.63 465.55,431.87 465.85,431.57 466.14,432.40 466.43,432.29 466.73,432.80 467.02,433.64 467.32,435.62 467.61,432.99 467.90,435.61 468.20,435.61 468.49,434.96 468.78,435.34 469.08,435.95 469.37,438.21 469.67,437.00 469.96,437.23 470.25,438.41 470.55,438.84 470.84,439.20 471.14,439.96 471.43,440.33 471.72,441.55 472.02,439.65 472.31,439.35 472.61,441.43 472.90,441.65 473.19,441.63 473.49,441.31 473.78,443.63 474.07,443.99 474.37,444.77 474.66,446.82 474.96,447.98 475.25,447.48 475.54,447.79 475.84,446.03 476.13,444.37 476.43,443.24 476.72,443.61 477.01,443.92 477.31,444.67 477.60,444.10 477.89,445.06 478.19,442.97 478.48,442.12 478.78,440.75 479.07,440.08 479.36,441.07 479.66,440.55 479.95,441.81 480.25,439.63 480.54,438.25 480.83,436.99 481.13,438.93 481.42,438.84 481.71,437.47 482.01,436.87 482.30,435.96 482.60,435.78 482.89,436.07 483.18,437.20 483.48,438.71 483.77,437.63 484.07,438.73 484.36,437.44 484.65,434.79 484.95,435.89 485.24,437.18 485.54,438.01 485.83,437.38 486.12,435.62 486.42,434.49 486.71,433.64 487.00,432.12 487.30,430.90 487.59,430.64 487.89,430.54 488.18,430.73 488.47,432.49 488.77,434.61 489.06,435.50 489.36,435.57 489.65,436.65 489.94,435.62 490.24,436.42 490.53,435.49 490.82,435.96 491.12,435.50 491.41,437.13 491.71,436.68 492.00,436.93" fill="none" stroke="#2030ff" stroke-width="0.7" stroke-dasharray="1.5,1.5"/><path d="M51.50,430.04 51.79,429.45 52.09,428.12 52.38,427.69 52.68,428.60 52.97,428.81 53.26,426.23 53.56,426.37 53.85,424.80 54.14,426.34 54.44,425.93 54.73,424.45 55.03,423.51 55.32,423.82 55.61,423.44 55.91,422.58 56.20,422.01 56.50,420.08 56.79,419.93 57.08,421.31 57.38,421.06 57.67,422.53 57.96,423.70 58.26,424.16 58.55,426.84 58.85,427.63 59.14,428.14 59.43,430.14 59.73,429.74 60.02,431.45 60.32,431.33 60.61,430.93 60.90,432.27 61.20,434.57 61.49,434.13 61.79,432.55 62.08,434.82 62.37,432.31 62.67,432.32 62.96,433.27 63.25,432.60 63.55,435.82 63.84,438.22 64.14,439.45 64.43,439.53 64.72,439.60 65.02,438.52 65.31,436.91 65.61,434.45 65.90,435.03 66.19,435.50 66.49,436.60 66.78,436.27 67.07,436.26 67.37,437.44 67.66,436.56 67.96,437.56 68.25,438.22 68.54,438.37 68.84,440.28 69.13,441.74 69.43,440.34 69.72,441.09 70.01,441.73 70.31,443.01 70.60,442.61 70.89,442.76 71.19,443.34 71.48,443.91 71.78,445.07 72.07,443.24 72.36,444.59 72.66,444.33 72.95,442.73 73.25,444.88 73.54,444.61 73.83,444.59 74.13,445.87 74.42,446.88 74.72,447.70 75.01,446.76 75.30,447.08 75.60,446.01 75.89,445.70 76.18,443.60 76.48,444.17 76.77,443.16 77.07,441.38 77.36,440.30 77.65,439.39 77.95,439.56 78.24,440.61 78.54,437.28 78.83,435.58 79.12,434.42 79.42,432.19 79.71,432.85 80.00,435.16 80.30,438.46 80.59,436.21 80.89,434.62 81.18,435.56 81.47,433.91 81.77,434.46 82.06,432.19 82.36,430.33 82.65,432.14 82.94,431.39 83.24,430.24 83.53,430.31 83.82,428.73 84.12,430.02 84.41,430.71 84.71,430.36 85.00,428.12 85.29,426.88 85.59,425.45 85.88,428.13 86.18,428.73 86.47,430.24 86.76,426.96 87.06,424.53 87.35,426.07 87.65,423.11 87.94,421.74 88.23,420.86 88.53,419.93 88.82,418.16 89.11,418.46 89.41,416.92 89.70,414.40 90.00,409.87 90.29,408.07 90.58,406.89 90.88,405.51 91.17,405.75 91.47,404.13 91.76,402.39 92.05,402.75 92.35,404.68 92.64,403.06 92.93,404.95 93.23,402.76 93.52,399.94 93.82,399.64 94.11,397.77 94.40,399.79 94.70,398.77 94.99,399.04 95.29,398.77 95.58,396.36 95.87,393.18 96.17,392.06 96.46,390.21 96.75,392.40 97.05,393.18 97.34,396.72 97.64,398.86 97.93,401.68 98.22,400.86 98.52,400.65 98.81,404.20 99.11,404.92 99.40,405.03 99.69,403.61 99.99,402.13 100.28,401.01 100.58,401.79 100.87,405.66 101.16,406.99 101.46,408.74 101.75,409.75 102.04,410.03 102.34,410.68 102.63,411.74 102.93,409.21 103.22,407.64 103.51,409.35 103.81,409.03 104.10,409.22 104.40,405.78 104.69,405.83 104.98,404.13 105.28,404.10 105.57,406.03 105.86,407.17 106.16,408.52 106.45,410.03 106.75,412.04 107.04,410.94 107.33,410.90 107.63,409.13 107.92,410.23 108.22,409.04 108.51,411.06 108.80,412.00 109.10,412.24 109.39,411.49 109.68,405.19 109.98,401.03 110.27,395.42 110.57,389.47 110.86,384.13 111.15,379.27 111.45,375.59 111.74,369.04 112.04,365.21 112.33,364.50 112.62,363.62 112.92,361.86 113.21,358.56 113.51,355.59 113.80,351.75 114.09,346.45 114.39,343.64 114.68,342.69 114.97,338.72 115.27,337.42 115.56,333.37 115.86,327.81 116.15,319.57 116.44,315.77 116.74,311.22 117.03,308.58 117.33,311.29 117.62,313.27 117.91,315.46 118.21,315.02 118.50,315.78 118.79,310.40 119.09,306.06 119.38,300.84 119.68,295.44 119.97,295.20 120.26,299.99 120.56,304.88 120.85,308.90 121.15,313.66 121.44,319.46 121.73,325.28 122.03,326.31 122.32,329.36 122.61,335.24 122.91,337.58 123.20,343.20 123.50,345.40 123.79,351.67 124.08,355.27 124.38,359.47 124.67,359.93 124.97,357.27 125.26,354.95 125.55,350.97 125.85,348.03 126.14,344.67 126.43,343.17 126.73,345.10 127.02,347.83 127.32,348.21 127.61,349.47 127.90,349.68 128.20,351.32 128.49,347.60 128.79,345.71 129.08,345.04 129.37,342.26 129.67,339.80 129.96,336.11 130.26,337.50 130.55,337.36 130.84,338.96 131.14,338.52 131.43,337.43 131.72,340.28 132.02,338.68 132.31,337.49 132.61,334.60 132.90,333.34 133.19,330.87 133.49,329.18 133.78,327.33 134.08,326.09 134.37,327.38 134.66,326.53 134.96,328.27 135.25,331.34 135.54,333.37 135.84,336.97 136.13,338.66 136.43,339.84 136.72,340.55 137.01,342.73 137.31,346.17 137.60,345.95 137.90,347.40 138.19,349.61 138.48,352.16 138.78,352.82 139.07,354.60 139.36,359.00 139.66,361.96 139.95,364.58 140.25,364.40 140.54,366.25 140.83,368.41 141.13,372.11 141.42,376.21 141.72,380.02 142.01,381.84 142.30,379.45 142.60,380.39 142.89,378.28 143.19,379.46 143.48,382.05 143.77,381.52 144.07,384.35 144.36,383.64 144.65,383.02 144.95,382.83 145.24,383.27 145.54,382.18 145.83,382.19 146.12,385.07 146.42,387.74 146.71,392.71 147.01,391.66 147.30,393.16 147.59,394.94 147.89,395.60 148.18,398.23 148.47,398.83 148.77,400.61 149.06,401.83 149.36,404.26 149.65,404.95 149.94,405.65 150.24,406.02 150.53,406.16 150.83,407.53 151.12,407.84 151.41,406.67 151.71,405.69 152.00,410.71 152.29,410.51 152.59,413.28 152.88,413.89 153.18,412.71 153.47,410.47 153.76,408.36 154.06,407.19 154.35,407.24 154.65,408.76 154.94,410.09 155.23,410.82 155.53,411.52 155.82,411.64 156.12,412.72 156.41,413.61 156.70,413.75 157.00,413.18 157.29,412.67 157.58,412.86 157.88,410.19 158.17,410.49 158.47,411.93 158.76,411.50 159.05,411.57 159.35,413.11 159.64,413.74 159.94,415.00 160.23,414.46 160.52,412.61 160.82,411.44 161.11,411.32 161.40,409.70 161.70,411.46 161.99,412.36 162.29,411.96 162.58,412.51 162.87,410.18 163.17,409.28 163.46,406.87 163.76,406.21 164.05,406.40 164.34,405.90 164.64,403.99 164.93,403.62 165.22,404.78 165.52,406.77 165.81,408.54 166.11,408.41 166.40,409.08 166.69,408.35 166.99,408.85 167.28,409.76 167.58,411.06 167.87,412.52 168.16,412.40 168.46,408.72 168.75,405.35 169.05,404.28 169.34,403.98 169.63,401.61 169.93,400.24 170.22,401.49 170.51,405.73 170.81,407.46 171.10,410.73 171.40,413.12 171.69,412.77 171.98,414.36 172.28,412.14 172.57,413.21 172.87,414.02 173.16,417.48 173.45,417.43 173.75,420.17 174.04,420.33 174.33,418.33 174.63,418.64 174.92,418.02 175.22,418.75 175.51,417.93 175.80,418.33 176.10,422.19 176.39,423.57 176.69,423.45 176.98,423.79 177.27,424.83 177.57,425.10 177.86,424.68 178.15,423.65 178.45,422.18 178.74,420.54 179.04,421.06 179.33,420.92 179.62,420.14 179.92,420.39 180.21,417.75 180.51,417.95 180.80,418.34 181.09,418.09 181.39,417.58 181.68,415.68 181.97,415.02 182.27,413.20 182.56,412.44 182.86,412.50 183.15,411.51 183.44,411.39 183.74,412.14 184.03,411.53 184.33,410.88 184.62,408.75 184.91,408.64 185.21,407.50 185.50,406.83 185.80,407.54 186.09,405.10 186.38,406.34 186.68,407.66 186.97,405.19 187.26,404.51 187.56,402.24 187.85,400.29 188.15,401.10 188.44,401.41 188.73,406.12 189.03,406.90 189.32,406.71 189.62,407.03 189.91,406.45 190.20,406.29 190.50,407.87 190.79,407.35 191.08,409.09 191.38,412.09 191.67,416.82 191.97,421.50 192.26,423.27 192.55,423.75 192.85,424.89 193.14,426.38 193.44,425.22 193.73,427.29 194.02,430.30 194.32,429.10 194.61,426.97 194.90,423.78 195.20,418.46 195.49,414.96 195.79,410.44 196.08,399.36 196.37,387.03 196.67,377.42 196.96,364.35 197.26,353.18 197.55,340.40 197.84,326.17 198.14,311.40 198.43,315.64 198.73,324.89 199.02,333.40 199.31,344.09 199.61,353.84 199.90,362.30 200.19,369.19 200.49,377.05 200.78,383.15 201.08,385.39 201.37,382.91 201.66,381.08 201.96,379.46 202.25,378.71 202.55,381.14 202.84,383.15 203.13,386.59 203.43,388.63 203.72,390.75 204.01,392.13 204.31,393.58 204.60,395.35 204.90,398.54 205.19,398.78 205.48,401.20 205.78,402.24 206.07,401.47 206.37,401.50 206.66,399.80 206.95,398.98 207.25,398.18 207.54,399.69 207.83,402.29 208.13,404.95 208.42,407.28 208.72,406.91 209.01,406.62 209.30,405.72 209.60,405.51 209.89,405.93 210.19,405.58 210.48,409.82 210.77,409.91 211.07,410.12 211.36,409.85 211.66,408.46 211.95,409.23 212.24,410.07 212.54,411.29 212.83,410.37 213.12,410.59 213.42,411.39 213.71,412.65 214.01,416.61 214.30,417.28 214.59,417.42 214.89,416.97 215.18,417.10 215.48,420.65 215.77,422.18 216.06,425.05 216.36,424.90 216.65,426.72 216.94,428.65 217.24,429.61 217.53,431.81 217.83,431.32 218.12,433.23 218.41,436.42 218.71,434.05 219.00,434.77 219.30,434.83 219.59,436.18 219.88,439.89 220.18,444.00 220.47,445.26 220.76,447.38 221.06,445.94 221.35,442.31 221.65,441.03 221.94,437.85 222.23,435.01 222.53,433.63 222.82,431.63 223.12,428.64 223.41,427.50 223.70,428.38 224.00,430.03 224.29,427.83 224.59,427.49 224.88,427.07 225.17,426.01 225.47,426.08 225.76,425.44 226.05,427.62 226.35,428.73 226.64,430.48 226.94,431.18 227.23,430.06 227.52,429.05 227.82,428.00 228.11,426.47 228.41,426.87 228.70,427.04 228.99,427.36 229.29,428.31 229.58,426.50 229.87,425.76 230.17,425.57 230.46,423.48 230.76,423.30 231.05,423.83 231.34,424.92 231.64,423.86 231.93,422.81 232.23,421.04 232.52,419.77 232.81,419.16 233.11,419.78 233.40,418.40 233.69,419.59 233.99,421.25 234.28,421.20 234.58,423.64 234.87,423.41 235.16,425.02 235.46,425.05 235.75,428.50 236.05,429.00 236.34,428.90 236.63,429.99 236.93,429.87 237.22,427.13 237.52,427.82 237.81,428.83 238.10,430.20 238.40,430.96 238.69,429.40 238.98,429.26 239.28,429.71 239.57,430.21 239.87,431.51 240.16,435.42 240.45,436.15 240.75,439.61 241.04,440.27 241.34,440.14 241.63,440.26 241.92,440.28 242.22,438.64 242.51,438.42 242.80,438.81 243.10,437.99 243.39,439.49 243.69,438.81 243.98,440.47 244.27,440.46 244.57,439.76 244.86,441.03 245.16,441.18 245.45,440.64 245.74,440.61 246.04,441.73 246.33,440.80 246.62,440.44 246.92,443.97 247.21,443.97 247.51,446.89 247.80,446.85 248.09,447.95 248.39,446.36 248.68,447.09 248.98,444.10 249.27,442.42 249.56,439.62 249.86,439.83 250.15,441.72 250.44,443.34 250.74,442.09 251.03,440.20 251.33,440.03 251.62,436.22 251.91,433.77 252.21,430.59 252.50,431.20 252.80,429.96 253.09,427.00 253.38,427.29 253.68,424.96 253.97,424.75 254.27,425.04 254.56,424.24 254.85,426.73 255.15,426.90 255.44,429.89 255.73,431.41 256.03,433.02 256.32,433.53 256.62,435.04 256.91,434.95 257.20,435.51 257.50,434.36 257.79,433.94 258.09,433.16 258.38,433.05 258.67,434.79 258.97,437.22 259.26,439.36 259.55,441.08 259.85,442.30 260.14,439.74 260.44,440.36 260.73,439.76 261.02,439.54 261.32,440.05 261.61,440.67 261.91,441.78 262.20,441.69 262.49,441.28 262.79,441.43 263.08,442.61 263.37,441.30 263.67,439.25 263.96,441.98 264.26,442.19 264.55,444.91 264.84,448.12 265.14,448.95 265.43,448.55 265.73,447.86 266.02,447.61 266.31,444.66 266.61,445.23 266.90,450.00 267.20,450.60 267.49,452.29 267.78,452.81 268.08,453.95 268.37,452.61 268.66,449.23 268.96,448.35 269.25,444.33 269.55,442.07 269.84,441.95 270.13,439.37 270.43,438.79 270.72,438.09 271.02,437.41 271.31,434.04 271.60,432.12 271.90,428.36 272.19,427.70 272.48,428.70 272.78,427.44 273.07,426.37 273.37,426.01 273.66,424.06 273.95,421.30 274.25,419.44 274.54,418.68 274.84,420.95 275.13,420.60 275.42,421.46 275.72,422.71 276.01,421.57 276.30,421.55 276.60,422.37 276.89,424.92 277.19,426.03 277.48,426.22 277.77,428.26 278.07,427.76 278.36,429.96 278.66,431.76 278.95,431.71 279.24,430.06 279.54,430.41 279.83,427.85 280.13,427.06 280.42,428.59 280.71,432.34 281.01,434.67 281.30,437.49 281.59,439.77 281.89,437.46 282.18,434.42 282.48,436.44 282.77,435.80 283.06,434.89 283.36,435.65 283.65,440.08 283.95,440.98 284.24,441.60 284.53,441.07 284.83,441.92 285.12,441.16 285.41,439.11 285.71,442.54 286.00,441.67 286.30,439.46 286.59,441.11 286.88,442.00 287.18,444.07 287.47,445.73 287.77,445.58 288.06,445.33 288.35,445.36 288.65,443.98 288.94,443.98 289.23,444.81 289.53,445.66 289.82,445.32 290.12,447.25 290.41,447.12 290.70,447.09 291.00,447.77 291.29,447.33 291.59,447.34 291.88,446.27 292.17,447.43 292.47,447.57 292.76,449.90 293.06,448.96 293.35,446.05 293.64,448.99 293.94,450.82 294.23,448.53 294.52,447.52 294.82,446.90 295.11,445.21 295.41,443.22 295.70,441.59 295.99,441.08 296.29,441.01 296.58,442.46 296.88,441.57 297.17,439.49 297.46,440.92 297.76,441.99 298.05,440.29 298.34,441.11 298.64,440.30 298.93,440.93 299.23,433.11 299.52,422.51 299.81,409.77 300.11,398.34 300.40,388.19 300.70,383.67 300.99,379.32 301.28,375.87 301.58,369.55 301.87,368.37 302.16,371.28 302.46,373.23 302.75,373.83 303.05,375.30 303.34,376.87 303.63,380.52 303.93,385.50 304.22,388.85 304.52,393.03 304.81,396.54 305.10,399.82 305.40,402.21 305.69,402.28 305.98,404.04 306.28,407.08 306.57,411.54 306.87,414.75 307.16,415.61 307.45,413.92 307.75,416.16 308.04,419.02 308.34,418.18 308.63,420.47 308.92,418.06 309.22,419.45 309.51,419.27 309.81,421.64 310.10,419.77 310.39,418.27 310.69,417.51 310.98,416.11 311.27,414.81 311.57,411.85 311.86,408.53 312.16,404.27 312.45,397.47 312.74,394.22 313.04,393.22 313.33,389.89 313.63,386.47 313.92,382.14 314.21,375.61 314.51,371.53 314.80,366.21 315.09,361.54 315.39,355.85 315.68,351.34 315.98,346.27 316.27,343.06 316.56,338.29 316.86,335.20 317.15,330.96 317.45,324.09 317.74,320.08 318.03,315.00 318.33,308.66 318.62,306.17 318.91,301.26 319.21,300.82 319.50,299.51 319.80,296.11 320.09,298.38 320.38,303.03 320.68,307.10 320.97,312.58 321.27,316.68 321.56,321.67 321.85,327.79 322.15,332.16 322.44,335.10 322.74,341.24 323.03,341.83 323.32,342.74 323.62,344.36 323.91,345.62 324.20,351.01 324.50,351.55 324.79,355.36 325.09,358.52 325.38,362.02 325.67,366.91 325.97,371.89 326.26,375.95 326.56,383.00 326.85,389.56 327.14,391.14 327.44,393.12 327.73,396.33 328.02,401.19 328.32,407.32 328.61,409.71 328.91,413.88 329.20,412.44 329.49,412.75 329.79,415.17 330.08,415.96 330.38,418.61 330.67,419.25 330.96,422.60 331.26,424.32 331.55,424.33 331.84,424.97 332.14,423.78 332.43,420.63 332.73,416.62 333.02,412.78 333.31,409.47 333.61,403.80 333.90,397.12 334.20,391.39 334.49,386.47 334.78,379.27 335.08,370.56 335.37,362.25 335.67,355.19 335.96,348.13 336.25,341.53 336.55,337.08 336.84,337.27 337.13,342.97 337.43,346.36 337.72,350.94 338.02,353.95 338.31,356.42 338.60,358.93 338.90,364.18 339.19,365.90 339.49,372.15 339.78,374.09 340.07,377.82 340.37,378.64 340.66,382.04 340.95,383.95 341.25,385.40 341.54,389.61 341.84,392.51 342.13,396.31 342.42,399.02 342.72,400.96 343.01,407.49 343.31,408.48 343.60,409.30 343.89,409.24 344.19,410.39 344.48,409.37 344.77,414.57 345.07,418.38 345.36,421.03 345.66,423.72 345.95,425.18 346.24,426.40 346.54,425.21 346.83,423.25 347.13,422.51 347.42,424.58 347.71,425.19 348.01,427.31 348.30,424.91 348.60,422.54 348.89,418.87 349.18,418.24 349.48,418.57 349.77,417.58 350.06,414.44 350.36,413.21 350.65,413.16 350.95,411.81 351.24,410.22 351.53,408.19 351.83,405.27 352.12,404.02 352.42,403.97 352.71,403.82 353.00,403.77 353.30,404.83 353.59,407.37 353.88,410.50 354.18,411.91 354.47,412.98 354.77,410.65 355.06,408.60 355.35,408.47 355.65,408.24 355.94,410.87 356.24,411.17 356.53,413.96 356.82,418.87 357.12,417.69 357.41,418.27 357.70,419.92 358.00,422.35 358.29,424.94 358.59,424.86 358.88,425.49 359.17,424.02 359.47,426.16 359.76,429.51 360.06,430.75 360.35,433.51 360.64,438.70 360.94,438.36 361.23,438.39 361.53,439.11 361.82,440.02 362.11,438.97 362.41,444.39 362.70,444.65 362.99,444.85 363.29,445.16 363.58,445.52 363.88,444.84 364.17,443.92 364.46,445.25 364.76,444.90 365.05,446.74 365.35,446.38 365.64,446.91 365.93,446.02 366.23,444.90 366.52,446.32 366.81,448.58 367.11,447.95 367.40,447.59 367.70,447.04 367.99,444.03 368.28,444.28 368.58,443.20 368.87,442.29 369.17,443.49 369.46,443.42 369.75,443.34 370.05,442.52 370.34,444.16 370.63,442.89 370.93,442.76 371.22,442.01 371.52,440.34 371.81,440.66 372.10,440.74 372.40,440.15 372.69,440.43 372.99,440.84 373.28,444.04 373.57,446.60 373.87,447.39 374.16,445.51 374.45,445.21 374.75,447.72 375.04,447.65 375.34,450.59 375.63,446.90 375.92,444.25 376.22,444.01 376.51,443.10 376.81,443.28 377.10,444.18 377.39,443.34 377.69,443.20 377.98,446.00 378.28,447.07 378.57,446.35 378.86,448.84 379.16,447.35 379.45,449.24 379.74,448.76 380.04,450.57 380.33,446.18 380.63,445.81 380.92,442.88 381.21,442.64 381.51,441.32 381.80,441.58 382.10,438.26 382.39,434.63 382.68,429.53 382.98,426.01 383.27,421.62 383.56,419.77 383.86,415.81 384.15,413.38 384.45,408.37 384.74,405.09 385.03,401.43 385.33,397.71 385.62,394.73 385.92,393.12 386.21,390.32 386.50,389.27 386.80,388.98 387.09,389.90 387.38,388.97 387.68,391.26 387.97,395.69 388.27,397.48 388.56,401.21 388.85,403.01 389.15,405.05 389.44,404.05 389.74,399.03 390.03,394.20 390.32,391.37 390.62,388.16 390.91,384.51 391.21,380.56 391.50,372.44 391.79,365.45 392.09,358.51 392.38,354.71 392.67,357.23 392.97,363.85 393.26,371.41 393.56,373.69 393.85,375.56 394.14,380.58 394.44,381.67 394.73,383.48 395.03,383.37 395.32,384.79 395.61,384.44 395.91,387.95 396.20,389.12 396.49,385.17 396.79,383.62 397.08,381.89 397.38,377.30 397.67,375.36 397.96,372.37 398.26,371.13 398.55,368.29 398.85,365.69 399.14,366.90 399.43,364.27 399.73,363.70 400.02,361.67 400.31,359.17 400.61,357.00 400.90,358.97 401.20,361.84 401.49,364.17 401.78,367.63 402.08,371.28 402.37,377.21 402.67,382.88 402.96,388.11 403.25,393.55 403.55,398.02 403.84,399.71 404.14,405.82 404.43,407.83 404.72,409.48 405.02,410.29 405.31,406.27 405.60,404.03 405.90,400.32 406.19,397.54 406.49,395.16 406.78,390.19 407.07,388.02 407.37,382.16 407.66,378.44 407.96,377.03 408.25,376.82 408.54,376.55 408.84,375.33 409.13,374.70 409.42,375.17 409.72,378.96 410.01,384.67 410.31,388.29 410.60,387.17 410.89,384.47 411.19,380.35 411.48,377.81 411.78,376.00 412.07,379.32 412.36,384.49 412.66,386.49 412.95,390.94 413.24,387.67 413.54,382.28 413.83,381.77 414.13,380.51 414.42,379.67 414.71,376.02 415.01,371.88 415.30,374.13 415.60,377.62 415.89,379.18 416.18,384.63 416.48,386.64 416.77,389.76 417.07,389.49 417.36,392.43 417.65,396.57 417.95,399.86 418.24,404.04 418.53,407.04 418.83,408.74 419.12,409.35 419.42,406.41 419.71,405.13 420.00,407.33 420.30,407.16 420.59,406.26 420.89,404.22 421.18,401.38 421.47,400.61 421.77,398.88 422.06,399.77 422.35,398.14 422.65,398.56 422.94,398.66 423.24,401.23 423.53,402.09 423.82,400.37 424.12,399.43 424.41,395.93 424.71,395.29 425.00,395.74 425.29,398.36 425.59,401.03 425.88,402.84 426.17,405.70 426.47,408.64 426.76,413.63 427.06,412.52 427.35,412.48 427.64,412.85 427.94,412.79 428.23,415.04 428.53,416.20 428.82,417.32 429.11,418.54 429.41,421.74 429.70,422.78 429.99,422.86 430.29,421.38 430.58,426.02 430.88,428.94 431.17,427.54 431.46,426.83 431.76,429.67 432.05,433.49 432.35,436.08 432.64,437.80 432.93,438.55 433.23,438.69 433.52,437.90 433.82,437.08 434.11,436.19 434.40,439.01 434.70,442.31 434.99,442.80 435.28,442.95 435.58,444.96 435.87,447.39 436.17,446.89 436.46,445.16 436.75,446.45 437.05,444.49 437.34,446.81 437.64,448.83 437.93,448.36 438.22,446.56 438.52,451.73 438.81,455.09 439.10,455.33 439.40,456.80 439.69,457.46 439.99,456.88 440.28,457.83 440.57,457.61 440.87,456.91 441.16,456.89 441.46,457.84 441.75,459.17 442.04,459.66 442.34,460.52 442.63,460.43 442.92,461.15 443.22,459.86 443.51,457.34 443.81,455.84 444.10,454.56 444.39,454.14 444.69,456.07 444.98,456.29 445.28,456.76 445.57,457.40 445.86,454.61 446.16,453.30 446.45,451.16 446.75,447.84 447.04,448.01 447.33,447.29 447.63,447.55 447.92,446.25 448.21,446.76 448.51,446.08 448.80,442.77 449.10,441.92 449.39,440.17 449.68,439.74 449.98,440.18 450.27,441.46 450.57,441.76 450.86,437.84 451.15,434.76 451.45,432.39 451.74,429.55 452.03,426.88 452.33,423.87 452.62,421.16 452.92,419.15 453.21,415.30 453.50,413.62 453.80,410.50 454.09,407.93 454.39,406.24 454.68,405.04 454.97,402.86 455.27,400.66 455.56,397.98 455.85,398.77 456.15,399.29 456.44,400.05 456.74,403.98 457.03,406.07 457.32,407.49 457.62,406.88 457.91,408.47 458.21,412.60 458.50,413.00 458.79,410.98 459.09,415.78 459.38,416.36 459.68,421.01 459.97,421.95 460.26,420.61 460.56,420.72 460.85,420.93 461.14,421.22 461.44,422.33 461.73,422.82 462.03,424.48 462.32,424.25 462.61,425.74 462.91,425.60 463.20,426.73 463.50,426.31 463.79,428.81 464.08,431.28 464.38,432.06 464.67,433.56 464.96,432.84 465.26,431.99 465.55,432.19 465.85,432.39 466.14,432.46 466.43,432.03 466.73,434.47 467.02,436.74 467.32,435.22 467.61,438.10 467.90,437.26 468.20,434.82 468.49,434.17 468.78,435.11 469.08,437.42 469.37,437.26 469.67,437.83 469.96,438.90 470.25,439.95 470.55,439.23 470.84,439.55 471.14,440.82 471.43,442.39 471.72,439.55 472.02,439.73 472.31,441.86 472.61,441.96 472.90,443.38 473.19,441.82 473.49,444.45 473.78,444.57 474.07,446.33 474.37,448.05 474.66,448.60 474.96,447.96 475.25,447.64 475.54,446.02 475.84,444.81 476.13,444.10 476.43,444.09 476.72,443.81 477.01,445.12 477.31,444.66 477.60,444.87 477.89,442.86 478.19,441.86 478.48,440.32 478.78,439.38 479.07,440.78 479.36,439.81 479.66,440.78 479.95,439.48 480.25,438.44 480.54,436.54 480.83,437.71 481.13,437.11 481.42,436.33 481.71,436.72 482.01,434.43 482.30,433.83 482.60,432.65 482.89,433.48 483.18,434.62 483.48,434.68 483.77,435.79 484.07,435.74 484.36,433.90 484.65,435.51 484.95,437.89 485.24,438.07 485.54,435.76 485.83,432.56 486.12,432.43 486.42,432.73 486.71,432.05 487.00,430.17 487.30,432.06 487.59,431.28 487.89,431.56 488.18,432.68 488.47,434.28 488.77,434.76 489.06,434.12 489.36,435.97 489.65,435.07 489.94,436.98 490.24,437.01 490.53,436.60 490.82,436.35 491.12,437.66 491.41,435.87 491.71,437.10 492.00,436.96" fill="none" stroke="#10e010" stroke-width="0.95" stroke-linejoin="round"/></g>
<rect x="51.3" y="273.2" width="440.90" height="209.10" fill="none" stroke="#c4c4c4" stroke-width="1"/>
<path d="M198.27,482.3v-4.5M198.27,273.2v4.5M345.23,482.3v-4.5M345.23,273.2v4.5M51.3,452.43h4.4M492.2,452.43h-4.4M51.3,422.56h4.4M492.2,422.56h-4.4M51.3,392.69h4.4M492.2,392.69h-4.4M51.3,362.81h4.4M492.2,362.81h-4.4M51.3,332.94h4.4M492.2,332.94h-4.4M51.3,303.07h4.4M492.2,303.07h-4.4" stroke="#c4c4c4" stroke-width="1" fill="none"/>
<text transform="translate(48.20,487.50) scale(0.8,1)" font-size="12.6" text-anchor="end" font-family='"Liberation Sans", Arial, sans-serif' font-weight="normal" fill="#2b2b2b" stroke="#2b2b2b" stroke-width="0.25" >0</text>
<text transform="translate(48.20,457.63) scale(0.8,1)" font-size="12.6" text-anchor="end" font-family='"Liberation Sans", Arial, sans-serif' font-weight="normal" fill="#2b2b2b" stroke="#2b2b2b" stroke-width="0.25" >1</text>
<text transform="translate(48.20,427.76) scale(0.8,1)" font-size="12.6" text-anchor="end" font-family='"Liberation Sans", Arial, sans-serif' font-weight="normal" fill="#2b2b2b" stroke="#2b2b2b" stroke-width="0.25" >2</text>
<text transform="translate(48.20,397.89) scale(0.8,1)" font-size="12.6" text-anchor="end" font-family='"Liberation Sans", Arial, sans-serif' font-weight="normal" fill="#2b2b2b" stroke="#2b2b2b" stroke-width="0.25" >3</text>
<text transform="translate(48.20,368.01) scale(0.8,1)" font-size="12.6" text-anchor="end" font-family='"Liberation Sans", Arial, sans-serif' font-weight="normal" fill="#2b2b2b" stroke="#2b2b2b" stroke-width="0.25" >4</text>
<text transform="translate(48.20,338.14) scale(0.8,1)" font-size="12.6" text-anchor="end" font-family='"Liberation Sans", Arial, sans-serif' font-weight="normal" fill="#2b2b2b" stroke="#2b2b2b" stroke-width="0.25" >5</text>
<text transform="translate(48.20,308.27) scale(0.8,1)" font-size="12.6" text-anchor="end" font-family='"Liberation Sans", Arial, sans-serif' font-weight="normal" fill="#2b2b2b" stroke="#2b2b2b" stroke-width="0.25" >6</text>
<text transform="translate(48.20,278.40) scale(0.8,1)" font-size="12.6" text-anchor="end" font-family='"Liberation Sans", Arial, sans-serif' font-weight="normal" fill="#2b2b2b" stroke="#2b2b2b" stroke-width="0.25" >7</text>
<text transform="translate(51.50,499.30) scale(0.78,1)" font-size="12.6" text-anchor="middle" font-family='"Liberation Sans", Arial, sans-serif' font-weight="normal" fill="#2b2b2b" stroke="#2b2b2b" stroke-width="0.25" >0</text>
<text transform="translate(198.47,499.30) scale(0.78,1)" font-size="12.6" text-anchor="middle" font-family='"Liberation Sans", Arial, sans-serif' font-weight="normal" fill="#2b2b2b" stroke="#2b2b2b" stroke-width="0.25" >500</text>
<text transform="translate(345.43,499.30) scale(0.78,1)" font-size="12.6" text-anchor="middle" font-family='"Liberation Sans", Arial, sans-serif' font-weight="normal" fill="#2b2b2b" stroke="#2b2b2b" stroke-width="0.25" >1000</text>
<text transform="translate(492.40,499.30) scale(0.78,1)" font-size="12.6" text-anchor="middle" font-family='"Liberation Sans", Arial, sans-serif' font-weight="normal" fill="#2b2b2b" stroke="#2b2b2b" stroke-width="0.25" >1500</text>
<text transform="translate(271.80,517.50) scale(0.78,1)" font-size="13.8" text-anchor="middle" font-family='"Liberation Sans", Arial, sans-serif' font-weight="normal" fill="#2b2b2b" stroke="#2b2b2b" stroke-width="0.25" >time/h</text>
<text transform="translate(38.5,377.7) rotate(-90) scale(1.12,0.72)" font-size="12.5" text-anchor="middle" font-family='"Liberation Sans", Arial, sans-serif' fill="#2b2b2b" stroke="#2b2b2b" stroke-width="0.25">significant wave height/m</text>
<text transform="translate(261.70,542.40) scale(1,1)" font-size="13" text-anchor="middle" font-family='"Liberation Serif", "Times New Roman", serif' font-weight="bold" fill="#111" stroke="#111" stroke-width="0.25" >(b)</text>
<rect x="180.5" y="281.7" width="108.30" height="49.80" fill="#fff" stroke="#c4c4c4" stroke-width="0.8"/>
<clipPath id="cib"><rect x="180.5" y="281.7" width="108.30" height="49.80"/></clipPath>
<g clip-path="url(#cib)"><polyline points="225.4,332 228.6,270 232.1,332" fill="none" stroke="#333" stroke-width="1.3"/><polyline points="232.4,332 234.2,288.4 238.4,332" fill="none" stroke="#f06060" stroke-width="0.9"/><polyline points="223.3,332 228.5,294.6 232.7,332" fill="none" stroke="#1030ff" stroke-width="1.5" stroke-dasharray="2,1.6"/><polyline points="221.7,332 228.3,282.7 234.2,332" fill="none" stroke="#30d030" stroke-width="0.9"/></g>
<text transform="translate(177.40,302.00) scale(0.78,1)" font-size="10.2" text-anchor="end" font-family='"Liberation Sans", Arial, sans-serif' font-weight="normal" fill="#2b2b2b" stroke="#2b2b2b" stroke-width="0.25" >1.9</text>
<text transform="translate(177.40,330.50) scale(0.78,1)" font-size="10.2" text-anchor="end" font-family='"Liberation Sans", Arial, sans-serif' font-weight="normal" fill="#2b2b2b" stroke="#2b2b2b" stroke-width="0.25" >1.85</text>
<text transform="translate(195.40,345.40) scale(0.75,1)" font-size="11" text-anchor="middle" font-family='"Liberation Sans", Arial, sans-serif' font-weight="normal" fill="#2b2b2b" stroke="#2b2b2b" stroke-width="0.25" >685</text>
<text transform="translate(222.70,345.40) scale(0.75,1)" font-size="11" text-anchor="middle" font-family='"Liberation Sans", Arial, sans-serif' font-weight="normal" fill="#2b2b2b" stroke="#2b2b2b" stroke-width="0.25" >690</text>
<text transform="translate(250.50,345.40) scale(0.75,1)" font-size="11" text-anchor="middle" font-family='"Liberation Sans", Arial, sans-serif' font-weight="normal" fill="#2b2b2b" stroke="#2b2b2b" stroke-width="0.25" >695</text>
<text transform="translate(278.50,345.40) scale(0.75,1)" font-size="11" text-anchor="middle" font-family='"Liberation Sans", Arial, sans-serif' font-weight="normal" fill="#2b2b2b" stroke="#2b2b2b" stroke-width="0.25" >700</text>
<path d="M195.4,331.5v-1.4M195.4,281.7v1.4M222.7,331.5v-1.4M222.7,281.7v1.4M250.5,331.5v-1.4M250.5,281.7v1.4M278.5,331.5v-1.4M278.5,281.7v1.4M180.5,297.4h1.4M288.8,297.4h-1.4M180.5,326.6h1.4M288.8,326.6h-1.4" stroke="#c4c4c4" stroke-width="0.8" fill="none"/>
<line x1="250.1" y1="331.5" x2="253.2" y2="419" stroke="#555" stroke-width="0.6"/>
<polygon points="253.4,422 251.6,417.5 254.9,417.4" fill="#222"/>
<circle cx="254.3" cy="428.2" r="6.1" fill="none" stroke="#999" stroke-width="0.8"/>
<rect x="401.4" y="278.3" width="86.60" height="60.10" fill="#fff" stroke="#c4c4c4" stroke-width="0.8"/>
<line x1="402.8" y1="286.40" x2="411.1" y2="286.40" stroke="#111" stroke-width="1.0"/>
<text transform="translate(412.40,290.80) scale(0.8,1)" font-size="11.2" text-anchor="start" font-family='"Liberation Sans", Arial, sans-serif' font-weight="normal" fill="#1a1a1a" stroke="#1a1a1a" stroke-width="0.25" >Observed</text>
<line x1="402.8" y1="301.20" x2="411.1" y2="301.20" stroke="#f08080" stroke-width="1.0"/>
<text transform="translate(412.40,305.60) scale(0.8,1)" font-size="11.2" text-anchor="start" font-family='"Liberation Sans", Arial, sans-serif' font-weight="normal" fill="#1a1a1a" stroke="#1a1a1a" stroke-width="0.25" >LSSVM</text>
<line x1="402.8" y1="316.00" x2="411.1" y2="316.00" stroke="#4040d0" stroke-width="1.2" stroke-dasharray="2.2,2"/>
<text transform="translate(412.40,320.40) scale(0.8,1)" font-size="11.2" text-anchor="start" font-family='"Liberation Sans", Arial, sans-serif' font-weight="normal" fill="#1a1a1a" stroke="#1a1a1a" stroke-width="0.25" >EMD-LSSVM</text>
<line x1="402.8" y1="330.80" x2="411.1" y2="330.80" stroke="#40d040" stroke-width="1.0"/>
<text transform="translate(412.40,335.20) scale(0.8,1)" font-size="11.2" text-anchor="start" font-family='"Liberation Sans", Arial, sans-serif' font-weight="normal" fill="#1a1a1a" stroke="#1a1a1a" stroke-width="0.25" >EMD-PSO-LSSVM</text>
</svg>
</body></html>
